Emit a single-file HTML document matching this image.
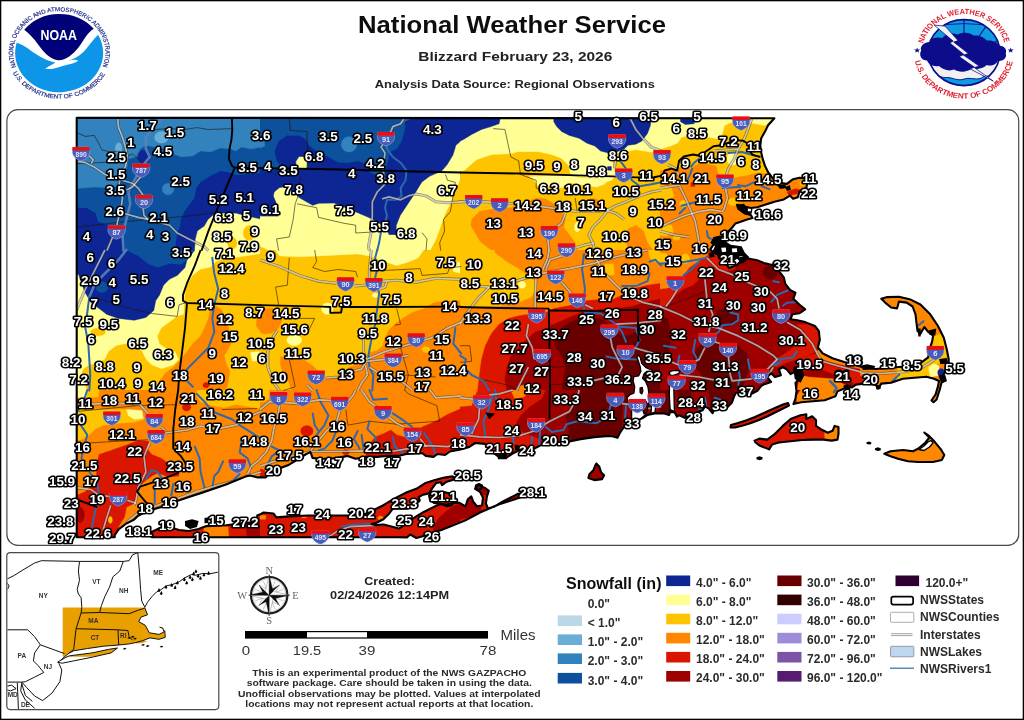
<!DOCTYPE html>
<html><head><meta charset="utf-8"><title>National Weather Service - Blizzard February 23, 2026</title>
<style>
html,body{margin:0;padding:0;background:#fff;}
body{width:1024px;height:720px;overflow:hidden;font-family:"Liberation Sans",sans-serif;}
svg{display:block;position:absolute;left:0;top:0;}
text{font-family:"Liberation Sans",sans-serif;}
.lb{font-weight:bold;font-size:12.1px;fill:#fff;stroke:#000;stroke-width:3.2px;paint-order:stroke fill;stroke-linejoin:round;text-anchor:middle;}
.sh{font-weight:bold;font-size:6.6px;fill:#dfe6ff;text-anchor:middle;}
.lg{font-weight:bold;font-size:12px;fill:#2b2b2b;}
.ins{font-size:6.5px;fill:#333;text-anchor:middle;font-weight:bold;}
</style></head><body>
<svg width="1024" height="720" viewBox="0 0 1024 720">
<rect x="0" y="0" width="1024" height="720" fill="#fff"/>
<filter id="soft" x="0" y="0" width="1024" height="720" filterUnits="userSpaceOnUse"><feGaussianBlur stdDeviation="0.42"/></filter>
<g filter="url(#soft)">

<g transform="translate(59.4,52.4) scale(1.12,1)">
<circle r="39.2" fill="#fff"/>
<path d="M-31.4,-22.6 A39,39 0 0 1 30.7,-23.6 C25,-20 22,-12 17,-5 C12,2 6,7.5 -0.7,7.9 C-8,7 -13,1 -19,-8 C-23,-14 -27,-19 -31.4,-22.6 Z" fill="#000078"/>
<path d="M-38.2,-9.6 A39.3,39.3 0 1 0 34.6,-17.6 C29,-12 26,-5 20.9,0 C17,4 13,6.5 8.3,8.2 C12,7.3 15,7 16.7,8 C15,10.5 8,12 2.8,13.5 C-3,15.5 -8,17.5 -12.6,16.4 C-10,14 -6,12 -3.5,10.2 C-12,8 -18,4 -25.1,-1.5 C-30,-5.5 -34,-8.5 -38.2,-9.6 Z" fill="#0a95e8"/>
<text x="-0.6" y="-12.9" text-anchor="middle" font-weight="bold" font-size="14.5" fill="#fff" textLength="32.5" lengthAdjust="spacingAndGlyphs">NOAA</text>
<path id="noaaT" d="M-38.46,14.76 A41.20,41.20 0 1 1 38.46,14.76" fill="none"/>
<path id="noaaB" d="M-41.52,20.25 A46.20,46.20 0 0 0 41.16,20.97" fill="none"/>
<text font-size="5.8" fill="#28348e" stroke="#28348e" stroke-width="0.2" textLength="158.6" lengthAdjust="spacingAndGlyphs"><textPath href="#noaaT" textLength="158.6" lengthAdjust="spacingAndGlyphs">NATIONAL OCEANIC AND ATMOSPHERIC ADMINISTRATION</textPath></text>
<text font-size="5.8" fill="#28348e" stroke="#28348e" stroke-width="0.2"><textPath href="#noaaB" textLength="101.4" lengthAdjust="spacingAndGlyphs">U.S. DEPARTMENT OF COMMERCE</textPath></text>
</g>
<text x="512" y="33.2" text-anchor="middle" font-weight="bold" font-size="23" fill="#111" textLength="308" lengthAdjust="spacingAndGlyphs">National Weather Service</text>
<text x="515.3" y="60.8" text-anchor="middle" font-weight="bold" font-size="13.7" fill="#222" textLength="194" lengthAdjust="spacingAndGlyphs">Blizzard February 23, 2026</text>
<text x="514.8" y="88.1" text-anchor="middle" font-weight="bold" font-size="11.6" fill="#222" textLength="280" lengthAdjust="spacingAndGlyphs">Analysis Data Source: Regional Observations</text>
<g transform="translate(964,52.6) scale(1.085,1)">
<clipPath id="nwsc"><circle r="33"/></clipPath>
<circle r="33" fill="#0b9ade"/>
<g clip-path="url(#nwsc)">
<line x1="0" y1="6" x2="-34.6" y2="-14.0" stroke="#0a0a8c" stroke-width="1"/>
<line x1="0" y1="6" x2="-21.2" y2="-27.9" stroke="#0a0a8c" stroke-width="1"/>
<line x1="0" y1="6" x2="0.0" y2="-34.0" stroke="#0a0a8c" stroke-width="1"/>
<line x1="0" y1="6" x2="21.2" y2="-27.9" stroke="#0a0a8c" stroke-width="1"/>
<line x1="0" y1="6" x2="34.6" y2="-14.0" stroke="#0a0a8c" stroke-width="1"/>
<path d="M-40,-24 Q0,-34 40,-24" fill="none" stroke="#0a0a8c" stroke-width="0.8"/>
<path d="M-34,8 L34,8 L34,22 C28,27 24,22 18,24 C13,29 6,24 0,26.5 C-6,29 -12,24 -17,25 C-23,25 -27,20 -34,22 Z" fill="#f0f0f0" stroke="#0a0a8c" stroke-width="0.9"/>
</g>
<circle r="33" fill="none" stroke="#0a0a8c" stroke-width="1.6"/>
<path d="M-39.5,-2 C-41,-7 -36,-10 -32,-10.5 C-30,-15 -24,-16 -20,-14.5 C-17,-19 -10,-20 -6,-18 C-1,-21 6,-20 9,-17 C14,-18 19,-15 21,-12 C26,-13 31,-10 32,-7 C37,-7 40,-3 38.5,1 C40,5 36,9 31,8.5 C30,12 25,14 21,12.5 C18,16 11,17.5 7,16 C3,20 -5,20 -9,17 C-14,19 -20,17 -23,13.5 C-28,14.5 -33,12 -34,8 C-39,8 -42,3 -39.5,-2 Z" fill="#0a0a8c"/>
<path d="M-27.5,-27.5 L-17.5,-26.5 L-5.5,-12 L-9.5,-10.5 L4,1 L-0.5,2.5 L14,13.5 L9.5,15 L27,28.5 L6,16.5 L9.5,14.5 L-4.5,4 L0,2 L-13,-9.5 L-10,-11.5 Z" fill="#f2f2f2" stroke="#0a0a8c" stroke-width="0.7" stroke-linejoin="miter"/>
<path id="nwsT" d="M-37.53,-9.01 A38.60,38.60 0 0 1 37.53,-9.01" fill="none"/>
<path id="nwsB" d="M-45.23,8.38 A46.00,46.00 0 0 0 45.23,8.38" fill="none"/>
<text font-size="7.6" font-weight="bold" fill="#e0202e"><textPath href="#nwsT" textLength="102.1" lengthAdjust="spacingAndGlyphs">NATIONAL WEATHER SERVICE</textPath></text>
<text font-size="7.6" font-weight="bold" fill="#e0202e"><textPath href="#nwsB" textLength="126.7" lengthAdjust="spacingAndGlyphs">U.S. DEPARTMENT OF COMMERCE</textPath></text>
<polygon points="-43.20,-5.20 -42.49,-3.17 -40.35,-3.13 -42.06,-1.83 -41.44,0.23 -43.20,-1.00 -44.96,0.23 -44.34,-1.83 -46.05,-3.13 -43.91,-3.17" fill="#0a0a8c"/>
<polygon points="43.00,-5.20 43.71,-3.17 45.85,-3.13 44.14,-1.83 44.76,0.23 43.00,-1.00 41.24,0.23 41.86,-1.83 40.15,-3.13 42.29,-3.17" fill="#0a0a8c"/>
</g>
<rect x="6.9" y="109.6" width="1011.8" height="435.8" rx="11" ry="11" fill="#fff" stroke="#4a4a4a" stroke-width="1.2"/>
<clipPath id="land">
<path d="M76.7,117.7 L774.4,118.3 L768.1,125.3 L765,131.6 L761.1,138.6 L760.3,145.6 L761.1,151.9 L762.7,158.9 L765,165.9 L768.1,172.2 L772.8,178.4 L780.6,183.1 L786.9,183.9 L793.1,179.2 L799.4,177.7 L805.6,178.4 L807.2,183.1 L806.4,187.8 L799.4,191.7 L797.8,197.2 L793.1,198.8 L790,195.6 L783.8,199.4 L774.4,201.7 L765,204.8 L757.2,207.2 L750.9,208 L743.1,206.4 L736.9,204.8 L738.4,208.8 L744.7,213.4 L750.9,215 L752.5,218.1 L746.3,219.7 L740,222 L735.3,223.6 L732.2,227.5 L729.1,230.6 L723.6,235.3 L718.1,240 L713.4,244.7 L710.3,249.4 L713.4,252.5 L721.3,255.6 L725.9,263.4 L729.1,268.1 L736.9,265 L743.1,258.8 L749.4,258.8 L757.2,260.3 L765,263.4 L772.8,265 L779.1,271.3 L783.8,277.5 L785.3,283.8 L790,290 L795.4,292.8 L793.4,298.7 L799.3,304.5 L805.2,309.4 L799.3,313.3 L792.5,314.3 L790.5,319.2 L797.3,320.2 L805.2,322.1 L814.9,326 L818.8,330.9 L819.8,339.7 L817.9,347.5 L822.7,353.4 L832.5,358.2 L844.2,362.1 L855.9,365.1 L861.8,367 L875.5,369 L887.2,368 L898.9,367 L910.6,366.1 L920.4,363.1 L928.2,357.3 L929.2,349.5 L932.1,341.6 L933.1,335.8 L928.2,331.9 L924.3,327 L920.4,333.8 L917.5,330.9 L916.5,323.1 L915.5,314.3 L912.6,306.5 L906.7,302.6 L898.9,301.6 L897.9,305.5 L897,308.4 L891.1,307.5 L885.2,302.6 L881.3,298.7 L887.2,297.1 L898.9,296.7 L910.6,299.6 L920.4,304.5 L930.2,314.3 L938,326 L943.8,337.7 L946.8,349.5 L948.7,359.2 L948.7,367 L945.8,370.9 L941.9,376.8 L944.8,380.7 L941.5,382.7 L939.5,390.5 L936.6,399.5 L933.5,402.2 L931.5,400.5 L935.6,394.4 L937.9,386.6 L939,381 L934.1,378.8 L926.3,376.8 L914.5,377.8 L902.8,378.8 L891.1,382.7 L881.3,383.6 L878.4,388.5 L875.5,384.6 L863.8,383.6 L855.9,384.6 L852,387.5 L847.1,385.6 L844.2,388.5 L837.4,391.4 L835.4,396.3 L824.7,400.2 L813,401.2 L801.3,402.2 L793.4,404.1 L795.5,398.6 L796.5,390.8 L795.5,383 L800.4,377.1 L801.4,372.2 L795.5,371.3 L790.6,374.2 L786.7,369.3 L782.8,367.3 L778.9,369.3 L780.9,375.2 L775,377.1 L771.1,373.2 L767.2,377.1 L771.1,382 L765.2,383.9 L761.3,385.9 L757.4,390.8 L751.6,393.7 L743.8,391.8 L735.9,392.7 L734,396.6 L732,402.5 L728.1,406.4 L722.3,408.4 L714.5,409.3 L712.5,413.2 L708.6,408.4 L704.7,406.4 L702.7,410.3 L696.9,412.3 L689.1,417.1 L685.2,418.1 L679.3,415.2 L676.9,416.6 L674.5,411.9 L670.6,410.3 L669.1,415 L664.4,413.4 L655,413.4 L647.2,415 L642.5,418.1 L633.4,422.4 L627.5,423.4 L623.6,427.3 L619.7,433.2 L617.5,437.7 L611.3,436.1 L606,436.1 L594.3,437.1 L580.6,439.1 L567,442 L553.3,443.9 L541.6,444.9 L533.8,448.8 L522,448.8 L514.2,452.7 L506.4,457.6 L498.6,456.6 L490.8,450.8 L484.9,443.9 L475.2,443 L469.3,446.9 L459.5,449.8 L450,451.5 L445,455 L437.5,454 L433.6,456.9 L425.8,455.9 L421.9,453 L406.3,453.9 L398.4,455.9 L386.7,455.9 L377,456.9 L367.2,456.9 L355.5,458.8 L347.7,455.9 L337.9,457.9 L328.1,458.8 L318.4,458.8 L312.5,457.9 L310.5,452 L306.6,453.9 L298.8,458.8 L289.1,464.7 L279.3,468.6 L269.5,473.5 L265.6,477.4 L257.8,477.4 L250,475.4 L245.5,476.6 L235.8,480.5 L226,484.5 L212.3,489.3 L200.6,493.2 L188.9,497.1 L177.2,501.1 L165.5,505.9 L157.7,507.9 L145.9,511.8 L138.1,515.7 L134.2,519.6 L126.4,523.5 L118.6,529.4 L114.7,535.2 L114.7,537.2 L76.7,537.2 Z"/>
<path d="M151.7,537.2 L151.7,532 L159.5,528.1 L169.3,527.1 L179,530 L188.8,531 L198.6,529 L206.4,526.1 L226,525.2 L233.8,524.2 L250,522.5 L257.2,522.2 L257.2,515.4 L261,514 L263.7,512.5 L273.4,513.5 L276.4,517.4 L289.1,516.4 L308.6,515.5 L328.1,515.5 L347.7,515.5 L360,516.5 L371.7,511 L383.4,505.2 L395.2,498.1 L406.9,492.3 L416.3,488.8 L425.6,482.9 L435,480 L444.4,477.6 L452.6,476.4 L454.6,477.6 L452.6,480 L446.7,481.7 L442,485.2 L440.9,482.3 L436.2,482.9 L432.7,487.6 L429.1,493.4 L423.3,494.6 L418.6,497 L419.8,500.5 L416.3,504 L406.9,508.7 L392.8,508.7 L389.3,513.4 L383.4,519.2 L376.4,522.7 L371.7,523.9 L375.2,525.1 L383.4,524.5 L390.5,526.3 L398.7,528.6 L401,527.4 L408,522 L416.3,516.3 L423.3,512.2 L430.3,508.7 L437.3,505.2 L442,504 L446.7,506.3 L451.4,505.2 L453.8,502.8 L459.6,502.8 L465.5,506.3 L467.8,499.3 L471.3,496.4 L473.2,501.6 L477.1,506.4 L482,505.5 L483,497.7 L480,491.8 L475.2,488.9 L478.1,485 L484.9,487.9 L488.8,490.8 L486.9,496.7 L485.9,503.5 L487.9,508.4 L494.7,506.4 L502.5,501.6 L510.3,497.7 L518.1,493.8 L525.9,493.3 L522,496.7 L514.2,499.6 L498.6,504.5 L480,512.5 L465.5,520.4 L453.8,525.1 L442,529.8 L435,532.1 L425.6,535.6 L416.3,538 L410.4,534.5 L406.9,537.4 L398.7,537.2 L151.8,537.2 Z"/>
<path d="M429.1,495.5 L433,492.6 L438,491.5 L444,492 L450,493.5 L455,497 L456,501 L452,503.5 L446,504.5 L440,503.8 L434,503 L430,500 Z"/>
<path d="M476,485.5 L479,484 L482,485.5 L481.5,488.5 L478,490 L475.5,488.5 Z"/>
<path d="M754.5,440.6 L759.4,438.6 L767.2,439.6 L775,433.8 L782.8,425.9 L790.6,419.1 L800.4,415.2 L806.3,414.2 L806.3,419.1 L812.1,416.2 L816,420.1 L816,425.9 L821.9,429.8 L827.7,432.8 L832.6,430.8 L834.6,425.9 L838.5,426.9 L838.5,433.8 L837.5,439.6 L831.6,440.6 L823.8,439.6 L814.1,439.6 L802.3,440 L790.6,441.2 L778.9,442.5 L772.1,444.5 L769.1,449.4 L764.3,447.4 L759.4,445.5 L755.5,442.5 Z"/>
<path d="M884.3,453.8 L890.5,451.3 L903,450 L913,451.3 L918,448.8 L925.5,442.5 L929.3,437.5 L924.3,432.5 L928,435 L934.3,441.3 L940.5,448.8 L944.3,455 L941.8,460 L933,462 L918,462 L908,461.3 L898,458.8 L890.5,456.3 Z"/>
<path d="M596.3,463.5 L599.2,466.4 L601.1,472.3 L604.1,475.2 L602.1,479.1 L594.3,480.1 L588.4,478.1 L589.4,474.2 L593.3,470.3 L595.3,465.4 Z"/>
<path d="M789,405.5 L783,408.5 L777,411.5 L767,416.5 L759,420 L751,423 L743,425.5 L735,427.5 L730.5,427.5 L731,425 L738,423 L746,420.5 L755,417 L765,412.5 L775,408 L783,404.5 L788,403 Z"/>
</clipPath>
<clipPath id="frame"><rect x="8" y="110" width="1010" height="434.5" rx="10"/></clipPath>
<g clip-path="url(#frame)">
<g clip-path="url(#land)">
<rect x="60" y="110" width="960" height="440" fill="#db1400"/>
<clipPath id="t0"><rect x="60" y="110" width="200" height="140"/></clipPath>
<g clip-path="url(#t0)">
<rect x="60" y="110" width="200" height="140" fill="#08519c"/>
<path d="M60,110 L231.9,110 L231.9,149.1 L220.2,148.1 L210.4,152 L200.6,151 L192.8,155.9 L181.1,156.9 L173.3,153.9 L169.4,149.1 L153.8,147.1 L145.9,145.2 L140.1,149.1 L136.2,156.9 L128.4,158.8 L127.4,166.6 L124.5,174.5 L118.6,178.4 L116.6,186.2 L106.9,188.1 L95.2,187.1 L83.4,188.1 L60,189.1 Z" fill="#3182bd" stroke="#3182bd" stroke-width="0.4"/>
<path d="M231.9,110 L261.2,110 L261.2,147.1 L251.4,149.1 L241.6,147.1 L235.8,151 L230.9,149.1 Z" fill="#3182bd" stroke="#3182bd" stroke-width="0.4"/>
<path d="M60,206.7 L87.3,208.6 L95.2,213.5 L98.1,222.3 L108.8,225.2 L118.6,227.2 L122.5,235 L124.5,250.6 L60,250.6 Z" fill="#082694" stroke="#082694" stroke-width="0.4"/>
<path d="M261.2,173.5 L235.8,175.4 L228,172.5 L220.2,171.5 L210.4,176.4 L200.6,182.3 L196.7,188.1 L194.8,197.9 L188.9,205.7 L185,211.6 L181.1,219.4 L180.1,227.2 L177.2,235 L175.2,250.6 L261.2,250.6 Z" fill="#082694" stroke="#082694" stroke-width="0.4"/>
<path d="M150.6,156.9 L150,159.9 L148.3,162.4 L145.8,163.7 L143,163.7 L140.5,162.4 L138.7,159.9 L138.1,156.9 L138.7,153.8 L140.5,151.4 L143,150 L145.8,150 L148.3,151.4 L150,153.8 Z" fill="#082694" stroke="#082694" stroke-width="0.4"/>
<path d="M168.6,137.3 L167.9,139.9 L165.9,141.9 L163.1,143.1 L160,143.1 L157.2,141.9 L155.2,139.9 L154.5,137.3 L155.2,134.8 L157.2,132.8 L160,131.6 L163.1,131.6 L165.9,132.8 L167.9,134.8 Z" fill="#6baed6" stroke="#6baed6" stroke-width="0.4"/>
<path d="M121.9,148.5 L121.6,151 L120.7,153.1 L119.3,154.2 L117.9,154.2 L116.5,153.1 L115.6,151 L115.3,148.5 L115.6,145.9 L116.5,143.9 L117.9,142.8 L119.3,142.8 L120.7,143.9 L121.6,145.9 Z" fill="#6baed6" stroke="#6baed6" stroke-width="0.4"/>
<path d="M173.9,189.1 L173.3,191.6 L171.7,193.7 L169.3,194.8 L166.7,194.8 L164.4,193.7 L162.7,191.6 L162.1,189.1 L162.7,186.6 L164.4,184.5 L166.7,183.4 L169.3,183.4 L171.7,184.5 L173.3,186.6 Z" fill="#3182bd" stroke="#3182bd" stroke-width="0.4"/>
<path d="M194.8,250.6 L195.7,238.9 L197.7,231.1 L204.5,226.2 L208.4,219.4 L214.3,214.5 L222.1,213.5 L235.8,213.5 L247.5,216.4 L261.2,219.4 L261.2,250.6 Z" fill="#ffff96" stroke="#ffff96" stroke-width="0.4"/>
<path d="M254.9,233 L254.3,236.3 L252.7,238.8 L250.4,240.3 L247.8,240.3 L245.4,238.8 L243.8,236.3 L243.2,233 L243.8,229.8 L245.4,227.2 L247.8,225.8 L250.4,225.8 L252.7,227.2 L254.3,229.8 Z" fill="#ffc400" stroke="#ffc400" stroke-width="0.4"/>
<path d="M237,243.2 L236.5,245.7 L235.2,247.8 L233.3,248.9 L231.2,248.9 L229.3,247.8 L228,245.7 L227.6,243.2 L228,240.7 L229.3,238.6 L231.2,237.5 L233.3,237.5 L235.2,238.6 L236.5,240.7 Z" fill="#ffc400" stroke="#ffc400" stroke-width="0.4"/>
</g>
<clipPath id="t1"><rect x="260" y="110" width="200" height="140"/></clipPath>
<g clip-path="url(#t1)">
<rect x="260" y="110" width="200" height="140" fill="#082694"/>
<path d="M260,110 L402.6,110 L405.5,127.6 L401.6,141.2 L396.7,149.1 L389.9,152 L387.9,160.8 L385,172.5 L377.2,175.4 L370.4,172.5 L366.4,163.7 L357.7,161.2 L345.9,163.1 L338.1,162.3 L326.4,155.9 L314.7,150 L308.8,145.2 L305.9,139.3 L299.1,135.4 L287.3,135.4 L278.6,141.2 L274.6,151 L276.6,160.8 L281.5,166.6 L271.7,171.5 L260,169.6 Z" fill="#08519c" stroke="#08519c" stroke-width="0.4"/>
<path d="M356.9,144.4 L356.1,147.8 L353.9,150.5 L350.8,152 L347.3,152 L344.2,150.5 L342,147.8 L341.2,144.4 L342,141 L344.2,138.3 L347.3,136.8 L350.8,136.8 L353.9,138.3 L356.1,141 Z" fill="#3182bd" stroke="#3182bd" stroke-width="0.4"/>
<path d="M260,137.3 L263.9,139.3 L264.9,146.1 L260,148.1 Z" fill="#3182bd" stroke="#3182bd" stroke-width="0.4"/>
<path d="M260,216.4 L278.6,216.4 L278.6,207.7 L273.7,195.9 L274.6,192 L279.5,188.1 L286.4,187.1 L299.1,197.9 L312.7,205.7 L318.6,203.8 L334.2,203.4 L353.8,211.6 L365.5,216.4 L372.3,219.4 L385,227.2 L388.9,235 L396.7,235 L396.7,225.2 L400.6,215.5 L408.4,203.8 L416.2,192 L422.1,182.3 L429.9,176.4 L441.6,171.5 L447.5,164.7 L453.4,154.9 L456.3,145.2 L461.2,141.2 L461.2,250.6 L260,250.6 Z" fill="#ffff96" stroke="#ffff96" stroke-width="0.4"/>
<path d="M296.1,161.8 L299.1,156.9 L303.9,156.9 L306.9,160.8 L306.9,168.6 L297.1,168.6 Z" fill="#ffff96" stroke="#ffff96" stroke-width="0.4"/>
<path d="M465.1,168.6 L458.2,185 L451.6,201.6 L445,215.1 L436.8,238.3 L429.9,251.6 L465.1,251.6 Z" fill="#ffc400" stroke="#ffc400" stroke-width="0.4"/>
<path d="M260,246.7 L265.9,249.1 L267.8,250.6 L260,250.6 Z" fill="#ffc400" stroke="#ffc400" stroke-width="0.4"/>
</g>
<clipPath id="t2"><rect x="460" y="110" width="200" height="140"/></clipPath>
<g clip-path="url(#t2)">
<rect x="460" y="110" width="200" height="140" fill="#ffff96"/>
<path d="M460,110 L502,110 L499.1,123.7 L491.2,126.6 L481.5,129.5 L471.7,134.4 L463.9,139.3 L460,141.2 Z" fill="#082694" stroke="#082694" stroke-width="0.4"/>
<path d="M553.8,110 L652.4,110 L650.4,125.6 L647.5,133.4 L641.6,141.2 L635.8,144.2 L628,145.2 L624.1,149.1 L616.2,152 L608.4,153 L600.6,151 L594.8,146.1 L587,143.2 L579.1,138.3 L569.4,135.4 L561.6,131.5 L556.7,126.6 L553.8,121.7 Z" fill="#082694" stroke="#082694" stroke-width="0.4"/>
<path d="M460,172.9 L465.1,170 L476.6,160 L491.6,154.9 L510.8,153.9 L518.6,152 L538.1,152 L551.8,154.9 L561.6,158.8 L568.4,165.7 L570.4,174.5 L581.1,177.4 L596.7,178.4 L604.5,183.2 L612.3,180.3 L616.2,174.5 L614.3,168.6 L612.3,158.8 L616.2,153.9 L626,152 L635.8,150 L647.5,152 L661.2,153.9 L661.2,250.6 L460,250.6 Z" fill="#ffc400" stroke="#ffc400" stroke-width="0.4"/>
<path d="M529.3,176.4 L570.4,175.4 L581.1,178 L596.7,178.8 L605.5,183.8 L596.7,187.1 L585,185.2 L569.4,182.7 L561.6,187.7 L545.9,186.6 L537.1,185.2 L534.2,180.3 Z" fill="#ffff96" stroke="#ffff96" stroke-width="0.4"/>
<path d="M494.4,252.6 L480.3,241.6 L470.9,225.8 L471.7,219.4 L479.5,211.6 L495.2,208.6 L510.8,207.7 L524.5,201.8 L538.1,197.9 L545.9,198.9 L553.8,203.8 L561.6,211.6 L565.5,219.4 L563.5,227.2 L569.4,235 L575.2,242.8 L577.2,252.6 Z" fill="#ff8700" stroke="#ff8700" stroke-width="0.4"/>
<path d="M601,205.1 L600.2,208 L597.9,210.3 L594.6,211.6 L591,211.6 L587.7,210.3 L585.4,208 L584.6,205.1 L585.4,202.2 L587.7,199.9 L591,198.6 L594.6,198.6 L597.9,199.9 L600.2,202.2 Z" fill="#ff8700" stroke="#ff8700" stroke-width="0.4"/>
<path d="M628,229.1 L635.8,225.2 L643.6,231.1 L647.5,242.8 L653.4,250.6 L628,250.6 L626,238.9 Z" fill="#ff8700" stroke="#ff8700" stroke-width="0.4"/>
<path d="M579.9,227.2 L579.7,229.2 L578.9,230.9 L577.8,231.8 L576.6,231.8 L575.5,230.9 L574.7,229.2 L574.5,227.2 L574.7,225.2 L575.5,223.5 L576.6,222.6 L577.8,222.6 L578.9,223.5 L579.7,225.2 Z" fill="#ffff96" stroke="#ffff96" stroke-width="0.4"/>
<path d="M607.5,166.6 L611.4,166.6 L611.4,170.2 L607.5,170.2 Z" fill="#082694" stroke="#082694" stroke-width="0.4"/>
</g>
<clipPath id="t3"><rect x="660" y="110" width="200" height="140"/></clipPath>
<g clip-path="url(#t3)">
<rect x="660" y="110" width="200" height="140" fill="#ff8700"/>
<path d="M660,149.1 L667.8,147.1 L677.6,143.2 L681.5,137.3 L689.3,135.4 L708.8,137.3 L718.6,139.3 L722.5,133.4 L724.5,125.6 L730.3,122.7 L751.8,123.3 L765.5,125.6 L772.3,118.8 L777.2,118.8 L777.2,174.5 L757.7,172.5 L745.9,175.4 L734.2,177.4 L718.6,174.5 L716.6,165.7 L703,162.7 L695.2,164.7 L691.2,168.6 L681.5,166.6 L671.7,168.6 L660,170.5 Z" fill="#ffc400" stroke="#ffc400" stroke-width="0.4"/>
<path d="M660,110 L775.2,110 L772.3,118.8 L765.5,125.6 L751.8,123.3 L730.3,122.7 L724.5,125.6 L722.5,133.4 L718.6,139.3 L708.8,137.3 L689.3,135.4 L681.5,137.3 L677.6,143.2 L667.8,147.1 L660,149.1 Z" fill="#ffff96" stroke="#ffff96" stroke-width="0.4"/>
<path d="M738.5,158.8 L737.9,161.5 L736.3,163.7 L734,164.9 L731.4,164.9 L729,163.7 L727.4,161.5 L726.8,158.8 L727.4,156.1 L729,153.9 L731.4,152.7 L734,152.7 L736.3,153.9 L737.9,156.1 Z" fill="#ffff96" stroke="#ffff96" stroke-width="0.4"/>
<path d="M660,184.2 L671.7,188.1 L673.7,195.9 L667.8,203.8 L660,201.8 Z" fill="#ffc400" stroke="#ffc400" stroke-width="0.4"/>
<path d="M687.3,203.8 L687,205.3 L685.9,206.5 L684.3,207.2 L682.6,207.2 L681,206.5 L679.9,205.3 L679.5,203.8 L679.9,202.2 L681,201 L682.6,200.3 L684.3,200.3 L685.9,201 L687,202.2 Z" fill="#ffc400" stroke="#ffc400" stroke-width="0.4"/>
<path d="M738.1,201.8 L737.6,203.5 L736.3,204.9 L734.3,205.6 L732.2,205.6 L730.2,204.9 L728.8,203.5 L728.4,201.8 L728.8,200.1 L730.2,198.7 L732.2,198 L734.3,198 L736.3,198.7 L737.6,200.1 Z" fill="#ffc400" stroke="#ffc400" stroke-width="0.4"/>
<path d="M660,223.3 L671.7,225.2 L673.7,233 L665.9,236 L660,235 Z" fill="#ffc400" stroke="#ffc400" stroke-width="0.4"/>
<path d="M680.1,237.9 L679.8,238.9 L678.8,239.8 L677.4,240.2 L675.8,240.2 L674.4,239.8 L673.4,238.9 L673.1,237.9 L673.4,236.9 L674.4,236.1 L675.8,235.6 L677.4,235.6 L678.8,236.1 L679.8,236.9 Z" fill="#ffc400" stroke="#ffc400" stroke-width="0.4"/>
<path d="M787,192 L794.8,188.7 L801,189.7 L796.7,194 L788.9,195.4 Z" fill="#db1400" stroke="#db1400" stroke-width="0.4"/>
<path d="M690.9,182.7 L694.8,182.7 L694.8,186.6 L690.9,186.6 Z" fill="#db1400" stroke="#db1400" stroke-width="0.4"/>
<path d="M800.2,181.3 L805.5,181.3 L805.5,185.4 L800.2,185.4 Z" fill="#ffc400" stroke="#ffc400" stroke-width="0.4"/>
<path d="M680.5,110 L695.2,110 L694.2,123.7 L685.4,124.6 L680.5,121.7 Z" fill="#082694" stroke="#082694" stroke-width="0.4"/>
</g>
<clipPath id="t4"><rect x="60" y="250" width="200" height="140"/></clipPath>
<g clip-path="url(#t4)">
<rect x="60" y="250" width="200" height="140" fill="#ffff96"/>
<path d="M60,250 L194.8,250 L187,259.8 L185,267.6 L177.2,275.4 L169.4,279.3 L163.5,285.2 L159.6,294.9 L155.7,300.8 L153.8,310.5 L145.9,317.4 L134.2,320.3 L118.6,318.4 L106.9,314.5 L99.1,308.6 L91.2,302.7 L85.4,293 L81.5,283.2 L78.6,274.4 L60,272.5 Z" fill="#082694" stroke="#082694" stroke-width="0.4"/>
<path d="M126.4,250 L194.8,250 L187,259.8 L181.1,264.6 L169.4,263.7 L157.7,267.6 L147.9,263.7 L138.1,255.9 Z" fill="#08519c" stroke="#08519c" stroke-width="0.4"/>
<path d="M107.9,287.1 L107.3,289.5 L105.6,291.4 L103.3,292.4 L100.7,292.4 L98.3,291.4 L96.7,289.5 L96.1,287.1 L96.7,284.7 L98.3,282.8 L100.7,281.8 L103.3,281.8 L105.6,282.8 L107.3,284.7 Z" fill="#08519c" stroke="#08519c" stroke-width="0.4"/>
<path d="M261.2,253.9 L235.8,257.8 L222.1,259.8 L216.2,261.7 L210.4,267.6 L200.6,269.5 L192.8,275.4 L187,285.2 L185,294.9 L184,314.5 L177.2,316.4 L169.4,322.3 L161.6,328.1 L157.7,335.9 L159.6,343.8 L165.5,347.7 L175.2,351.6 L179.1,359.4 L173.3,365.2 L161.6,369.1 L151.8,365.2 L145.9,359.4 L142,351.6 L136.2,345.7 L126.4,343.8 L116.6,345.7 L108.8,351.6 L104.9,359.4 L97.1,363.3 L89.3,365.2 L83.4,369.1 L81.5,375 L85.4,384.8 L87.3,390.6 L261.2,390.6 Z" fill="#ffc400" stroke="#ffc400" stroke-width="0.4"/>
<path d="M105.5,332 L104.8,333.7 L102.7,335.1 L99.7,335.8 L96.4,335.8 L93.5,335.1 L91.4,333.7 L90.7,332 L91.4,330.3 L93.5,329 L96.4,328.2 L99.7,328.2 L102.7,329 L104.8,330.3 Z" fill="#ffc400" stroke="#ffc400" stroke-width="0.4"/>
<path d="M210.4,308.6 L216.2,306.2 L222.1,310.5 L226,320.3 L229.9,332 L231.9,341.8 L228,349.6 L224.1,355.5 L226,363.3 L229.9,371.1 L228,382.8 L226,390.6 L155.7,390.6 L159.6,380.9 L165.5,373 L173.3,367.2 L181.1,359.4 L187,351.6 L192.8,343.8 L200.6,335.9 L204.5,328.1 L208.4,318.4 Z" fill="#ff8700" stroke="#ff8700" stroke-width="0.4"/>
<path d="M209.2,385.2 L208.9,386.3 L208,387.3 L206.8,387.8 L205.4,387.8 L204.1,387.3 L203.3,386.3 L203,385.2 L203.3,384 L204.1,383 L205.4,382.5 L206.8,382.5 L208,383 L208.9,384 Z" fill="#db1400" stroke="#db1400" stroke-width="0.4"/>
<path d="M250.4,352.5 L259.2,351.6 L259.2,360.4 L252.4,361.3 Z" fill="#ffff96" stroke="#ffff96" stroke-width="0.4"/>
<path d="M261.2,312.5 L256.9,316.4 L256.3,326.2 L261.2,332 Z" fill="#ff8700" stroke="#ff8700" stroke-width="0.4"/>
</g>
<clipPath id="t5"><rect x="260" y="250" width="200" height="140"/></clipPath>
<g clip-path="url(#t5)">
<rect x="260" y="250" width="200" height="140" fill="#ffc400"/>
<path d="M275.6,250 L279.5,255.9 L299.1,256.8 L318.6,255.9 L338.1,254.9 L357.7,253.9 L369.4,255.9 L385,261.7 L396.7,265.6 L408.4,262.1 L418.2,257.8 L423.7,250 Z" fill="#ffff96" stroke="#ffff96" stroke-width="0.4"/>
<path d="M452.4,263.7 L461.2,261.7 L461.2,273.4 L453.4,271.5 Z" fill="#ffff96" stroke="#ffff96" stroke-width="0.4"/>
<path d="M333.2,308.6 L332.7,311.1 L331,313.2 L328.7,314.3 L326.1,314.3 L323.7,313.2 L322.1,311.1 L321.5,308.6 L322.1,306.1 L323.7,304 L326.1,302.9 L328.7,302.9 L331,304 L332.7,306.1 Z" fill="#ffff96" stroke="#ffff96" stroke-width="0.4"/>
<path d="M301.6,340.2 L300.9,342.6 L298.8,344.5 L295.8,345.6 L292.5,345.6 L289.6,344.5 L287.5,342.6 L286.8,340.2 L287.5,337.9 L289.6,336 L292.5,334.9 L295.8,334.9 L298.8,336 L300.9,337.9 Z" fill="#ffff96" stroke="#ffff96" stroke-width="0.4"/>
<path d="M378.2,295.3 L377.9,296.3 L377.1,297.1 L375.9,297.6 L374.6,297.6 L373.4,297.1 L372.6,296.3 L372.3,295.3 L372.6,294.3 L373.4,293.5 L374.6,293 L375.9,293 L377.1,293.5 L377.9,294.3 Z" fill="#ffff96" stroke="#ffff96" stroke-width="0.4"/>
<path d="M260,312.5 L263.9,308.6 L271.7,308.2 L279.5,312.5 L281.9,320.3 L278.6,328.1 L271.7,333 L263.9,334 L260,332 Z" fill="#ff8700" stroke="#ff8700" stroke-width="0.4"/>
<path d="M280.5,356.4 L289.3,358.4 L304.9,360.4 L312.5,365.8 L325,377 L338.9,377 L350,366.8 L362.5,363.7 L366.4,362.3 L366.4,390.6 L291.2,390.6 L289.3,382.8 L283.4,375 L280.5,365.2 Z" fill="#ff8700" stroke="#ff8700" stroke-width="0.4"/>
<path d="M461.2,300.4 L443.6,301.2 L433.8,302.7 L424.1,308.6 L412.3,312.5 L402.6,318.4 L394.8,324.2 L388.9,330.1 L385,337.9 L383,345.7 L377.2,350.6 L369.4,352.5 L366.4,359.4 L366.4,390.6 L461.2,390.6 Z" fill="#ff8700" stroke="#ff8700" stroke-width="0.4"/>
<path d="M429.9,349.6 L429.5,350.9 L428.5,351.9 L426.9,352.5 L425.1,352.5 L423.6,351.9 L422.5,350.9 L422.1,349.6 L422.5,348.3 L423.6,347.3 L425.1,346.8 L426.9,346.8 L428.5,347.3 L429.5,348.3 Z" fill="#ffc400" stroke="#ffc400" stroke-width="0.4"/>
</g>
<clipPath id="t6"><rect x="460" y="250" width="200" height="140"/></clipPath>
<g clip-path="url(#t6)">
<rect x="460" y="250" width="200" height="140" fill="#ff8700"/>
<path d="M460,250 L494.4,250 L494.4,252.5 L506.9,261.9 L522.5,271.3 L528.8,277.5 L535.2,280.7 L536.6,289.1 L531.3,296.9 L518.6,302.3 L499.1,305.7 L479.5,306.6 L460,306.2 Z" fill="#ffc400" stroke="#ffc400" stroke-width="0.4"/>
<path d="M525.6,284.8 L525.3,286.3 L524.3,287.5 L522.9,288.2 L521.3,288.2 L519.9,287.5 L518.9,286.3 L518.6,284.8 L518.9,283.2 L519.9,282 L521.3,281.3 L522.9,281.3 L524.3,282 L525.3,283.2 Z" fill="#ffff96" stroke="#ffff96" stroke-width="0.4"/>
<path d="M648.5,250 L661.2,250 L661.2,262.7 L653.4,261.7 L649.5,256.8 Z" fill="#ffc400" stroke="#ffc400" stroke-width="0.4"/>
<path d="M604.5,264.6 L613.3,263.7 L614.3,274.4 L606.5,275.4 Z" fill="#ffc400" stroke="#ffc400" stroke-width="0.4"/>
<path d="M477.6,390.6 L479.5,375 L481.5,359.4 L485.4,345.7 L491.2,334 L499.1,324.2 L508.8,318.4 L520.5,315.4 L527.4,314.5 L545.9,312.5 L553.8,308.6 L569.4,305.7 L577.2,303.1 L585,300.8 L596.7,299.8 L612.3,299.8 L620.2,295.9 L628,292 L635.8,288.1 L647.5,285.2 L661.2,283.2 L661.2,390.6 Z" fill="#db1400" stroke="#db1400" stroke-width="0.4"/>
<path d="M506.9,390.6 L504.9,378.9 L506.9,367.2 L510.8,356.4 L518.6,347.7 L528.4,337.9 L535.2,332 L545.9,329.1 L550.2,325.8 L578.6,313.7 L585,310.9 L600.6,309.6 L616.2,308.6 L631.9,306.6 L643.6,302.7 L661.2,298.8 L661.2,390.6 Z" fill="#9e0000" stroke="#9e0000" stroke-width="0.4"/>
<path d="M561.6,390.6 L563.5,378.9 L565.5,367.2 L561.6,355.5 L555.7,347.7 L553.8,335.9 L561.6,328.1 L569.4,322.7 L577.2,318.8 L588.9,317.4 L600.6,318.8 L608.4,324.2 L616.2,332 L628,335.9 L635.8,332 L639.7,324.2 L647.5,322.3 L661.2,324.2 L661.2,390.6 Z" fill="#690000" stroke="#690000" stroke-width="0.4"/>
<path d="M516.6,390.6 L520.5,385.7 L530.3,383.8 L538.1,386.7 L540.1,390.6 Z" fill="#ff8700" stroke="#ff8700" stroke-width="0.4"/>
</g>
<clipPath id="t7"><rect x="660" y="250" width="200" height="140"/></clipPath>
<g clip-path="url(#t7)">
<rect x="660" y="250" width="200" height="140" fill="#9e0000"/>
<path d="M660,289.1 L667.8,288.1 L675.6,283.2 L683.4,275.4 L689.3,267.6 L699.1,260.7 L706.9,255.9 L708.8,250 L742,250 L745.9,257.8 L738.1,263.7 L734.2,269.5 L724.5,271.5 L714.7,269.5 L706.9,271.5 L699.1,279.3 L693.2,285.2 L683.4,289.1 L675.6,294.9 L669.8,302.7 L665.9,306.6 L660,307.6 Z" fill="#db1400" stroke="#db1400" stroke-width="0.4"/>
<path d="M660,250 L708.8,250 L706.9,255.9 L699.1,260.7 L689.3,267.6 L683.4,275.4 L675.6,283.2 L667.8,288.1 L660,289.1 Z" fill="#ff8700" stroke="#ff8700" stroke-width="0.4"/>
<path d="M660,252.9 L666.8,253.9 L668.8,259.8 L663.9,262.7 L660,261.7 Z" fill="#ffc400" stroke="#ffc400" stroke-width="0.4"/>
<path d="M689.7,258.8 L689.3,260.9 L688.1,262.6 L686.3,263.5 L684.4,263.5 L682.7,262.6 L681.5,260.9 L681.1,258.8 L681.5,256.7 L682.7,255 L684.4,254 L686.3,254 L688.1,255 L689.3,256.7 Z" fill="#ffc400" stroke="#ffc400" stroke-width="0.4"/>
<path d="M777.8,272.5 L777,275.5 L775,278 L772,279.3 L768.7,279.3 L765.7,278 L763.7,275.5 L762.9,272.5 L763.7,269.4 L765.7,267 L768.7,265.6 L772,265.6 L775,267 L777,269.4 Z" fill="#690000" stroke="#690000" stroke-width="0.4"/>
<path d="M716.6,310.5 L726.4,308.6 L736.2,314.5 L738.1,322.3 L728.4,327.1 L718.6,324.2 Z" fill="#690000" stroke="#690000" stroke-width="0.4"/>
<path d="M699.1,345.7 L718.6,343.8 L738.1,345.7 L746.9,353.5 L748.9,367.2 L745.9,378.9 L742,390.6 L704.9,390.6 L703,377 L695.2,367.2 L693.2,355.5 Z" fill="#690000" stroke="#690000" stroke-width="0.4"/>
<path d="M660,316.4 L667.8,318.4 L670.7,332 L669.8,347.7 L665.9,359.4 L660,361.3 Z" fill="#690000" stroke="#690000" stroke-width="0.4"/>
<path d="M796.7,324.2 L808.4,324.2 L816.2,328.1 L820.2,335.9 L819.2,343.8 L816.2,351.6 L808.4,355.5 L796.7,359.4 L785,363.3 L777.2,367.2 L769.4,365.2 L775.2,359.4 L785,353.5 L792.8,347.7 L800.6,339.8 L804.5,332 Z" fill="#db1400" stroke="#db1400" stroke-width="0.4"/>
<path d="M796.7,359.4 L816.2,353.5 L828,359.4 L843.6,363.3 L861.2,371.1 L861.2,386.7 L835.8,375 L816.2,367.2 L804.5,371.1 L796.7,375 Z" fill="#db1400" stroke="#db1400" stroke-width="0.4"/>
<path d="M816.2,351.6 L822.1,359.4 L835.8,363.3 L861.2,369.1 L861.2,363.7 L835.8,359.4 L824.1,355.5 L819.2,348.6 Z" fill="#ff8700" stroke="#ff8700" stroke-width="0.4"/>
<path d="M800.6,375 L808.4,377 L835.8,378.9 L847.5,386.7 L861.2,390.6 L796.7,390.6 Z" fill="#ff8700" stroke="#ff8700" stroke-width="0.4"/>
</g>
<clipPath id="t8"><rect x="860" y="250" width="170" height="140"/></clipPath>
<g clip-path="url(#t8)">
<rect x="860" y="250" width="170" height="140" fill="#ff8700"/>
<path d="M824,363.8 L835.7,363.8 L845.5,367.7 L853.3,373.5 L863.1,376.4 L862.1,385.2 L855.2,387.2 L847.4,381.3 L835.7,379.4 L824,378.4 Z" fill="#db1400" stroke="#db1400" stroke-width="0.4"/>
<path d="M896.3,383.3 L897.8,363.8 L902.1,361.4 L925.6,358.3 L933.4,355 L933.4,336.4 L943.5,333.5 L950,357.9 L945.1,361.8 L937.3,363.8 L933.4,375.5 L911.9,379.4 Z" fill="#ffc400" stroke="#ffc400" stroke-width="0.4"/>
<path d="M928.5,367.7 L933.4,363.8 L939.2,365.7 L938.3,375.5 L930.4,377 Z" fill="#ffff96" stroke="#ffff96" stroke-width="0.4"/>
<path d="M944.7,372.5 L944.4,374.2 L943.4,375.6 L942,376.3 L940.4,376.3 L939,375.6 L938,374.2 L937.7,372.5 L938,370.8 L939,369.5 L940.4,368.7 L942,368.7 L943.4,369.5 L944.4,370.8 Z" fill="#082694" stroke="#082694" stroke-width="0.4"/>
</g>
<clipPath id="t9"><rect x="60" y="390" width="200" height="160"/></clipPath>
<g clip-path="url(#t9)">
<rect x="60" y="390" width="200" height="160" fill="#ff8700"/>
<path d="M76.6,409.5 L87.3,408.6 L103,409.5 L124.5,409.5 L142,411.5 L144,419.3 L134.2,422.2 L118.6,423.2 L103,425.2 L95.2,429.1 L89.3,434.9 L83.4,438.8 L76.6,440.8 L60,440.8 L60,409.5 Z" fill="#ffc400" stroke="#ffc400" stroke-width="0.4"/>
<path d="M126.4,409.5 L142,410.5 L143,418.3 L134.2,419.3 L128.4,415.4 Z" fill="#ffff96" stroke="#ffff96" stroke-width="0.4"/>
<path d="M60,390 L87.3,390 L87.3,396.8 L79.5,397.8 L60,396.8 Z" fill="#ffff96" stroke="#ffff96" stroke-width="0.4"/>
<path d="M87.3,390 L99.1,390 L98.1,396.8 L87.3,397.8 Z" fill="#ffc400" stroke="#ffc400" stroke-width="0.4"/>
<path d="M196.7,390 L261.2,390 L261.2,408.6 L253.4,407.6 L235.8,404.6 L224.1,407.6 L212.3,405.6 L200.6,401.7 L196.7,395.9 Z" fill="#ffc400" stroke="#ffc400" stroke-width="0.4"/>
<path d="M99.1,454.5 L110.8,450.5 L124.5,445.7 L138.1,440.4 L148.9,441.2 L146.9,448.6 L151.8,454.5 L161.6,458.4 L169.4,464.2 L177.2,470.1 L179.1,475.9 L169.4,476.9 L157.7,473 L151.8,475.9 L144,481.8 L138.1,487.7 L136.2,495.5 L134.2,503.3 L126.4,507.2 L124.5,517 L118.6,526.7 L116.6,546.2 L60,546.2 L60,495.5 L76.6,495.5 L85.4,491.6 L91.2,485.7 L97.1,479.8 L96.1,468.1 Z" fill="#db1400" stroke="#db1400" stroke-width="0.4"/>
<path d="M84.4,515 L83.9,518.4 L82.6,521.1 L80.6,522.6 L78.4,522.6 L76.5,521.1 L75.1,518.4 L74.6,515 L75.1,511.6 L76.5,508.9 L78.4,507.4 L80.6,507.4 L82.6,508.9 L83.9,511.6 Z" fill="#9e0000" stroke="#9e0000" stroke-width="0.4"/>
<path d="M190.9,407.2 L190.4,408.9 L189.2,410.2 L187.5,411 L185.6,411 L183.9,410.2 L182.7,408.9 L182.3,407.2 L182.7,405.5 L183.9,404.1 L185.6,403.4 L187.5,403.4 L189.2,404.1 L190.4,405.5 Z" fill="#db1400" stroke="#db1400" stroke-width="0.4"/>
<path d="M112.3,519.9 L112.2,521.4 L111.6,522.6 L110.8,523.3 L110,523.3 L109.2,522.6 L108.6,521.4 L108.4,519.9 L108.6,518.4 L109.2,517.1 L110,516.5 L110.8,516.5 L111.6,517.1 L112.2,518.4 Z" fill="#ffc400" stroke="#ffc400" stroke-width="0.4"/>
<path d="M151.8,515 L261.2,505.2 L261.2,546.2 L151.8,546.2 Z" fill="#db1400" stroke="#db1400" stroke-width="0.4"/>
<path d="M203.6,526.7 L216.2,524.8 L228,526.7 L228.9,538.4 L204.5,538.4 Z" fill="#ff8700" stroke="#ff8700" stroke-width="0.4"/>
<path d="M245.5,524.8 L261.2,520.9 L261.2,538.4 L247.5,538.4 Z" fill="#9e0000" stroke="#9e0000" stroke-width="0.4"/>
</g>
<clipPath id="t10"><rect x="260" y="390" width="200" height="160"/></clipPath>
<g clip-path="url(#t10)">
<rect x="260" y="390" width="200" height="160" fill="#ff8700"/>
<path d="M260,390 L268.8,390 L268.8,398.8 L263.9,401.7 L260,401.7 Z" fill="#ffc400" stroke="#ffc400" stroke-width="0.4"/>
<path d="M365.5,455.4 L369.4,444.7 L375.2,436.9 L383,433.9 L390.9,430 L396.7,434.9 L404.5,436.9 L414.3,434.9 L422.1,427.1 L435.8,421.2 L447.5,414.4 L461.2,408.6 L461.2,468.1 L365.5,468.1 Z" fill="#db1400" stroke="#db1400" stroke-width="0.4"/>
<path d="M313.1,431 L312.5,433.4 L310.8,435.3 L308.3,436.3 L305.5,436.3 L303,435.3 L301.2,433.4 L300.6,431 L301.2,428.6 L303,426.7 L305.5,425.7 L308.3,425.7 L310.8,426.7 L312.5,428.6 Z" fill="#db1400" stroke="#db1400" stroke-width="0.4"/>
<path d="M349.5,452.1 L349.1,453.3 L348.1,454.2 L346.7,454.8 L345.2,454.8 L343.7,454.2 L342.8,453.3 L342.4,452.1 L342.8,450.9 L343.7,450 L345.2,449.4 L346.7,449.4 L348.1,450 L349.1,450.9 Z" fill="#db1400" stroke="#db1400" stroke-width="0.4"/>
<path d="M260,469.1 L264.9,470.1 L263.9,477.9 L260,478.9 Z" fill="#db1400" stroke="#db1400" stroke-width="0.4"/>
<path d="M260,499.4 L377.2,499.4 L461.2,468.1 L461.2,546.2 L260,546.2 Z" fill="#db1400" stroke="#db1400" stroke-width="0.4"/>
<path d="M433.8,526.7 L439.7,517 L451.4,507.2 L461.2,503.3 L461.2,546.2 L431.9,546.2 Z" fill="#9e0000" stroke="#9e0000" stroke-width="0.4"/>
<path d="M383.4,517.9 L383.1,518.8 L382.3,519.5 L381.2,519.8 L379.9,519.8 L378.7,519.5 L377.9,518.8 L377.6,517.9 L377.9,517.1 L378.7,516.4 L379.9,516 L381.2,516 L382.3,516.4 L383.1,517.1 Z" fill="#ff8700" stroke="#ff8700" stroke-width="0.4"/>
<path d="M306.9,516.6 L306.6,517.2 L305.8,517.8 L304.6,518.1 L303.3,518.1 L302.1,517.8 L301.3,517.2 L301,516.6 L301.3,515.9 L302.1,515.3 L303.3,515 L304.6,515 L305.8,515.3 L306.6,515.9 Z" fill="#ff8700" stroke="#ff8700" stroke-width="0.4"/>
<path d="M260,515 L265.9,515.4 L265.5,519.3 L260,519.3 Z" fill="#ff8700" stroke="#ff8700" stroke-width="0.4"/>
</g>
<clipPath id="t11"><rect x="460" y="390" width="200" height="160"/></clipPath>
<g clip-path="url(#t11)">
<rect x="460" y="390" width="200" height="160" fill="#db1400"/>
<path d="M460,390 L477.6,390 L473.7,397.8 L471.7,405.6 L460,406.6 Z" fill="#ff8700" stroke="#ff8700" stroke-width="0.4"/>
<path d="M510.8,390 L528.4,390 L524.5,396.8 L514.7,398.8 Z" fill="#ff8700" stroke="#ff8700" stroke-width="0.4"/>
<path d="M545.9,390 L542,398.8 L530.3,406.6 L521.5,414.4 L516.6,422.2 L518.6,429.1 L526.4,433.9 L538.1,437.9 L542,446.6 L661.2,446.6 L661.2,390 Z" fill="#9e0000" stroke="#9e0000" stroke-width="0.4"/>
<path d="M581.1,390 L579.1,401.7 L569.4,409.5 L566.4,417.3 L568.4,429.1 L570.4,442.7 L661.2,442.7 L661.2,390 Z" fill="#690000" stroke="#690000" stroke-width="0.4"/>
<path d="M623.1,403.7 L635.8,409.5 L661.2,407.6 L661.2,429.1 L622.1,429.1 Z" fill="#9e0000" stroke="#9e0000" stroke-width="0.4"/>
<path d="M585,460.3 L608.4,460.3 L608.4,483.8 L585,483.8 Z" fill="#9e0000" stroke="#9e0000" stroke-width="0.4"/>
<path d="M460,499.4 L471.7,496.4 L479.5,501.3 L481.5,511.1 L471.7,517 L460,518.9 Z" fill="#9e0000" stroke="#9e0000" stroke-width="0.4"/>
<path d="M473.7,483.8 L489.3,487.7 L487.3,495.5 L479.5,493.5 Z" fill="#9e0000" stroke="#9e0000" stroke-width="0.4"/>
<path d="M487.3,507.2 L518.6,495.5 L545.9,487.7 L545.9,493.5 L518.6,501.3 L489.3,515 Z" fill="#9e0000" stroke="#9e0000" stroke-width="0.4"/>
</g>
<clipPath id="t12"><rect x="660" y="390" width="200" height="160"/></clipPath>
<g clip-path="url(#t12)">
<rect x="660" y="390" width="200" height="160" fill="#9e0000"/>
<path d="M708.8,390 L734.2,390 L732.3,401.7 L724.5,407.6 L710.8,405.6 Z" fill="#690000" stroke="#690000" stroke-width="0.4"/>
<path d="M675.6,390 L691.2,390 L691.2,397.8 L679.5,399.8 Z" fill="#690000" stroke="#690000" stroke-width="0.4"/>
<path d="M660,390 L669.8,390 L669.8,413.4 L660,413.4 Z" fill="#690000" stroke="#690000" stroke-width="0.4"/>
<path d="M790.9,405.6 L796.7,395.9 L800.6,390 L861.2,390 L861.2,401.7 L831.9,397.8 L820.2,401.7 L804.5,401.7 Z" fill="#ff8700" stroke="#ff8700" stroke-width="0.4"/>
<path d="M751.8,413.4 L841.6,413.4 L841.6,452.5 L751.8,452.5 Z" fill="#db1400" stroke="#db1400" stroke-width="0.4"/>
<path d="M824.1,429.1 L841.6,424.2 L841.6,441.8 L825,440.4 Z" fill="#ff8700" stroke="#ff8700" stroke-width="0.4"/>
<path d="M738.1,415.4 L796.7,399.8 L796.7,411.5 L738.1,429.1 L728.4,429.1 L728.4,421.2 Z" fill="#db1400" stroke="#db1400" stroke-width="0.4"/>
</g>
<clipPath id="t13"><rect x="860" y="390" width="170" height="160"/></clipPath>
<g clip-path="url(#t13)">
<rect x="860" y="390" width="170" height="160" fill="#ff8700"/>
</g>
<path d="M76.6,132.5 L85.4,136.4 L94.2,135.4 L98.1,142.2 L102,150 L110.8,152 L118.6,151 L126.4,156.9 L132.3,153.9 L138.1,158.8 L141.1,162.7" fill="none" stroke="#20140a" stroke-width="0.7" stroke-opacity="0.85"/>
<path d="M76.6,163.7 L99.1,162.7 L124.5,161.2" fill="none" stroke="#20140a" stroke-width="0.7" stroke-opacity="0.85"/>
<path d="M153.8,129.5 L169.4,128.6 L185,129.5 L196.7,127.6 L208.4,129.5 L231.9,128.6" fill="none" stroke="#20140a" stroke-width="0.7" stroke-opacity="0.85"/>
<path d="M76.6,227.2 L118.6,222.3 L149.8,219.4 L185,216.4 L216.2,212.5" fill="none" stroke="#20140a" stroke-width="0.7" stroke-opacity="0.85"/>
<path d="M289.3,117.8 L290.3,130.5 L306.9,131.5 L307.9,156.9 L306.9,168.6" fill="none" stroke="#20140a" stroke-width="0.7" stroke-opacity="0.85"/>
<path d="M301,176.4 L298.1,195.9 L295.2,203.8 L293.2,219.4 L289.3,237 L276.6,238.9 L278.6,250.6" fill="none" stroke="#20140a" stroke-width="0.7" stroke-opacity="0.85"/>
<path d="M297.1,203.8 L316.6,207.7 L318.6,217.4 L344,223.3 L355.7,225.2 L355.7,233 L371.3,232.1" fill="none" stroke="#20140a" stroke-width="0.7" stroke-opacity="0.85"/>
<path d="M422.1,232.7 L427,238.9 L426,250.6" fill="none" stroke="#20140a" stroke-width="0.7" stroke-opacity="0.85"/>
<path d="M445.5,174.5 L447.5,180.3 L455.3,182.3 L450.4,211.6 L443.6,219.4 L444.6,231.1 L439.7,242.8 L440.7,250.6" fill="none" stroke="#20140a" stroke-width="0.7" stroke-opacity="0.85"/>
<path d="M493.2,128.6 L504.9,129.5 L510.8,156.9 L518.6,160.8 L520.5,174.5 L536.2,180.3 L536.2,188.1 L542,190.1" fill="none" stroke="#20140a" stroke-width="0.7" stroke-opacity="0.85"/>
<path d="M575.2,197.9 L577.2,211.6" fill="none" stroke="#20140a" stroke-width="0.7" stroke-opacity="0.85"/>
<path d="M99.1,298.8 L122.5,306.6 L151.8,313.5 L177.2,316.4 L179.1,304.7 L185,303.1" fill="none" stroke="#20140a" stroke-width="0.7" stroke-opacity="0.85"/>
<path d="M289.3,257.8 L287.3,285.2 L275.6,287.1 L278.6,304.7" fill="none" stroke="#20140a" stroke-width="0.7" stroke-opacity="0.85"/>
<path d="M314.7,250 L316.6,261.7 L312.7,267.6 L324.5,271.5 L338.1,269.5 L355.7,271.5 L357.7,277.3" fill="none" stroke="#20140a" stroke-width="0.7" stroke-opacity="0.85"/>
<path d="M383,270.5 L420.2,268.6 L422.1,275.4 L447.5,273.4 L449.5,267.6 L461.2,266.6" fill="none" stroke="#20140a" stroke-width="0.7" stroke-opacity="0.85"/>
<path d="M299.1,318.4 L314.7,318.4 L306.9,334" fill="none" stroke="#20140a" stroke-width="0.7" stroke-opacity="0.85"/>
<path d="M289.3,359.4 L295.2,386.7 L283.4,390.6" fill="none" stroke="#20140a" stroke-width="0.7" stroke-opacity="0.85"/>
<path d="M396.7,308.6 L400.6,324.2 L394.8,325.2" fill="none" stroke="#20140a" stroke-width="0.7" stroke-opacity="0.85"/>
<path d="M400.6,347.7 L408.4,375 L404.5,390.6" fill="none" stroke="#20140a" stroke-width="0.7" stroke-opacity="0.85"/>
<path d="M404.5,375 L435.8,377" fill="none" stroke="#20140a" stroke-width="0.7" stroke-opacity="0.85"/>
<path d="M460,345.7 L469.8,345.7 L471.7,361.3 L460,362.3" fill="none" stroke="#20140a" stroke-width="0.7" stroke-opacity="0.85"/>
<path d="M549.8,367.2 L596.7,365.2" fill="none" stroke="#20140a" stroke-width="0.7" stroke-opacity="0.85"/>
<path d="M549.8,384.8 L569.4,383.8" fill="none" stroke="#20140a" stroke-width="0.7" stroke-opacity="0.85"/>
<path d="M479.5,378.9 L506.9,384.8 L518.6,390.6" fill="none" stroke="#20140a" stroke-width="0.7" stroke-opacity="0.85"/>
<path d="M665.9,306.6 L706.9,291" fill="none" stroke="#20140a" stroke-width="0.7" stroke-opacity="0.85"/>
<path d="M718.6,328.1 L724.5,308.6" fill="none" stroke="#20140a" stroke-width="0.7" stroke-opacity="0.85"/>
<path d="M76.6,411.5 L138.1,405.6 L177.2,404.6" fill="none" stroke="#20140a" stroke-width="0.7" stroke-opacity="0.85"/>
<path d="M76.6,443.7 L118.6,441.2 L147.9,439.8" fill="none" stroke="#20140a" stroke-width="0.7" stroke-opacity="0.85"/>
<path d="M222.1,409.5 L257.3,408.6" fill="none" stroke="#20140a" stroke-width="0.7" stroke-opacity="0.85"/>
<path d="M345.9,409.5 L347.9,425.2 L369.4,421.2 L396.7,424.2 L439.7,421.2 L436.8,405.6 L408.4,393.9 L404.5,390" fill="none" stroke="#20140a" stroke-width="0.7" stroke-opacity="0.85"/>
<path d="M162.5,117.8 L153.8,127.6 L145.9,137.3 L145.9,149.1 L149.8,156.9 L142,166.6 L132.3,184.2 L128.4,192 L130.3,203.8 L126.4,219.4 L122.5,235 L123.5,250.6" fill="none" stroke="#5a82b8" stroke-width="2.6" stroke-linejoin="round" stroke-linecap="round" stroke-opacity="0.9"/>
<path d="M126.4,250 L118.6,259.8 L106.9,271.5 L95.2,283.2 L89.3,296.9" fill="none" stroke="#5a82b8" stroke-width="2.6" stroke-linejoin="round" stroke-linecap="round" stroke-opacity="0.9"/>
<path d="M410.4,117.8 L404.5,120.7 L400.6,123.7 L394.8,125.6 L390.9,129.5 L387,139.3 L387,149.1 L392.8,156.9 L400.6,162.7 L406.5,170.5 L405.5,180.3 L400.6,188.1 L401.6,195.9 L396.7,199.8 L387,199.8 L385,207.7 L387,215.5 L385,223.3 L381.1,231.1 L379.1,242.8 L377.2,250.6" fill="none" stroke="#2f67ad" stroke-width="2" stroke-linejoin="round" stroke-linecap="round"/>
<path d="M620.2,160.8 L626,168.6 L631.9,180.3 L639.7,186.2 L651.4,184.2 L661.2,182.3" fill="none" stroke="#2f67ad" stroke-width="2" stroke-linejoin="round" stroke-linecap="round"/>
<path d="M691.2,166.6 L694.2,162.7 L699.1,158.8" fill="none" stroke="#2f67ad" stroke-width="2" stroke-linejoin="round" stroke-linecap="round"/>
<path d="M728.4,153 L742,152 L751.8,154.9 L759.6,156.9" fill="none" stroke="#2f67ad" stroke-width="2" stroke-linejoin="round" stroke-linecap="round"/>
<path d="M738.1,185.2 L745.9,186.2 L753.8,182.3 L761.6,183.2" fill="none" stroke="#2f67ad" stroke-width="2" stroke-linejoin="round" stroke-linecap="round"/>
<path d="M722.5,188.1 L740.1,187.1 L738.1,185.2" fill="none" stroke="#2f67ad" stroke-width="2" stroke-linejoin="round" stroke-linecap="round"/>
<path d="M761.6,186.2 L769.4,189.1" fill="none" stroke="#2f67ad" stroke-width="2" stroke-linejoin="round" stroke-linecap="round"/>
<path d="M681.5,205.7 L689.3,203.8 L697.1,201.8" fill="none" stroke="#2f67ad" stroke-width="2" stroke-linejoin="round" stroke-linecap="round"/>
<path d="M685.4,207.7 L679.5,213.5" fill="none" stroke="#2f67ad" stroke-width="2" stroke-linejoin="round" stroke-linecap="round"/>
<path d="M706.9,231.1 L707.9,237 L710.8,238.9" fill="none" stroke="#2f67ad" stroke-width="2" stroke-linejoin="round" stroke-linecap="round"/>
<path d="M692.2,168.6 L689.3,176.4 L687.3,180.3" fill="none" stroke="#2f67ad" stroke-width="2" stroke-linejoin="round" stroke-linecap="round"/>
<path d="M89.3,296.9 L87.3,312.5 L85.4,328.1 L88.3,343.8 L89.3,359.4 L90.3,375 L89.3,390.6" fill="none" stroke="#2f67ad" stroke-width="2" stroke-linejoin="round" stroke-linecap="round"/>
<path d="M212.3,257.8 L214.3,273.4 L218.2,289.1 L214.3,304.7 L212.3,318.4 L214.3,332 L208.4,347.7 L196.7,359.4 L187,369.1 L185,378.9 L192.8,386.7" fill="none" stroke="#2f67ad" stroke-width="2" stroke-linejoin="round" stroke-linecap="round"/>
<path d="M377.2,250 L375.2,257.8 L377.2,269.5 L375.2,277.3 L379.1,293 L377.2,308.6 L375.2,324.2 L371.3,339.8 L368.4,355.5 L369.4,367.2 L373.3,375 L372.3,390.6" fill="none" stroke="#2f67ad" stroke-width="2" stroke-linejoin="round" stroke-linecap="round"/>
<path d="M455.3,328.1 L453.4,343.8 L461.2,353.5" fill="none" stroke="#2f67ad" stroke-width="2" stroke-linejoin="round" stroke-linecap="round"/>
<path d="M584,253.9 L582.1,269.5 L585,289.1 L583,304.7 L585,312.5 L600.6,313.5 L616.2,324.2 L622.1,332 L626,341.8" fill="none" stroke="#2f67ad" stroke-width="2" stroke-linejoin="round" stroke-linecap="round"/>
<path d="M649.5,261.7 L655.3,259.8 L661.2,265.6" fill="none" stroke="#2f67ad" stroke-width="2" stroke-linejoin="round" stroke-linecap="round"/>
<path d="M622.1,286.1 L635.8,286.1 L647.5,281.2 L649.5,273.4 L643.6,271.5" fill="none" stroke="#2f67ad" stroke-width="2" stroke-linejoin="round" stroke-linecap="round"/>
<path d="M616.2,326.2 L635.8,328.1 L639.7,339.8 L635.8,347.7" fill="none" stroke="#2f67ad" stroke-width="2" stroke-linejoin="round" stroke-linecap="round"/>
<path d="M606.5,356.4 L616.2,358.4 L635.8,359.4" fill="none" stroke="#2f67ad" stroke-width="2" stroke-linejoin="round" stroke-linecap="round"/>
<path d="M460,355.5 L465.9,359.4 L463.9,367.2 L471.7,375 L483.4,380.9 L489.3,390.6" fill="none" stroke="#2f67ad" stroke-width="2" stroke-linejoin="round" stroke-linecap="round"/>
<path d="M660,263.7 L671.7,262.7 L685.4,261.7 L697.1,259.8 L706.9,257.8" fill="none" stroke="#2f67ad" stroke-width="2" stroke-linejoin="round" stroke-linecap="round"/>
<path d="M683.4,275.4 L691.2,269.5 L699.1,261.7" fill="none" stroke="#2f67ad" stroke-width="2" stroke-linejoin="round" stroke-linecap="round"/>
<path d="M771.3,301.8 L777.2,294.9 L788.9,290" fill="none" stroke="#2f67ad" stroke-width="2" stroke-linejoin="round" stroke-linecap="round"/>
<path d="M773.3,281.2 L779.1,282.2" fill="none" stroke="#2f67ad" stroke-width="2" stroke-linejoin="round" stroke-linecap="round"/>
<path d="M783,305.7 L787,302.7 L794.8,302.3" fill="none" stroke="#2f67ad" stroke-width="2" stroke-linejoin="round" stroke-linecap="round"/>
<path d="M730.3,312.5 L738.1,314.5 L738.1,320.3 L732.3,324.2 L722.5,325.2 L718.6,332 L712.7,335.9" fill="none" stroke="#2f67ad" stroke-width="2" stroke-linejoin="round" stroke-linecap="round"/>
<path d="M663.9,345.7 L675.6,347.7" fill="none" stroke="#2f67ad" stroke-width="2" stroke-linejoin="round" stroke-linecap="round"/>
<path d="M695.2,339.8 L693.2,351.6 L697.1,359.4" fill="none" stroke="#2f67ad" stroke-width="2" stroke-linejoin="round" stroke-linecap="round"/>
<path d="M679.5,355.5 L677.6,363.3" fill="none" stroke="#2f67ad" stroke-width="2" stroke-linejoin="round" stroke-linecap="round"/>
<path d="M747.9,359.4 L749.8,369.1" fill="none" stroke="#2f67ad" stroke-width="2" stroke-linejoin="round" stroke-linecap="round"/>
<path d="M738.1,367.2 L740.1,378.9 L738.1,384.8" fill="none" stroke="#2f67ad" stroke-width="2" stroke-linejoin="round" stroke-linecap="round"/>
<path d="M773.3,365.2 L777.2,359.4 L792.8,357.4 L796.7,351.6" fill="none" stroke="#2f67ad" stroke-width="2" stroke-linejoin="round" stroke-linecap="round"/>
<path d="M781.1,361.3 L775.2,365.2" fill="none" stroke="#2f67ad" stroke-width="2" stroke-linejoin="round" stroke-linecap="round"/>
<path d="M829.9,380.9 L835.8,386.7" fill="none" stroke="#2f67ad" stroke-width="2" stroke-linejoin="round" stroke-linecap="round"/>
<path d="M917.8,325.7 L923.6,321.2" fill="none" stroke="#2f67ad" stroke-width="2" stroke-linejoin="round" stroke-linecap="round"/>
<path d="M891.4,382.3 L899.2,374.5" fill="none" stroke="#2f67ad" stroke-width="2" stroke-linejoin="round" stroke-linecap="round"/>
<path d="M829.9,381.3 L836.7,388.2 L833.8,392.1" fill="none" stroke="#2f67ad" stroke-width="2" stroke-linejoin="round" stroke-linecap="round"/>
<path d="M87.3,390 L83.4,401.7 L77.6,411.5" fill="none" stroke="#2f67ad" stroke-width="2" stroke-linejoin="round" stroke-linecap="round"/>
<path d="M79.5,423.2 L87.3,434.9 L83.4,448.6 L81.5,458.4" fill="none" stroke="#2f67ad" stroke-width="2" stroke-linejoin="round" stroke-linecap="round"/>
<path d="M89.3,472 L97.1,481.8 L99.1,495.5 L95.2,511.1 L91.2,530.6" fill="none" stroke="#2f67ad" stroke-width="2" stroke-linejoin="round" stroke-linecap="round"/>
<path d="M194.8,446.6 L199.6,458.4 L200.6,472 L204.5,487.7" fill="none" stroke="#2f67ad" stroke-width="2" stroke-linejoin="round" stroke-linecap="round"/>
<path d="M223.1,461.3 L218.2,472 L214.3,475.9 L212.3,487.7" fill="none" stroke="#2f67ad" stroke-width="2" stroke-linejoin="round" stroke-linecap="round"/>
<path d="M145.9,478.9 L151.8,470.1 L157.7,472 L161.6,477.9" fill="none" stroke="#2f67ad" stroke-width="2" stroke-linejoin="round" stroke-linecap="round"/>
<path d="M241.6,440.8 L239.7,452.5 L247.5,458.4 L251.4,468.1" fill="none" stroke="#2f67ad" stroke-width="2" stroke-linejoin="round" stroke-linecap="round"/>
<path d="M154.7,489.6 L154.7,503.3" fill="none" stroke="#2f67ad" stroke-width="2" stroke-linejoin="round" stroke-linecap="round"/>
<path d="M173.3,483.8 L171.3,495.5" fill="none" stroke="#2f67ad" stroke-width="2" stroke-linejoin="round" stroke-linecap="round"/>
<path d="M196.7,393.9 L204.5,401.7 L212.3,411.5 L231.9,419.3 L239.7,425.2 L261.2,438.8" fill="none" stroke="#2f67ad" stroke-width="2" stroke-linejoin="round" stroke-linecap="round"/>
<path d="M239.7,474 L231.9,481.8" fill="none" stroke="#2f67ad" stroke-width="2" stroke-linejoin="round" stroke-linecap="round"/>
<path d="M316.6,390 L320.5,401.7 L328.4,415.4 L324.5,425.2 L316.6,434.9 L312.7,446.6" fill="none" stroke="#2f67ad" stroke-width="2" stroke-linejoin="round" stroke-linecap="round"/>
<path d="M312.7,413.4 L314.7,425.2 L318.6,431" fill="none" stroke="#2f67ad" stroke-width="2" stroke-linejoin="round" stroke-linecap="round"/>
<path d="M336.2,431 L332.3,440.8 L324.5,448.6 L318.6,450.5" fill="none" stroke="#2f67ad" stroke-width="2" stroke-linejoin="round" stroke-linecap="round"/>
<path d="M369.4,421.2 L367.4,429.1 L375.2,436.9 L377.2,446.6" fill="none" stroke="#2f67ad" stroke-width="2" stroke-linejoin="round" stroke-linecap="round"/>
<path d="M357.7,431 L353.8,438.8 L359.6,448.6" fill="none" stroke="#2f67ad" stroke-width="2" stroke-linejoin="round" stroke-linecap="round"/>
<path d="M361.6,434.9 L363.5,448.6" fill="none" stroke="#2f67ad" stroke-width="2" stroke-linejoin="round" stroke-linecap="round"/>
<path d="M369.4,390 L373.3,399.8 L387,398.8" fill="none" stroke="#2f67ad" stroke-width="2" stroke-linejoin="round" stroke-linecap="round"/>
<path d="M392.8,413.4 L404.5,421.2 L412.3,427.1" fill="none" stroke="#2f67ad" stroke-width="2" stroke-linejoin="round" stroke-linecap="round"/>
<path d="M424.1,433 L431.9,444.7 L435.8,454.5" fill="none" stroke="#2f67ad" stroke-width="2" stroke-linejoin="round" stroke-linecap="round"/>
<path d="M392.8,436.9 L394.8,446.6 L404.5,454.5" fill="none" stroke="#2f67ad" stroke-width="2" stroke-linejoin="round" stroke-linecap="round"/>
<path d="M271.7,446.6 L279.5,450.5 L271.7,456.4 L267.8,464.2" fill="none" stroke="#2f67ad" stroke-width="2" stroke-linejoin="round" stroke-linecap="round"/>
<path d="M342,526.7 L349.8,524.8 L369.4,523.8" fill="none" stroke="#2f67ad" stroke-width="2" stroke-linejoin="round" stroke-linecap="round"/>
<path d="M493.2,393.9 L489.3,407.6 L483.4,421.2 L485.4,436.9" fill="none" stroke="#2f67ad" stroke-width="2" stroke-linejoin="round" stroke-linecap="round"/>
<path d="M495.2,390 L496.1,399.8" fill="none" stroke="#2f67ad" stroke-width="2" stroke-linejoin="round" stroke-linecap="round"/>
<path d="M545.9,427.1 L551.8,432 L563.5,430 L566.4,424.2 L577.2,421.2 L596.7,423.2 L608.4,415.4 L610.4,405.6 L614.3,404.6" fill="none" stroke="#2f67ad" stroke-width="2" stroke-linejoin="round" stroke-linecap="round"/>
<path d="M626,405.6 L625,419.3" fill="none" stroke="#2f67ad" stroke-width="2" stroke-linejoin="round" stroke-linecap="round"/>
<path d="M512.7,436.9 L513.7,442.7" fill="none" stroke="#2f67ad" stroke-width="2" stroke-linejoin="round" stroke-linecap="round"/>
<path d="M532.3,436.9 L531.3,444.7" fill="none" stroke="#2f67ad" stroke-width="2" stroke-linejoin="round" stroke-linecap="round"/>
<path d="M540.1,432 L539.1,444.7" fill="none" stroke="#2f67ad" stroke-width="2" stroke-linejoin="round" stroke-linecap="round"/>
<path d="M704.9,397.8 L706.9,407.6 L699.1,409.5" fill="none" stroke="#2f67ad" stroke-width="2" stroke-linejoin="round" stroke-linecap="round"/>
<path d="M714.7,397.8 L720.5,399.8" fill="none" stroke="#2f67ad" stroke-width="2" stroke-linejoin="round" stroke-linecap="round"/>
<path d="M117.6,117.8 L118.6,127.6 L122.5,137.3 L125.4,147.1 L127.4,156.9 L125.4,166.6 L120.5,174.5 L118.6,188.1 L122.5,197.9 L120.5,211.6 L117.6,221.3 L116.6,227.2" fill="none" stroke="#262626" stroke-width="3" stroke-linejoin="round" stroke-opacity="0.5"/>
<path d="M112.7,237 L106.9,250.6" fill="none" stroke="#262626" stroke-width="3" stroke-linejoin="round" stroke-opacity="0.5"/>
<path d="M76.6,161.2 L85.4,162.7 L95.2,167.6 L104.9,174.5 L118.6,179.3 L132.3,183.2 L138.1,188.1 L143,195" fill="none" stroke="#262626" stroke-width="3" stroke-linejoin="round" stroke-opacity="0.5"/>
<path d="M89.3,155.9 L93.2,159.8 L91.2,163.7" fill="none" stroke="#262626" stroke-width="3" stroke-linejoin="round" stroke-opacity="0.5"/>
<path d="M141.1,176.4 L136.2,182.3 L132.3,187.1 L126.4,190.1" fill="none" stroke="#262626" stroke-width="3" stroke-linejoin="round" stroke-opacity="0.5"/>
<path d="M143,207.7 L144,215.5 L147.9,219.4 L169.4,225.2 L177.2,233 L188.9,238.9 L196.7,242.8 L204.5,246.7 L208.4,250.6" fill="none" stroke="#262626" stroke-width="3" stroke-linejoin="round" stroke-opacity="0.5"/>
<path d="M124.5,213.5 L138.1,217.4 L147.9,219.4" fill="none" stroke="#262626" stroke-width="3" stroke-linejoin="round" stroke-opacity="0.5"/>
<path d="M404.5,117.8 L400.6,123.7 L392.8,126.6 L390.9,131.5 L381.1,147.1 L385,153 L383,168.6 L385,184.2 L377.2,192 L372.3,201.8 L372.3,215.5 L371.3,231.1 L368.4,246.7 L369.4,250.6" fill="none" stroke="#262626" stroke-width="3" stroke-linejoin="round" stroke-opacity="0.5"/>
<path d="M382.1,198.9 L388.9,196.9 L400.6,199.8 L408.4,195.9 L416.2,194 L426,195.9 L435.8,201.8 L447.5,202.8 L461.2,201.8" fill="none" stroke="#262626" stroke-width="3" stroke-linejoin="round" stroke-opacity="0.5"/>
<path d="M547.5,237 L549.1,250.6" fill="none" stroke="#262626" stroke-width="3" stroke-linejoin="round" stroke-opacity="0.5"/>
<path d="M575.6,247.9 L585,244.8 L594.4,243" fill="none" stroke="#262626" stroke-width="3" stroke-linejoin="round" stroke-opacity="0.5"/>
<path d="M460,201.8 L485.4,201.8 L514.7,203.8 L542,206.7 L577.2,211.6 L596.7,211.6 L608.4,209.6 L616.2,205.7 L626,201.8 L639.7,195.9 L651.4,192 L661.2,190.1" fill="none" stroke="#262626" stroke-width="3" stroke-linejoin="round" stroke-opacity="0.5"/>
<path d="M565.5,213.5 L561.6,223.3 L555.7,227.2" fill="none" stroke="#262626" stroke-width="3" stroke-linejoin="round" stroke-opacity="0.5"/>
<path d="M608.4,209.6 L600.6,219.4 L592.8,227.2 L588.9,235 L592.8,242.8 L594.8,250.6" fill="none" stroke="#262626" stroke-width="3" stroke-linejoin="round" stroke-opacity="0.5"/>
<path d="M604.5,209.6 L616.2,213.5 L624.1,219.4" fill="none" stroke="#262626" stroke-width="3" stroke-linejoin="round" stroke-opacity="0.5"/>
<path d="M629.9,117.8 L635.8,129.5 L643.6,139.3 L651.4,147.1 L661.2,151" fill="none" stroke="#262626" stroke-width="3" stroke-linejoin="round" stroke-opacity="0.5"/>
<path d="M616.2,156.9 L614.3,168.6" fill="none" stroke="#262626" stroke-width="3" stroke-linejoin="round" stroke-opacity="0.5"/>
<path d="M751.8,118.8 L747.9,129.5 L744,139.3 L738.1,149.1 L734.2,158.8 L728.4,168.6 L726.4,174.5" fill="none" stroke="#262626" stroke-width="3" stroke-linejoin="round" stroke-opacity="0.5"/>
<path d="M725.4,188.1 L727.4,197.9 L724.5,207.7 L722.5,211.6" fill="none" stroke="#262626" stroke-width="3" stroke-linejoin="round" stroke-opacity="0.5"/>
<path d="M679.5,186.2 L685.4,197.9 L691.2,211.6 L695.2,221.3 L697.1,231.1 L699.1,242.8" fill="none" stroke="#262626" stroke-width="3" stroke-linejoin="round" stroke-opacity="0.5"/>
<path d="M660,188.1 L671.7,186.2 L679.5,185.2" fill="none" stroke="#262626" stroke-width="3" stroke-linejoin="round" stroke-opacity="0.5"/>
<path d="M660,227.2 L671.7,221.3 L685.4,215.5 L699.1,211.6 L710.8,209.6 L722.5,211.6" fill="none" stroke="#262626" stroke-width="3" stroke-linejoin="round" stroke-opacity="0.5"/>
<path d="M660,231.1 L675.6,235 L689.3,237" fill="none" stroke="#262626" stroke-width="3" stroke-linejoin="round" stroke-opacity="0.5"/>
<path d="M714.7,151 L726.4,150 L738.1,149.1" fill="none" stroke="#262626" stroke-width="3" stroke-linejoin="round" stroke-opacity="0.5"/>
<path d="M667.8,164.7 L675.6,168.6 L679.5,176.4" fill="none" stroke="#262626" stroke-width="3" stroke-linejoin="round" stroke-opacity="0.5"/>
<path d="M104.9,250 L99.1,261.7 L93.2,273.4 L85.4,289.1 L79.5,302.7 L76.6,310.5" fill="none" stroke="#262626" stroke-width="3" stroke-linejoin="round" stroke-opacity="0.5"/>
<path d="M260,259.8 L279.5,266.6 L299.1,275.4 L318.6,281.2 L336.2,283.2" fill="none" stroke="#262626" stroke-width="3" stroke-linejoin="round" stroke-opacity="0.5"/>
<path d="M354.7,286.1 L365.5,285.2" fill="none" stroke="#262626" stroke-width="3" stroke-linejoin="round" stroke-opacity="0.5"/>
<path d="M383,281.2 L396.7,280.3 L416.2,282.2 L435.8,278.3 L461.2,279.3" fill="none" stroke="#262626" stroke-width="3" stroke-linejoin="round" stroke-opacity="0.5"/>
<path d="M371.3,250 L369.4,269.5 L369.4,279.3" fill="none" stroke="#262626" stroke-width="3" stroke-linejoin="round" stroke-opacity="0.5"/>
<path d="M379.1,289.1 L385,287.1 L387,281.2" fill="none" stroke="#262626" stroke-width="3" stroke-linejoin="round" stroke-opacity="0.5"/>
<path d="M363.5,335.9 L363.5,351.6 L366.4,359.4" fill="none" stroke="#262626" stroke-width="3" stroke-linejoin="round" stroke-opacity="0.5"/>
<path d="M366.4,359.4 L385,351.6 L404.5,345.7 L431.9,337.9 L447.5,328.1 L461.2,322.3" fill="none" stroke="#262626" stroke-width="3" stroke-linejoin="round" stroke-opacity="0.5"/>
<path d="M366.4,361.3 L385,359.4 L408.4,355.5" fill="none" stroke="#262626" stroke-width="3" stroke-linejoin="round" stroke-opacity="0.5"/>
<path d="M366.4,361.3 L361.6,369.1 L353.8,371.1 L338.1,377 L326.4,377.9" fill="none" stroke="#262626" stroke-width="3" stroke-linejoin="round" stroke-opacity="0.5"/>
<path d="M306.9,384.8 L312.7,390.6" fill="none" stroke="#262626" stroke-width="3" stroke-linejoin="round" stroke-opacity="0.5"/>
<path d="M277.6,330.1 L273.7,335.9 L267.8,351.6 L267.8,367.2 L273.7,382.8 L279.5,390.6" fill="none" stroke="#262626" stroke-width="3" stroke-linejoin="round" stroke-opacity="0.5"/>
<path d="M365.5,365.2 L367.4,375 L361.6,382.8 L357.7,390.6" fill="none" stroke="#262626" stroke-width="3" stroke-linejoin="round" stroke-opacity="0.5"/>
<path d="M369.4,367.2 L385,377 L400.6,380.9 L408.4,386.7 L412.3,390.6" fill="none" stroke="#262626" stroke-width="3" stroke-linejoin="round" stroke-opacity="0.5"/>
<path d="M549.1,250 L547.5,258.8 L542.8,269.7" fill="none" stroke="#262626" stroke-width="3" stroke-linejoin="round" stroke-opacity="0.5"/>
<path d="M536.2,275.4 L535.2,293 L535.2,308.6" fill="none" stroke="#262626" stroke-width="3" stroke-linejoin="round" stroke-opacity="0.5"/>
<path d="M528.4,324.2 L526.4,335.9 L532.3,347.7 L534.2,359.4" fill="none" stroke="#262626" stroke-width="3" stroke-linejoin="round" stroke-opacity="0.5"/>
<path d="M528.4,367.2 L522.5,378.9 L516.6,390.6" fill="none" stroke="#262626" stroke-width="3" stroke-linejoin="round" stroke-opacity="0.5"/>
<path d="M460,324.2 L465.9,314.5 L477.6,298.8 L489.3,287.1 L508.8,283.2 L528.4,277.3 L542,273.4 L569.4,268.6 L592.8,263.7 L612.3,257.8 L628,253.9 L647.5,250" fill="none" stroke="#262626" stroke-width="3" stroke-linejoin="round" stroke-opacity="0.5"/>
<path d="M545.9,269.5 L549.8,259.8 L561.6,255.9" fill="none" stroke="#262626" stroke-width="3" stroke-linejoin="round" stroke-opacity="0.5"/>
<path d="M561.6,282.2 L569.4,291 L573.3,296.9" fill="none" stroke="#262626" stroke-width="3" stroke-linejoin="round" stroke-opacity="0.5"/>
<path d="M585,304.7 L592.8,308.6" fill="none" stroke="#262626" stroke-width="3" stroke-linejoin="round" stroke-opacity="0.5"/>
<path d="M596.7,259.8 L604.5,273.4 L616.2,285.2 L626,294.9 L643.6,302.7 L661.2,306.6" fill="none" stroke="#262626" stroke-width="3" stroke-linejoin="round" stroke-opacity="0.5"/>
<path d="M610.4,337.9 L612.3,347.7 L616.2,355.5 L622.1,367.2 L616.2,378.9" fill="none" stroke="#262626" stroke-width="3" stroke-linejoin="round" stroke-opacity="0.5"/>
<path d="M616.2,324.2 L635.8,323.2 L661.2,320.3" fill="none" stroke="#262626" stroke-width="3" stroke-linejoin="round" stroke-opacity="0.5"/>
<path d="M633.8,347.7 L647.5,351.6 L661.2,355.5" fill="none" stroke="#262626" stroke-width="3" stroke-linejoin="round" stroke-opacity="0.5"/>
<path d="M592.8,380.9 L604.5,377.9" fill="none" stroke="#262626" stroke-width="3" stroke-linejoin="round" stroke-opacity="0.5"/>
<path d="M460,286.1 L475.6,286.1 L489.3,287.1" fill="none" stroke="#262626" stroke-width="3" stroke-linejoin="round" stroke-opacity="0.5"/>
<path d="M677.6,289.1 L671.7,298.8 L665.9,306.6" fill="none" stroke="#262626" stroke-width="3" stroke-linejoin="round" stroke-opacity="0.5"/>
<path d="M660,306.6 L679.5,314.5 L699.1,324.2 L718.6,328.1 L738.1,335.9 L757.7,345.7 L773.3,355.5 L777.2,359.4 L769.4,367.2 L765.5,371.1" fill="none" stroke="#262626" stroke-width="3" stroke-linejoin="round" stroke-opacity="0.5"/>
<path d="M706.9,257.8 L718.6,269.5 L734.2,275.4 L749.8,283.2 L769.4,291 L777.2,298.8 L779.1,308.6" fill="none" stroke="#262626" stroke-width="3" stroke-linejoin="round" stroke-opacity="0.5"/>
<path d="M787,322.3 L800.6,330.1 L812.3,343.8 L818.2,355.5 L822.1,361.3 L835.8,365.2 L861.2,372.1" fill="none" stroke="#262626" stroke-width="3" stroke-linejoin="round" stroke-opacity="0.5"/>
<path d="M704.9,279.3 L706.9,298.8 L712.7,314.5 L708.8,332" fill="none" stroke="#262626" stroke-width="3" stroke-linejoin="round" stroke-opacity="0.5"/>
<path d="M704.9,347.7 L699.1,359.4 L691.2,363.3" fill="none" stroke="#262626" stroke-width="3" stroke-linejoin="round" stroke-opacity="0.5"/>
<path d="M714.7,341.8 L726.4,345.7" fill="none" stroke="#262626" stroke-width="3" stroke-linejoin="round" stroke-opacity="0.5"/>
<path d="M728.4,356.4 L730.3,375 L732.3,380.9 L751.8,378.9" fill="none" stroke="#262626" stroke-width="3" stroke-linejoin="round" stroke-opacity="0.5"/>
<path d="M767.4,377 L773.3,367.2" fill="none" stroke="#262626" stroke-width="3" stroke-linejoin="round" stroke-opacity="0.5"/>
<path d="M679.5,375 L699.1,377 L718.6,380.9" fill="none" stroke="#262626" stroke-width="3" stroke-linejoin="round" stroke-opacity="0.5"/>
<path d="M669.8,361.3 L679.5,365.2" fill="none" stroke="#262626" stroke-width="3" stroke-linejoin="round" stroke-opacity="0.5"/>
<path d="M861.1,373.1 L882.6,373.5 L906,371.6 L921.7,367.7 L931.4,361.8 L936.3,357.9" fill="none" stroke="#262626" stroke-width="3" stroke-linejoin="round" stroke-opacity="0.5"/>
<path d="M76.6,405.6 L99.1,403.7 L124.5,403.3 L140.1,404.6 L147.9,413.4" fill="none" stroke="#262626" stroke-width="3" stroke-linejoin="round" stroke-opacity="0.5"/>
<path d="M161.6,427.1 L165.5,431" fill="none" stroke="#262626" stroke-width="3" stroke-linejoin="round" stroke-opacity="0.5"/>
<path d="M149.8,442.7 L144,456.4 L145.9,472 L138.1,487.7 L136.2,499.4 L134.2,505.2" fill="none" stroke="#262626" stroke-width="3" stroke-linejoin="round" stroke-opacity="0.5"/>
<path d="M165.5,433 L187,430 L200.6,426.1 L216.2,429.1 L235.8,425.2 L247.5,417.3 L261.2,411.5" fill="none" stroke="#262626" stroke-width="3" stroke-linejoin="round" stroke-opacity="0.5"/>
<path d="M261.2,472 L247.5,475.9 L231.9,481.8 L216.2,485.7 L196.7,491.6 L181.1,497.4 L157.7,505.2 L138.1,513 L128.4,520.9 L120.5,530.6" fill="none" stroke="#262626" stroke-width="3" stroke-linejoin="round" stroke-opacity="0.5"/>
<path d="M76.6,487.7 L91.2,489.6 L99.1,495.5 L108.8,496.4" fill="none" stroke="#262626" stroke-width="3" stroke-linejoin="round" stroke-opacity="0.5"/>
<path d="M127.4,500.4 L136.2,503.3" fill="none" stroke="#262626" stroke-width="3" stroke-linejoin="round" stroke-opacity="0.5"/>
<path d="M110.8,505.2 L106.9,517 L103,530.6" fill="none" stroke="#262626" stroke-width="3" stroke-linejoin="round" stroke-opacity="0.5"/>
<path d="M261.2,458.4 L251.4,466.2 L247.5,474" fill="none" stroke="#262626" stroke-width="3" stroke-linejoin="round" stroke-opacity="0.5"/>
<path d="M260,409.5 L269.8,401.7 L285.4,402.7 L299.1,403.7 L318.6,399.8 L332.3,400.7" fill="none" stroke="#262626" stroke-width="3" stroke-linejoin="round" stroke-opacity="0.5"/>
<path d="M279.5,405.6 L277.6,417.3 L273.7,429.1 L271.7,440.8 L265.9,452.5 L260,458.4" fill="none" stroke="#262626" stroke-width="3" stroke-linejoin="round" stroke-opacity="0.5"/>
<path d="M347.9,401.7 L353.8,393.9 L355.7,390" fill="none" stroke="#262626" stroke-width="3" stroke-linejoin="round" stroke-opacity="0.5"/>
<path d="M340.1,409.5 L336.2,423.2 L326.4,431 L316.6,442.7 L310.8,450.5" fill="none" stroke="#262626" stroke-width="3" stroke-linejoin="round" stroke-opacity="0.5"/>
<path d="M260,466.2 L271.7,462.3 L291.2,456.4 L310.8,451.5 L338.1,451.5 L361.6,450.9 L385,452.5 L408.4,448.6 L428,445.7 L447.5,446.6 L461.2,443.7" fill="none" stroke="#262626" stroke-width="3" stroke-linejoin="round" stroke-opacity="0.5"/>
<path d="M361.6,390 L369.4,401.7 L377.2,407.6" fill="none" stroke="#262626" stroke-width="3" stroke-linejoin="round" stroke-opacity="0.5"/>
<path d="M388.9,417.3 L396.7,423.2 L404.5,427.1" fill="none" stroke="#262626" stroke-width="3" stroke-linejoin="round" stroke-opacity="0.5"/>
<path d="M420.2,438.8 L426,446.6" fill="none" stroke="#262626" stroke-width="3" stroke-linejoin="round" stroke-opacity="0.5"/>
<path d="M429.9,390 L435.8,397.8 L461.2,395.9" fill="none" stroke="#262626" stroke-width="3" stroke-linejoin="round" stroke-opacity="0.5"/>
<path d="M326.4,538.4 L338.1,530.6 L349.8,526.7 L385,524.8 L408.4,517" fill="none" stroke="#262626" stroke-width="3" stroke-linejoin="round" stroke-opacity="0.5"/>
<path d="M460,397.8 L471.7,398.8 L479.5,399.8" fill="none" stroke="#262626" stroke-width="3" stroke-linejoin="round" stroke-opacity="0.5"/>
<path d="M479.5,407.6 L478.6,419.3 L473.7,429.1 L471.7,433.9" fill="none" stroke="#262626" stroke-width="3" stroke-linejoin="round" stroke-opacity="0.5"/>
<path d="M460,434.9 L479.5,436.9 L499.1,437.5 L518.6,435.9 L534.2,431 L549.8,421.2 L569.4,411.5 L577.2,397.8 L579.1,390" fill="none" stroke="#262626" stroke-width="3" stroke-linejoin="round" stroke-opacity="0.5"/>
<path d="M622.1,403.7 L631.9,404.6 L647.5,408.6 L661.2,406.6" fill="none" stroke="#262626" stroke-width="3" stroke-linejoin="round" stroke-opacity="0.5"/>
<path d="M512.7,390 L499.1,393.9 L489.3,394.9" fill="none" stroke="#262626" stroke-width="3" stroke-linejoin="round" stroke-opacity="0.5"/>
<path d="M117.6,117.8 L118.6,127.6 L122.5,137.3 L125.4,147.1 L127.4,156.9 L125.4,166.6 L120.5,174.5 L118.6,188.1 L122.5,197.9 L120.5,211.6 L117.6,221.3 L116.6,227.2" fill="none" stroke="#fafafa" stroke-width="1.7" stroke-linejoin="round" stroke-opacity="0.6"/>
<path d="M112.7,237 L106.9,250.6" fill="none" stroke="#fafafa" stroke-width="1.7" stroke-linejoin="round" stroke-opacity="0.6"/>
<path d="M76.6,161.2 L85.4,162.7 L95.2,167.6 L104.9,174.5 L118.6,179.3 L132.3,183.2 L138.1,188.1 L143,195" fill="none" stroke="#fafafa" stroke-width="1.7" stroke-linejoin="round" stroke-opacity="0.6"/>
<path d="M89.3,155.9 L93.2,159.8 L91.2,163.7" fill="none" stroke="#fafafa" stroke-width="1.7" stroke-linejoin="round" stroke-opacity="0.6"/>
<path d="M141.1,176.4 L136.2,182.3 L132.3,187.1 L126.4,190.1" fill="none" stroke="#fafafa" stroke-width="1.7" stroke-linejoin="round" stroke-opacity="0.6"/>
<path d="M143,207.7 L144,215.5 L147.9,219.4 L169.4,225.2 L177.2,233 L188.9,238.9 L196.7,242.8 L204.5,246.7 L208.4,250.6" fill="none" stroke="#fafafa" stroke-width="1.7" stroke-linejoin="round" stroke-opacity="0.6"/>
<path d="M124.5,213.5 L138.1,217.4 L147.9,219.4" fill="none" stroke="#fafafa" stroke-width="1.7" stroke-linejoin="round" stroke-opacity="0.6"/>
<path d="M404.5,117.8 L400.6,123.7 L392.8,126.6 L390.9,131.5 L381.1,147.1 L385,153 L383,168.6 L385,184.2 L377.2,192 L372.3,201.8 L372.3,215.5 L371.3,231.1 L368.4,246.7 L369.4,250.6" fill="none" stroke="#fafafa" stroke-width="1.7" stroke-linejoin="round" stroke-opacity="0.6"/>
<path d="M382.1,198.9 L388.9,196.9 L400.6,199.8 L408.4,195.9 L416.2,194 L426,195.9 L435.8,201.8 L447.5,202.8 L461.2,201.8" fill="none" stroke="#fafafa" stroke-width="1.7" stroke-linejoin="round" stroke-opacity="0.6"/>
<path d="M547.5,237 L549.1,250.6" fill="none" stroke="#fafafa" stroke-width="1.7" stroke-linejoin="round" stroke-opacity="0.6"/>
<path d="M575.6,247.9 L585,244.8 L594.4,243" fill="none" stroke="#fafafa" stroke-width="1.7" stroke-linejoin="round" stroke-opacity="0.6"/>
<path d="M460,201.8 L485.4,201.8 L514.7,203.8 L542,206.7 L577.2,211.6 L596.7,211.6 L608.4,209.6 L616.2,205.7 L626,201.8 L639.7,195.9 L651.4,192 L661.2,190.1" fill="none" stroke="#fafafa" stroke-width="1.7" stroke-linejoin="round" stroke-opacity="0.6"/>
<path d="M565.5,213.5 L561.6,223.3 L555.7,227.2" fill="none" stroke="#fafafa" stroke-width="1.7" stroke-linejoin="round" stroke-opacity="0.6"/>
<path d="M608.4,209.6 L600.6,219.4 L592.8,227.2 L588.9,235 L592.8,242.8 L594.8,250.6" fill="none" stroke="#fafafa" stroke-width="1.7" stroke-linejoin="round" stroke-opacity="0.6"/>
<path d="M604.5,209.6 L616.2,213.5 L624.1,219.4" fill="none" stroke="#fafafa" stroke-width="1.7" stroke-linejoin="round" stroke-opacity="0.6"/>
<path d="M629.9,117.8 L635.8,129.5 L643.6,139.3 L651.4,147.1 L661.2,151" fill="none" stroke="#fafafa" stroke-width="1.7" stroke-linejoin="round" stroke-opacity="0.6"/>
<path d="M616.2,156.9 L614.3,168.6" fill="none" stroke="#fafafa" stroke-width="1.7" stroke-linejoin="round" stroke-opacity="0.6"/>
<path d="M751.8,118.8 L747.9,129.5 L744,139.3 L738.1,149.1 L734.2,158.8 L728.4,168.6 L726.4,174.5" fill="none" stroke="#fafafa" stroke-width="1.7" stroke-linejoin="round" stroke-opacity="0.6"/>
<path d="M725.4,188.1 L727.4,197.9 L724.5,207.7 L722.5,211.6" fill="none" stroke="#fafafa" stroke-width="1.7" stroke-linejoin="round" stroke-opacity="0.6"/>
<path d="M679.5,186.2 L685.4,197.9 L691.2,211.6 L695.2,221.3 L697.1,231.1 L699.1,242.8" fill="none" stroke="#fafafa" stroke-width="1.7" stroke-linejoin="round" stroke-opacity="0.6"/>
<path d="M660,188.1 L671.7,186.2 L679.5,185.2" fill="none" stroke="#fafafa" stroke-width="1.7" stroke-linejoin="round" stroke-opacity="0.6"/>
<path d="M660,227.2 L671.7,221.3 L685.4,215.5 L699.1,211.6 L710.8,209.6 L722.5,211.6" fill="none" stroke="#fafafa" stroke-width="1.7" stroke-linejoin="round" stroke-opacity="0.6"/>
<path d="M660,231.1 L675.6,235 L689.3,237" fill="none" stroke="#fafafa" stroke-width="1.7" stroke-linejoin="round" stroke-opacity="0.6"/>
<path d="M714.7,151 L726.4,150 L738.1,149.1" fill="none" stroke="#fafafa" stroke-width="1.7" stroke-linejoin="round" stroke-opacity="0.6"/>
<path d="M667.8,164.7 L675.6,168.6 L679.5,176.4" fill="none" stroke="#fafafa" stroke-width="1.7" stroke-linejoin="round" stroke-opacity="0.6"/>
<path d="M104.9,250 L99.1,261.7 L93.2,273.4 L85.4,289.1 L79.5,302.7 L76.6,310.5" fill="none" stroke="#fafafa" stroke-width="1.7" stroke-linejoin="round" stroke-opacity="0.6"/>
<path d="M260,259.8 L279.5,266.6 L299.1,275.4 L318.6,281.2 L336.2,283.2" fill="none" stroke="#fafafa" stroke-width="1.7" stroke-linejoin="round" stroke-opacity="0.6"/>
<path d="M354.7,286.1 L365.5,285.2" fill="none" stroke="#fafafa" stroke-width="1.7" stroke-linejoin="round" stroke-opacity="0.6"/>
<path d="M383,281.2 L396.7,280.3 L416.2,282.2 L435.8,278.3 L461.2,279.3" fill="none" stroke="#fafafa" stroke-width="1.7" stroke-linejoin="round" stroke-opacity="0.6"/>
<path d="M371.3,250 L369.4,269.5 L369.4,279.3" fill="none" stroke="#fafafa" stroke-width="1.7" stroke-linejoin="round" stroke-opacity="0.6"/>
<path d="M379.1,289.1 L385,287.1 L387,281.2" fill="none" stroke="#fafafa" stroke-width="1.7" stroke-linejoin="round" stroke-opacity="0.6"/>
<path d="M363.5,335.9 L363.5,351.6 L366.4,359.4" fill="none" stroke="#fafafa" stroke-width="1.7" stroke-linejoin="round" stroke-opacity="0.6"/>
<path d="M366.4,359.4 L385,351.6 L404.5,345.7 L431.9,337.9 L447.5,328.1 L461.2,322.3" fill="none" stroke="#fafafa" stroke-width="1.7" stroke-linejoin="round" stroke-opacity="0.6"/>
<path d="M366.4,361.3 L385,359.4 L408.4,355.5" fill="none" stroke="#fafafa" stroke-width="1.7" stroke-linejoin="round" stroke-opacity="0.6"/>
<path d="M366.4,361.3 L361.6,369.1 L353.8,371.1 L338.1,377 L326.4,377.9" fill="none" stroke="#fafafa" stroke-width="1.7" stroke-linejoin="round" stroke-opacity="0.6"/>
<path d="M306.9,384.8 L312.7,390.6" fill="none" stroke="#fafafa" stroke-width="1.7" stroke-linejoin="round" stroke-opacity="0.6"/>
<path d="M277.6,330.1 L273.7,335.9 L267.8,351.6 L267.8,367.2 L273.7,382.8 L279.5,390.6" fill="none" stroke="#fafafa" stroke-width="1.7" stroke-linejoin="round" stroke-opacity="0.6"/>
<path d="M365.5,365.2 L367.4,375 L361.6,382.8 L357.7,390.6" fill="none" stroke="#fafafa" stroke-width="1.7" stroke-linejoin="round" stroke-opacity="0.6"/>
<path d="M369.4,367.2 L385,377 L400.6,380.9 L408.4,386.7 L412.3,390.6" fill="none" stroke="#fafafa" stroke-width="1.7" stroke-linejoin="round" stroke-opacity="0.6"/>
<path d="M549.1,250 L547.5,258.8 L542.8,269.7" fill="none" stroke="#fafafa" stroke-width="1.7" stroke-linejoin="round" stroke-opacity="0.6"/>
<path d="M536.2,275.4 L535.2,293 L535.2,308.6" fill="none" stroke="#fafafa" stroke-width="1.7" stroke-linejoin="round" stroke-opacity="0.6"/>
<path d="M528.4,324.2 L526.4,335.9 L532.3,347.7 L534.2,359.4" fill="none" stroke="#fafafa" stroke-width="1.7" stroke-linejoin="round" stroke-opacity="0.6"/>
<path d="M528.4,367.2 L522.5,378.9 L516.6,390.6" fill="none" stroke="#fafafa" stroke-width="1.7" stroke-linejoin="round" stroke-opacity="0.6"/>
<path d="M460,324.2 L465.9,314.5 L477.6,298.8 L489.3,287.1 L508.8,283.2 L528.4,277.3 L542,273.4 L569.4,268.6 L592.8,263.7 L612.3,257.8 L628,253.9 L647.5,250" fill="none" stroke="#fafafa" stroke-width="1.7" stroke-linejoin="round" stroke-opacity="0.6"/>
<path d="M545.9,269.5 L549.8,259.8 L561.6,255.9" fill="none" stroke="#fafafa" stroke-width="1.7" stroke-linejoin="round" stroke-opacity="0.6"/>
<path d="M561.6,282.2 L569.4,291 L573.3,296.9" fill="none" stroke="#fafafa" stroke-width="1.7" stroke-linejoin="round" stroke-opacity="0.6"/>
<path d="M585,304.7 L592.8,308.6" fill="none" stroke="#fafafa" stroke-width="1.7" stroke-linejoin="round" stroke-opacity="0.6"/>
<path d="M596.7,259.8 L604.5,273.4 L616.2,285.2 L626,294.9 L643.6,302.7 L661.2,306.6" fill="none" stroke="#fafafa" stroke-width="1.7" stroke-linejoin="round" stroke-opacity="0.6"/>
<path d="M610.4,337.9 L612.3,347.7 L616.2,355.5 L622.1,367.2 L616.2,378.9" fill="none" stroke="#fafafa" stroke-width="1.7" stroke-linejoin="round" stroke-opacity="0.6"/>
<path d="M616.2,324.2 L635.8,323.2 L661.2,320.3" fill="none" stroke="#fafafa" stroke-width="1.7" stroke-linejoin="round" stroke-opacity="0.6"/>
<path d="M633.8,347.7 L647.5,351.6 L661.2,355.5" fill="none" stroke="#fafafa" stroke-width="1.7" stroke-linejoin="round" stroke-opacity="0.6"/>
<path d="M592.8,380.9 L604.5,377.9" fill="none" stroke="#fafafa" stroke-width="1.7" stroke-linejoin="round" stroke-opacity="0.6"/>
<path d="M460,286.1 L475.6,286.1 L489.3,287.1" fill="none" stroke="#fafafa" stroke-width="1.7" stroke-linejoin="round" stroke-opacity="0.6"/>
<path d="M677.6,289.1 L671.7,298.8 L665.9,306.6" fill="none" stroke="#fafafa" stroke-width="1.7" stroke-linejoin="round" stroke-opacity="0.6"/>
<path d="M660,306.6 L679.5,314.5 L699.1,324.2 L718.6,328.1 L738.1,335.9 L757.7,345.7 L773.3,355.5 L777.2,359.4 L769.4,367.2 L765.5,371.1" fill="none" stroke="#fafafa" stroke-width="1.7" stroke-linejoin="round" stroke-opacity="0.6"/>
<path d="M706.9,257.8 L718.6,269.5 L734.2,275.4 L749.8,283.2 L769.4,291 L777.2,298.8 L779.1,308.6" fill="none" stroke="#fafafa" stroke-width="1.7" stroke-linejoin="round" stroke-opacity="0.6"/>
<path d="M787,322.3 L800.6,330.1 L812.3,343.8 L818.2,355.5 L822.1,361.3 L835.8,365.2 L861.2,372.1" fill="none" stroke="#fafafa" stroke-width="1.7" stroke-linejoin="round" stroke-opacity="0.6"/>
<path d="M704.9,279.3 L706.9,298.8 L712.7,314.5 L708.8,332" fill="none" stroke="#fafafa" stroke-width="1.7" stroke-linejoin="round" stroke-opacity="0.6"/>
<path d="M704.9,347.7 L699.1,359.4 L691.2,363.3" fill="none" stroke="#fafafa" stroke-width="1.7" stroke-linejoin="round" stroke-opacity="0.6"/>
<path d="M714.7,341.8 L726.4,345.7" fill="none" stroke="#fafafa" stroke-width="1.7" stroke-linejoin="round" stroke-opacity="0.6"/>
<path d="M728.4,356.4 L730.3,375 L732.3,380.9 L751.8,378.9" fill="none" stroke="#fafafa" stroke-width="1.7" stroke-linejoin="round" stroke-opacity="0.6"/>
<path d="M767.4,377 L773.3,367.2" fill="none" stroke="#fafafa" stroke-width="1.7" stroke-linejoin="round" stroke-opacity="0.6"/>
<path d="M679.5,375 L699.1,377 L718.6,380.9" fill="none" stroke="#fafafa" stroke-width="1.7" stroke-linejoin="round" stroke-opacity="0.6"/>
<path d="M669.8,361.3 L679.5,365.2" fill="none" stroke="#fafafa" stroke-width="1.7" stroke-linejoin="round" stroke-opacity="0.6"/>
<path d="M861.1,373.1 L882.6,373.5 L906,371.6 L921.7,367.7 L931.4,361.8 L936.3,357.9" fill="none" stroke="#fafafa" stroke-width="1.7" stroke-linejoin="round" stroke-opacity="0.6"/>
<path d="M76.6,405.6 L99.1,403.7 L124.5,403.3 L140.1,404.6 L147.9,413.4" fill="none" stroke="#fafafa" stroke-width="1.7" stroke-linejoin="round" stroke-opacity="0.6"/>
<path d="M161.6,427.1 L165.5,431" fill="none" stroke="#fafafa" stroke-width="1.7" stroke-linejoin="round" stroke-opacity="0.6"/>
<path d="M149.8,442.7 L144,456.4 L145.9,472 L138.1,487.7 L136.2,499.4 L134.2,505.2" fill="none" stroke="#fafafa" stroke-width="1.7" stroke-linejoin="round" stroke-opacity="0.6"/>
<path d="M165.5,433 L187,430 L200.6,426.1 L216.2,429.1 L235.8,425.2 L247.5,417.3 L261.2,411.5" fill="none" stroke="#fafafa" stroke-width="1.7" stroke-linejoin="round" stroke-opacity="0.6"/>
<path d="M261.2,472 L247.5,475.9 L231.9,481.8 L216.2,485.7 L196.7,491.6 L181.1,497.4 L157.7,505.2 L138.1,513 L128.4,520.9 L120.5,530.6" fill="none" stroke="#fafafa" stroke-width="1.7" stroke-linejoin="round" stroke-opacity="0.6"/>
<path d="M76.6,487.7 L91.2,489.6 L99.1,495.5 L108.8,496.4" fill="none" stroke="#fafafa" stroke-width="1.7" stroke-linejoin="round" stroke-opacity="0.6"/>
<path d="M127.4,500.4 L136.2,503.3" fill="none" stroke="#fafafa" stroke-width="1.7" stroke-linejoin="round" stroke-opacity="0.6"/>
<path d="M110.8,505.2 L106.9,517 L103,530.6" fill="none" stroke="#fafafa" stroke-width="1.7" stroke-linejoin="round" stroke-opacity="0.6"/>
<path d="M261.2,458.4 L251.4,466.2 L247.5,474" fill="none" stroke="#fafafa" stroke-width="1.7" stroke-linejoin="round" stroke-opacity="0.6"/>
<path d="M260,409.5 L269.8,401.7 L285.4,402.7 L299.1,403.7 L318.6,399.8 L332.3,400.7" fill="none" stroke="#fafafa" stroke-width="1.7" stroke-linejoin="round" stroke-opacity="0.6"/>
<path d="M279.5,405.6 L277.6,417.3 L273.7,429.1 L271.7,440.8 L265.9,452.5 L260,458.4" fill="none" stroke="#fafafa" stroke-width="1.7" stroke-linejoin="round" stroke-opacity="0.6"/>
<path d="M347.9,401.7 L353.8,393.9 L355.7,390" fill="none" stroke="#fafafa" stroke-width="1.7" stroke-linejoin="round" stroke-opacity="0.6"/>
<path d="M340.1,409.5 L336.2,423.2 L326.4,431 L316.6,442.7 L310.8,450.5" fill="none" stroke="#fafafa" stroke-width="1.7" stroke-linejoin="round" stroke-opacity="0.6"/>
<path d="M260,466.2 L271.7,462.3 L291.2,456.4 L310.8,451.5 L338.1,451.5 L361.6,450.9 L385,452.5 L408.4,448.6 L428,445.7 L447.5,446.6 L461.2,443.7" fill="none" stroke="#fafafa" stroke-width="1.7" stroke-linejoin="round" stroke-opacity="0.6"/>
<path d="M361.6,390 L369.4,401.7 L377.2,407.6" fill="none" stroke="#fafafa" stroke-width="1.7" stroke-linejoin="round" stroke-opacity="0.6"/>
<path d="M388.9,417.3 L396.7,423.2 L404.5,427.1" fill="none" stroke="#fafafa" stroke-width="1.7" stroke-linejoin="round" stroke-opacity="0.6"/>
<path d="M420.2,438.8 L426,446.6" fill="none" stroke="#fafafa" stroke-width="1.7" stroke-linejoin="round" stroke-opacity="0.6"/>
<path d="M429.9,390 L435.8,397.8 L461.2,395.9" fill="none" stroke="#fafafa" stroke-width="1.7" stroke-linejoin="round" stroke-opacity="0.6"/>
<path d="M326.4,538.4 L338.1,530.6 L349.8,526.7 L385,524.8 L408.4,517" fill="none" stroke="#fafafa" stroke-width="1.7" stroke-linejoin="round" stroke-opacity="0.6"/>
<path d="M460,397.8 L471.7,398.8 L479.5,399.8" fill="none" stroke="#fafafa" stroke-width="1.7" stroke-linejoin="round" stroke-opacity="0.6"/>
<path d="M479.5,407.6 L478.6,419.3 L473.7,429.1 L471.7,433.9" fill="none" stroke="#fafafa" stroke-width="1.7" stroke-linejoin="round" stroke-opacity="0.6"/>
<path d="M460,434.9 L479.5,436.9 L499.1,437.5 L518.6,435.9 L534.2,431 L549.8,421.2 L569.4,411.5 L577.2,397.8 L579.1,390" fill="none" stroke="#fafafa" stroke-width="1.7" stroke-linejoin="round" stroke-opacity="0.6"/>
<path d="M622.1,403.7 L631.9,404.6 L647.5,408.6 L661.2,406.6" fill="none" stroke="#fafafa" stroke-width="1.7" stroke-linejoin="round" stroke-opacity="0.6"/>
<path d="M512.7,390 L499.1,393.9 L489.3,394.9" fill="none" stroke="#fafafa" stroke-width="1.7" stroke-linejoin="round" stroke-opacity="0.6"/>
</g>
<path d="M637.8,354.8 L640.2,357.2 L641.7,363.4 L645.6,367.3 L648.8,368.9 L651.9,369.7 L651.1,372 L647.2,371.3 L644.1,373.6 L642.5,378.3 L645.6,381.4 L648,386.9 L648.8,393.1 L649.5,400.2 L647.2,407.2 L645.6,414.5 L640,419.5 L631.6,421 L631.6,408.8 L628.4,402.5 L626.9,397.8 L630,394.7 L633.9,393.1 L634.7,386.9 L633.1,380.6 L633.9,376.7 L638.6,375.9 L640.9,371.3 L640.2,366.6 L638.6,361.9 L637,357.2 Z" fill="#fff" stroke="#000" stroke-width="1.3" stroke-linejoin="round"/>
<path d="M669.6,384 L672,383 L673.8,386 L674,395 L674.2,405 L674.5,412.5 L670.4,412.5 L669.8,404 L669.3,394 Z" fill="#fff" stroke="#000" stroke-width="1.3" stroke-linejoin="round"/>
<path d="M669,372.5 L672,370.8 L676.5,370.4 L680,371.2 L678.5,373.5 L674,375.2 L670.5,375.4 Z" fill="#fff" stroke="#000" stroke-width="1.3" stroke-linejoin="round"/>
<path d="M652,398 L655,396 L656,404 L655,412 L651,413.5 L651.5,405 Z" fill="#fff" stroke="#000" stroke-width="1.3" stroke-linejoin="round"/>
<path d="M919,449.5 L924,446 L928,442 L931,440.5 L933,443 L929.5,447 L924,450.5 Z" fill="#fff" stroke="#000" stroke-width="1.3" stroke-linejoin="round"/>
<path d="M642.6,402.5 L646,401 L648,405 L647.5,411 L644,414 L642.3,409 Z" fill="#690000" stroke="#000" stroke-width="1.1" stroke-linejoin="round"/>
<path d="M640,388 L642.3,387.4 L643,391 L641.8,394 L640,392.5 Z" fill="#690000" stroke="#000" stroke-width="1.1" stroke-linejoin="round"/>
<path d="M231.9,117.8 L232.3,129.5 L231.5,139.3 L229.5,149.1 L228.9,158.8 L231.9,165.7 L234.8,167.6" fill="none" stroke="#000" stroke-width="1.9" stroke-linejoin="round"/>
<path d="M234.8,167.6 L226,188.1 L216.2,211.6 L208.4,231.1 L201.6,250.6" fill="none" stroke="#000" stroke-width="1.9" stroke-linejoin="round"/>
<path d="M234.8,167.6 L261.2,168.2" fill="none" stroke="#000" stroke-width="1.9" stroke-linejoin="round"/>
<path d="M260,168.2 L318.6,169 L377.2,170.5 L416.2,171.5 L461.2,172.5" fill="none" stroke="#000" stroke-width="1.9" stroke-linejoin="round"/>
<path d="M460,172.5 L518.6,173.5 L577.2,175.4 L612.3,176.4 L635.8,177.4 L655.3,177.4" fill="none" stroke="#000" stroke-width="1.9" stroke-linejoin="round"/>
<path d="M654.1,177.2 L662,175.6 L664.7,170.5 L671.3,168.6 L677.2,170.5 L679.1,160.8 L683.8,156.5 L693.2,154.5 L699.5,155.7 L708.8,149.5 L713.5,146.3 L721.3,145.2 L735.4,140.1 L743.2,140.7 L747.9,143.6 L749.5,150.6 L752.6,154.9 L760.4,156.9" fill="none" stroke="#000" stroke-width="1.9" stroke-linejoin="round"/>
<path d="M200.6,250 L194.8,265.6 L187,283.2 L183,294.9 L183,300.8 L187,303.1" fill="none" stroke="#000" stroke-width="1.9" stroke-linejoin="round"/>
<path d="M187,303.1 L216.2,303.7 L261.2,305.1" fill="none" stroke="#000" stroke-width="1.9" stroke-linejoin="round"/>
<path d="M187,303.1 L185,328.1 L182.1,351.6 L179.1,375 L178.2,390.6" fill="none" stroke="#000" stroke-width="1.9" stroke-linejoin="round"/>
<path d="M260,305.1 L322.5,306.6 L330.3,307 L330.3,312.9 L341.1,312.5 L342,307 L377.2,307 L461.2,306.6" fill="none" stroke="#000" stroke-width="1.9" stroke-linejoin="round"/>
<path d="M460,307 L499.1,308 L548.9,308.6" fill="none" stroke="#000" stroke-width="1.9" stroke-linejoin="round"/>
<path d="M548.9,308.6 L549.5,347.7 L550.2,390.6" fill="none" stroke="#000" stroke-width="1.9" stroke-linejoin="round"/>
<path d="M548.9,310.5 L596.7,310.9 L637.7,309.6 L638.1,328.1 L638.7,341.8" fill="none" stroke="#000" stroke-width="1.9" stroke-linejoin="round"/>
<path d="M178.2,390 L175.2,409.5 L173.3,429.1 L173.3,448.6 L181.1,456.4 L185,462.3 L187,468.1" fill="none" stroke="#000" stroke-width="1.9" stroke-linejoin="round"/>
<path d="M179.1,472.6 L157.7,480.8 L140.1,486.7 L137.1,491.6 L145.9,502.3 L151.8,507.2" fill="none" stroke="#000" stroke-width="1.9" stroke-linejoin="round"/>
<path d="M76.6,499.4 L97.1,507.2" fill="none" stroke="#000" stroke-width="1.9" stroke-linejoin="round"/>
<path d="M549.8,390 L549.5,419.3" fill="none" stroke="#000" stroke-width="1.9" stroke-linejoin="round"/>
<path d="M76.7,117.7 L774.4,118.3 L768.1,125.3 L765,131.6 L761.1,138.6 L760.3,145.6 L761.1,151.9 L762.7,158.9 L765,165.9 L768.1,172.2 L772.8,178.4 L780.6,183.1 L786.9,183.9 L793.1,179.2 L799.4,177.7 L805.6,178.4 L807.2,183.1 L806.4,187.8 L799.4,191.7 L797.8,197.2 L793.1,198.8 L790,195.6 L783.8,199.4 L774.4,201.7 L765,204.8 L757.2,207.2 L750.9,208 L743.1,206.4 L736.9,204.8 L738.4,208.8 L744.7,213.4 L750.9,215 L752.5,218.1 L746.3,219.7 L740,222 L735.3,223.6 L732.2,227.5 L729.1,230.6 L723.6,235.3 L718.1,240 L713.4,244.7 L710.3,249.4 L713.4,252.5 L721.3,255.6 L725.9,263.4 L729.1,268.1 L736.9,265 L743.1,258.8 L749.4,258.8 L757.2,260.3 L765,263.4 L772.8,265 L779.1,271.3 L783.8,277.5 L785.3,283.8 L790,290 L795.4,292.8 L793.4,298.7 L799.3,304.5 L805.2,309.4 L799.3,313.3 L792.5,314.3 L790.5,319.2 L797.3,320.2 L805.2,322.1 L814.9,326 L818.8,330.9 L819.8,339.7 L817.9,347.5 L822.7,353.4 L832.5,358.2 L844.2,362.1 L855.9,365.1 L861.8,367 L875.5,369 L887.2,368 L898.9,367 L910.6,366.1 L920.4,363.1 L928.2,357.3 L929.2,349.5 L932.1,341.6 L933.1,335.8 L928.2,331.9 L924.3,327 L920.4,333.8 L917.5,330.9 L916.5,323.1 L915.5,314.3 L912.6,306.5 L906.7,302.6 L898.9,301.6 L897.9,305.5 L897,308.4 L891.1,307.5 L885.2,302.6 L881.3,298.7 L887.2,297.1 L898.9,296.7 L910.6,299.6 L920.4,304.5 L930.2,314.3 L938,326 L943.8,337.7 L946.8,349.5 L948.7,359.2 L948.7,367 L945.8,370.9 L941.9,376.8 L944.8,380.7 L941.5,382.7 L939.5,390.5 L936.6,399.5 L933.5,402.2 L931.5,400.5 L935.6,394.4 L937.9,386.6 L939,381 L934.1,378.8 L926.3,376.8 L914.5,377.8 L902.8,378.8 L891.1,382.7 L881.3,383.6 L878.4,388.5 L875.5,384.6 L863.8,383.6 L855.9,384.6 L852,387.5 L847.1,385.6 L844.2,388.5 L837.4,391.4 L835.4,396.3 L824.7,400.2 L813,401.2 L801.3,402.2 L793.4,404.1 L795.5,398.6 L796.5,390.8 L795.5,383 L800.4,377.1 L801.4,372.2 L795.5,371.3 L790.6,374.2 L786.7,369.3 L782.8,367.3 L778.9,369.3 L780.9,375.2 L775,377.1 L771.1,373.2 L767.2,377.1 L771.1,382 L765.2,383.9 L761.3,385.9 L757.4,390.8 L751.6,393.7 L743.8,391.8 L735.9,392.7 L734,396.6 L732,402.5 L728.1,406.4 L722.3,408.4 L714.5,409.3 L712.5,413.2 L708.6,408.4 L704.7,406.4 L702.7,410.3 L696.9,412.3 L689.1,417.1 L685.2,418.1 L679.3,415.2 L676.9,416.6 L674.5,411.9 L670.6,410.3 L669.1,415 L664.4,413.4 L655,413.4 L647.2,415 L642.5,418.1 L633.4,422.4 L627.5,423.4 L623.6,427.3 L619.7,433.2 L617.5,437.7 L611.3,436.1 L606,436.1 L594.3,437.1 L580.6,439.1 L567,442 L553.3,443.9 L541.6,444.9 L533.8,448.8 L522,448.8 L514.2,452.7 L506.4,457.6 L498.6,456.6 L490.8,450.8 L484.9,443.9 L475.2,443 L469.3,446.9 L459.5,449.8 L450,451.5 L445,455 L437.5,454 L433.6,456.9 L425.8,455.9 L421.9,453 L406.3,453.9 L398.4,455.9 L386.7,455.9 L377,456.9 L367.2,456.9 L355.5,458.8 L347.7,455.9 L337.9,457.9 L328.1,458.8 L318.4,458.8 L312.5,457.9 L310.5,452 L306.6,453.9 L298.8,458.8 L289.1,464.7 L279.3,468.6 L269.5,473.5 L265.6,477.4 L257.8,477.4 L250,475.4 L245.5,476.6 L235.8,480.5 L226,484.5 L212.3,489.3 L200.6,493.2 L188.9,497.1 L177.2,501.1 L165.5,505.9 L157.7,507.9 L145.9,511.8 L138.1,515.7 L134.2,519.6 L126.4,523.5 L118.6,529.4 L114.7,535.2 L114.7,537.2 L76.7,537.2 Z" fill="none" stroke="#000" stroke-width="2.1" stroke-linejoin="round"/>
<path d="M151.7,537.2 L151.7,532 L159.5,528.1 L169.3,527.1 L179,530 L188.8,531 L198.6,529 L206.4,526.1 L226,525.2 L233.8,524.2 L250,522.5 L257.2,522.2 L257.2,515.4 L261,514 L263.7,512.5 L273.4,513.5 L276.4,517.4 L289.1,516.4 L308.6,515.5 L328.1,515.5 L347.7,515.5 L360,516.5 L371.7,511 L383.4,505.2 L395.2,498.1 L406.9,492.3 L416.3,488.8 L425.6,482.9 L435,480 L444.4,477.6 L452.6,476.4 L454.6,477.6 L452.6,480 L446.7,481.7 L442,485.2 L440.9,482.3 L436.2,482.9 L432.7,487.6 L429.1,493.4 L423.3,494.6 L418.6,497 L419.8,500.5 L416.3,504 L406.9,508.7 L392.8,508.7 L389.3,513.4 L383.4,519.2 L376.4,522.7 L371.7,523.9 L375.2,525.1 L383.4,524.5 L390.5,526.3 L398.7,528.6 L401,527.4 L408,522 L416.3,516.3 L423.3,512.2 L430.3,508.7 L437.3,505.2 L442,504 L446.7,506.3 L451.4,505.2 L453.8,502.8 L459.6,502.8 L465.5,506.3 L467.8,499.3 L471.3,496.4 L473.2,501.6 L477.1,506.4 L482,505.5 L483,497.7 L480,491.8 L475.2,488.9 L478.1,485 L484.9,487.9 L488.8,490.8 L486.9,496.7 L485.9,503.5 L487.9,508.4 L494.7,506.4 L502.5,501.6 L510.3,497.7 L518.1,493.8 L525.9,493.3 L522,496.7 L514.2,499.6 L498.6,504.5 L480,512.5 L465.5,520.4 L453.8,525.1 L442,529.8 L435,532.1 L425.6,535.6 L416.3,538 L410.4,534.5 L406.9,537.4 L398.7,537.2 L151.8,537.2 Z" fill="none" stroke="#000" stroke-width="2.1" stroke-linejoin="round"/>
<path d="M429.1,495.5 L433,492.6 L438,491.5 L444,492 L450,493.5 L455,497 L456,501 L452,503.5 L446,504.5 L440,503.8 L434,503 L430,500 Z" fill="none" stroke="#000" stroke-width="2.1" stroke-linejoin="round"/>
<path d="M476,485.5 L479,484 L482,485.5 L481.5,488.5 L478,490 L475.5,488.5 Z" fill="none" stroke="#000" stroke-width="2.1" stroke-linejoin="round"/>
<path d="M754.5,440.6 L759.4,438.6 L767.2,439.6 L775,433.8 L782.8,425.9 L790.6,419.1 L800.4,415.2 L806.3,414.2 L806.3,419.1 L812.1,416.2 L816,420.1 L816,425.9 L821.9,429.8 L827.7,432.8 L832.6,430.8 L834.6,425.9 L838.5,426.9 L838.5,433.8 L837.5,439.6 L831.6,440.6 L823.8,439.6 L814.1,439.6 L802.3,440 L790.6,441.2 L778.9,442.5 L772.1,444.5 L769.1,449.4 L764.3,447.4 L759.4,445.5 L755.5,442.5 Z" fill="none" stroke="#000" stroke-width="2.1" stroke-linejoin="round"/>
<path d="M884.3,453.8 L890.5,451.3 L903,450 L913,451.3 L918,448.8 L925.5,442.5 L929.3,437.5 L924.3,432.5 L928,435 L934.3,441.3 L940.5,448.8 L944.3,455 L941.8,460 L933,462 L918,462 L908,461.3 L898,458.8 L890.5,456.3 Z" fill="none" stroke="#000" stroke-width="2.1" stroke-linejoin="round"/>
<path d="M596.3,463.5 L599.2,466.4 L601.1,472.3 L604.1,475.2 L602.1,479.1 L594.3,480.1 L588.4,478.1 L589.4,474.2 L593.3,470.3 L595.3,465.4 Z" fill="none" stroke="#000" stroke-width="2.1" stroke-linejoin="round"/>
<path d="M789,405.5 L783,408.5 L777,411.5 L767,416.5 L759,420 L751,423 L743,425.5 L735,427.5 L730.5,427.5 L731,425 L738,423 L746,420.5 L755,417 L765,412.5 L775,408 L783,404.5 L788,403 Z" fill="none" stroke="#000" stroke-width="2.1" stroke-linejoin="round"/>
<path d="M756.5,457.2 L759.5,456.2 L762.5,457.2 L762.5,459.2 L759.5,460.2 L756.5,459.2 Z" fill="#000"/>
<path d="M866.5,442.2 L869,441.4 L871.5,442.4 L871,444.2 L868.5,444.6 L866.5,443.8 Z" fill="#000"/>
<path d="M875,448.2 L878,447.2 L881,448.6 L880.5,450.6 L877.5,451 L875,450 Z" fill="#000"/>
<path d="M713.4,236.9 L721.2,235.3 L725.9,241.6 L730.6,244.7 L741.6,246.2 L744.7,252.5 L749.4,257.2 L743.1,263.4 L736.9,258.8 L730.6,263.4 L725.9,258.8 L721.2,260.3 L718.1,255.6 L711.9,252.5 L715,246.2 L710.3,243.1 Z" fill="#000"/>
<path d="M737.7,204.8 L744.7,205.6 L752.5,208.8 L751.7,213.4 L746.2,215 L741.6,211.9 Z" fill="#000"/>
<path d="M185,521 L192,519.3 L198.6,521 L197,527 L190,529 L185,526 Z" fill="#000"/>
<path d="M204.5,518 L208.4,517.3 L208.4,523 L204.5,523.2 Z" fill="#000"/>
<path d="M721.2,247.8 L725.9,247.5 L726.2,251.7 L722,252 Z" fill="#fff"/>
<path d="M731.9,248.6 L736.9,248.3 L737.2,251.9 L732.2,252.2 Z" fill="#fff"/>
<path d="M739.2,256.4 L742.8,256.1 L743.4,260.3 L739.7,260.6 Z" fill="#fff"/>
<path d="M747.8,208.4 L751.2,209.1 L750.6,211.6 L747.5,210.9 Z" fill="#fff"/>
<path d="M737.1,204.7 L744,203.8 L747.9,209.6 L745.9,214.5 L741.1,211.6 L738.1,207.7 Z" fill="#000"/>
<path d="M718.6,237 L726.4,235 L728.4,240.9 L720.5,242.8 Z" fill="#000"/>
<path d="M777.2,185.2 L785,184.2 L787,188.1 L780.1,189.1 Z" fill="#000"/>
<path d="M785,187.1 L789.9,185.2 L790.9,190.1 L787,191.1 Z" fill="#000"/>
<path d="M716.6,253.9 L724.5,252.9 L726.4,258.8 L718.6,259.8 Z" fill="#000"/>
<path d="M738.1,257.8 L744,255.9 L745.9,261.7 L740.1,263.7 Z" fill="#000"/>
<path d="M792.8,367.2 L800.6,365.2 L804.5,375 L800.6,382.8 L794.8,378.9 Z" fill="#000"/>
<path d="M708.8,252.9 L713.7,252 L714.7,256.8 L709.8,257.8 Z" fill="#000"/>
<path d="M860.1,365.7 L867,364.3 L875.2,366.1 L873.8,369.6 L863.1,370 Z" fill="#000"/>
<path d="M928.5,330.5 L936.3,328.6 L935.3,335.4 L929.5,334.8 Z" fill="#000"/>
<path d="M917.8,328.6 L920.7,328.6 L920.7,336.4 L918.3,336.4 Z" fill="#000"/>
<path d="M938.3,375.5 L945.1,374.5 L947,381.3 L941.2,383.3 Z" fill="#000"/>
<path d="M875.8,385.2 L880.6,384.8 L880.6,389.1 L876.3,389.5 Z" fill="#000"/>
<path d="M843.5,385.2 L850.4,384.8 L850.4,389.1 L843.9,389.5 Z" fill="#000"/>
<path d="M939.2,358.9 L947,357.9 L948,363.8 L940.2,364.1 Z" fill="#000"/>
<path d="M485.4,412.5 L495.2,413.4 L489.3,419.3 Z" fill="#000"/>
<path d="M497.1,454.5 L506.9,454.1 L506.9,459.3 L498.1,459.3 Z" fill="#000"/>
<path d="M514.7,444.7 L518.6,445.1 L518.2,450.5 L515.1,450.2 Z" fill="#000"/>
<g transform="translate(81.1,153.9)"><path d="M-8.3,-6.6 L8.3,-6.6 L8.7,-2.2 C8.6,2.4 5,5.6 0,7.1 C-5,5.6 -8.6,2.4 -8.7,-2.2 Z" fill="#4a5cb8" stroke="#aab4e6" stroke-width="0.5"/><path d="M-8.5,-6.9 L8.5,-6.9 L8.8,-3.3 L-8.8,-3.3 Z" fill="#ee1010"/><text class="sh" x="0" y="2.9" textLength="11.2" lengthAdjust="spacingAndGlyphs">890</text></g>
<g transform="translate(141.1,170.5)"><path d="M-8.3,-6.6 L8.3,-6.6 L8.7,-2.2 C8.6,2.4 5,5.6 0,7.1 C-5,5.6 -8.6,2.4 -8.7,-2.2 Z" fill="#4a5cb8" stroke="#aab4e6" stroke-width="0.5"/><path d="M-8.5,-6.9 L8.5,-6.9 L8.8,-3.3 L-8.8,-3.3 Z" fill="#ee1010"/><text class="sh" x="0" y="2.9" textLength="11.2" lengthAdjust="spacingAndGlyphs">787</text></g>
<g transform="translate(144.0,201.8)"><path d="M-8.3,-6.6 L8.3,-6.6 L8.7,-2.2 C8.6,2.4 5,5.6 0,7.1 C-5,5.6 -8.6,2.4 -8.7,-2.2 Z" fill="#4a5cb8" stroke="#aab4e6" stroke-width="0.5"/><path d="M-8.5,-6.9 L8.5,-6.9 L8.8,-3.3 L-8.8,-3.3 Z" fill="#ee1010"/><text class="sh" x="0" y="2.9" textLength="8.2" lengthAdjust="spacingAndGlyphs">20</text></g>
<g transform="translate(116.6,232.1)"><path d="M-8.3,-6.6 L8.3,-6.6 L8.7,-2.2 C8.6,2.4 5,5.6 0,7.1 C-5,5.6 -8.6,2.4 -8.7,-2.2 Z" fill="#4a5cb8" stroke="#aab4e6" stroke-width="0.5"/><path d="M-8.5,-6.9 L8.5,-6.9 L8.8,-3.3 L-8.8,-3.3 Z" fill="#ee1010"/><text class="sh" x="0" y="2.9" textLength="8.2" lengthAdjust="spacingAndGlyphs">87</text></g>
<g transform="translate(386.0,138.9)"><path d="M-8.3,-6.6 L8.3,-6.6 L8.7,-2.2 C8.6,2.4 5,5.6 0,7.1 C-5,5.6 -8.6,2.4 -8.7,-2.2 Z" fill="#4a5cb8" stroke="#aab4e6" stroke-width="0.5"/><path d="M-8.5,-6.9 L8.5,-6.9 L8.8,-3.3 L-8.8,-3.3 Z" fill="#ee1010"/><text class="sh" x="0" y="2.9" textLength="8.2" lengthAdjust="spacingAndGlyphs">91</text></g>
<g transform="translate(617.2,141.2)"><path d="M-8.3,-6.6 L8.3,-6.6 L8.7,-2.2 C8.6,2.4 5,5.6 0,7.1 C-5,5.6 -8.6,2.4 -8.7,-2.2 Z" fill="#4a5cb8" stroke="#aab4e6" stroke-width="0.5"/><path d="M-8.5,-6.9 L8.5,-6.9 L8.8,-3.3 L-8.8,-3.3 Z" fill="#ee1010"/><text class="sh" x="0" y="2.9" textLength="11.2" lengthAdjust="spacingAndGlyphs">293</text></g>
<g transform="translate(623.7,175.4)"><path d="M-8.3,-6.6 L8.3,-6.6 L8.7,-2.2 C8.6,2.4 5,5.6 0,7.1 C-5,5.6 -8.6,2.4 -8.7,-2.2 Z" fill="#4a5cb8" stroke="#aab4e6" stroke-width="0.5"/><path d="M-8.5,-6.9 L8.5,-6.9 L8.8,-3.3 L-8.8,-3.3 Z" fill="#ee1010"/><text class="sh" x="0" y="2.9" textLength="4.2" lengthAdjust="spacingAndGlyphs">3</text></g>
<g transform="translate(473.7,201.8)"><path d="M-8.3,-6.6 L8.3,-6.6 L8.7,-2.2 C8.6,2.4 5,5.6 0,7.1 C-5,5.6 -8.6,2.4 -8.7,-2.2 Z" fill="#4a5cb8" stroke="#aab4e6" stroke-width="0.5"/><path d="M-8.5,-6.9 L8.5,-6.9 L8.8,-3.3 L-8.8,-3.3 Z" fill="#ee1010"/><text class="sh" x="0" y="2.9" textLength="11.2" lengthAdjust="spacingAndGlyphs">202</text></g>
<g transform="translate(499.6,205.1)"><path d="M-8.3,-6.6 L8.3,-6.6 L8.7,-2.2 C8.6,2.4 5,5.6 0,7.1 C-5,5.6 -8.6,2.4 -8.7,-2.2 Z" fill="#4a5cb8" stroke="#aab4e6" stroke-width="0.5"/><path d="M-8.5,-6.9 L8.5,-6.9 L8.8,-3.3 L-8.8,-3.3 Z" fill="#ee1010"/><text class="sh" x="0" y="2.9" textLength="4.2" lengthAdjust="spacingAndGlyphs">2</text></g>
<g transform="translate(549.3,233.0)"><path d="M-8.3,-6.6 L8.3,-6.6 L8.7,-2.2 C8.6,2.4 5,5.6 0,7.1 C-5,5.6 -8.6,2.4 -8.7,-2.2 Z" fill="#4a5cb8" stroke="#aab4e6" stroke-width="0.5"/><path d="M-8.5,-6.9 L8.5,-6.9 L8.8,-3.3 L-8.8,-3.3 Z" fill="#ee1010"/><text class="sh" x="0" y="2.9" textLength="11.2" lengthAdjust="spacingAndGlyphs">190</text></g>
<g transform="translate(741.1,123.3)"><path d="M-8.3,-6.6 L8.3,-6.6 L8.7,-2.2 C8.6,2.4 5,5.6 0,7.1 C-5,5.6 -8.6,2.4 -8.7,-2.2 Z" fill="#4a5cb8" stroke="#aab4e6" stroke-width="0.5"/><path d="M-8.5,-6.9 L8.5,-6.9 L8.8,-3.3 L-8.8,-3.3 Z" fill="#ee1010"/><text class="sh" x="0" y="2.9" textLength="11.2" lengthAdjust="spacingAndGlyphs">101</text></g>
<g transform="translate(662.0,156.9)"><path d="M-8.3,-6.6 L8.3,-6.6 L8.7,-2.2 C8.6,2.4 5,5.6 0,7.1 C-5,5.6 -8.6,2.4 -8.7,-2.2 Z" fill="#4a5cb8" stroke="#aab4e6" stroke-width="0.5"/><path d="M-8.5,-6.9 L8.5,-6.9 L8.8,-3.3 L-8.8,-3.3 Z" fill="#ee1010"/><text class="sh" x="0" y="2.9" textLength="8.2" lengthAdjust="spacingAndGlyphs">93</text></g>
<g transform="translate(725.0,181.3)"><path d="M-8.3,-6.6 L8.3,-6.6 L8.7,-2.2 C8.6,2.4 5,5.6 0,7.1 C-5,5.6 -8.6,2.4 -8.7,-2.2 Z" fill="#4a5cb8" stroke="#aab4e6" stroke-width="0.5"/><path d="M-8.5,-6.9 L8.5,-6.9 L8.8,-3.3 L-8.8,-3.3 Z" fill="#ee1010"/><text class="sh" x="0" y="2.9" textLength="8.2" lengthAdjust="spacingAndGlyphs">95</text></g>
<g transform="translate(345.5,284.2)"><path d="M-8.3,-6.6 L8.3,-6.6 L8.7,-2.2 C8.6,2.4 5,5.6 0,7.1 C-5,5.6 -8.6,2.4 -8.7,-2.2 Z" fill="#4a5cb8" stroke="#aab4e6" stroke-width="0.5"/><path d="M-8.5,-6.9 L8.5,-6.9 L8.8,-3.3 L-8.8,-3.3 Z" fill="#ee1010"/><text class="sh" x="0" y="2.9" textLength="8.2" lengthAdjust="spacingAndGlyphs">90</text></g>
<g transform="translate(373.9,284.8)"><path d="M-8.3,-6.6 L8.3,-6.6 L8.7,-2.2 C8.6,2.4 5,5.6 0,7.1 C-5,5.6 -8.6,2.4 -8.7,-2.2 Z" fill="#4a5cb8" stroke="#aab4e6" stroke-width="0.5"/><path d="M-8.5,-6.9 L8.5,-6.9 L8.8,-3.3 L-8.8,-3.3 Z" fill="#ee1010"/><text class="sh" x="0" y="2.9" textLength="11.2" lengthAdjust="spacingAndGlyphs">391</text></g>
<g transform="translate(416.2,340.2)"><path d="M-8.3,-6.6 L8.3,-6.6 L8.7,-2.2 C8.6,2.4 5,5.6 0,7.1 C-5,5.6 -8.6,2.4 -8.7,-2.2 Z" fill="#4a5cb8" stroke="#aab4e6" stroke-width="0.5"/><path d="M-8.5,-6.9 L8.5,-6.9 L8.8,-3.3 L-8.8,-3.3 Z" fill="#ee1010"/><text class="sh" x="0" y="2.9" textLength="8.2" lengthAdjust="spacingAndGlyphs">30</text></g>
<g transform="translate(393.2,360.4)"><path d="M-8.3,-6.6 L8.3,-6.6 L8.7,-2.2 C8.6,2.4 5,5.6 0,7.1 C-5,5.6 -8.6,2.4 -8.7,-2.2 Z" fill="#4a5cb8" stroke="#aab4e6" stroke-width="0.5"/><path d="M-8.5,-6.9 L8.5,-6.9 L8.8,-3.3 L-8.8,-3.3 Z" fill="#ee1010"/><text class="sh" x="0" y="2.9" textLength="11.2" lengthAdjust="spacingAndGlyphs">384</text></g>
<g transform="translate(316.2,377.5)"><path d="M-8.3,-6.6 L8.3,-6.6 L8.7,-2.2 C8.6,2.4 5,5.6 0,7.1 C-5,5.6 -8.6,2.4 -8.7,-2.2 Z" fill="#4a5cb8" stroke="#aab4e6" stroke-width="0.5"/><path d="M-8.5,-6.9 L8.5,-6.9 L8.8,-3.3 L-8.8,-3.3 Z" fill="#ee1010"/><text class="sh" x="0" y="2.9" textLength="8.2" lengthAdjust="spacingAndGlyphs">72</text></g>
<g transform="translate(566.4,250.2)"><path d="M-8.3,-6.6 L8.3,-6.6 L8.7,-2.2 C8.6,2.4 5,5.6 0,7.1 C-5,5.6 -8.6,2.4 -8.7,-2.2 Z" fill="#4a5cb8" stroke="#aab4e6" stroke-width="0.5"/><path d="M-8.5,-6.9 L8.5,-6.9 L8.8,-3.3 L-8.8,-3.3 Z" fill="#ee1010"/><text class="sh" x="0" y="2.9" textLength="11.2" lengthAdjust="spacingAndGlyphs">290</text></g>
<g transform="translate(555.7,277.3)"><path d="M-8.3,-6.6 L8.3,-6.6 L8.7,-2.2 C8.6,2.4 5,5.6 0,7.1 C-5,5.6 -8.6,2.4 -8.7,-2.2 Z" fill="#4a5cb8" stroke="#aab4e6" stroke-width="0.5"/><path d="M-8.5,-6.9 L8.5,-6.9 L8.8,-3.3 L-8.8,-3.3 Z" fill="#ee1010"/><text class="sh" x="0" y="2.9" textLength="11.2" lengthAdjust="spacingAndGlyphs">122</text></g>
<g transform="translate(577.2,300.4)"><path d="M-8.3,-6.6 L8.3,-6.6 L8.7,-2.2 C8.6,2.4 5,5.6 0,7.1 C-5,5.6 -8.6,2.4 -8.7,-2.2 Z" fill="#4a5cb8" stroke="#aab4e6" stroke-width="0.5"/><path d="M-8.5,-6.9 L8.5,-6.9 L8.8,-3.3 L-8.8,-3.3 Z" fill="#ee1010"/><text class="sh" x="0" y="2.9" textLength="11.2" lengthAdjust="spacingAndGlyphs">146</text></g>
<g transform="translate(536.6,316.0)"><path d="M-8.3,-6.6 L8.3,-6.6 L8.7,-2.2 C8.6,2.4 5,5.6 0,7.1 C-5,5.6 -8.6,2.4 -8.7,-2.2 Z" fill="#4a5cb8" stroke="#aab4e6" stroke-width="0.5"/><path d="M-8.5,-6.9 L8.5,-6.9 L8.8,-3.3 L-8.8,-3.3 Z" fill="#ee1010"/><text class="sh" x="0" y="2.9" textLength="11.2" lengthAdjust="spacingAndGlyphs">395</text></g>
<g transform="translate(609.4,331.6)"><path d="M-8.3,-6.6 L8.3,-6.6 L8.7,-2.2 C8.6,2.4 5,5.6 0,7.1 C-5,5.6 -8.6,2.4 -8.7,-2.2 Z" fill="#4a5cb8" stroke="#aab4e6" stroke-width="0.5"/><path d="M-8.5,-6.9 L8.5,-6.9 L8.8,-3.3 L-8.8,-3.3 Z" fill="#ee1010"/><text class="sh" x="0" y="2.9" textLength="11.2" lengthAdjust="spacingAndGlyphs">295</text></g>
<g transform="translate(542.0,356.4)"><path d="M-8.3,-6.6 L8.3,-6.6 L8.7,-2.2 C8.6,2.4 5,5.6 0,7.1 C-5,5.6 -8.6,2.4 -8.7,-2.2 Z" fill="#4a5cb8" stroke="#aab4e6" stroke-width="0.5"/><path d="M-8.5,-6.9 L8.5,-6.9 L8.8,-3.3 L-8.8,-3.3 Z" fill="#ee1010"/><text class="sh" x="0" y="2.9" textLength="11.2" lengthAdjust="spacingAndGlyphs">695</text></g>
<g transform="translate(625.6,352.5)"><path d="M-8.3,-6.6 L8.3,-6.6 L8.7,-2.2 C8.6,2.4 5,5.6 0,7.1 C-5,5.6 -8.6,2.4 -8.7,-2.2 Z" fill="#4a5cb8" stroke="#aab4e6" stroke-width="0.5"/><path d="M-8.5,-6.9 L8.5,-6.9 L8.8,-3.3 L-8.8,-3.3 Z" fill="#ee1010"/><text class="sh" x="0" y="2.9" textLength="8.2" lengthAdjust="spacingAndGlyphs">10</text></g>
<g transform="translate(675.2,283.2)"><path d="M-8.3,-6.6 L8.3,-6.6 L8.7,-2.2 C8.6,2.4 5,5.6 0,7.1 C-5,5.6 -8.6,2.4 -8.7,-2.2 Z" fill="#4a5cb8" stroke="#aab4e6" stroke-width="0.5"/><path d="M-8.5,-6.9 L8.5,-6.9 L8.8,-3.3 L-8.8,-3.3 Z" fill="#ee1010"/><text class="sh" x="0" y="2.9" textLength="4.2" lengthAdjust="spacingAndGlyphs">1</text></g>
<g transform="translate(781.1,316.4)"><path d="M-8.3,-6.6 L8.3,-6.6 L8.7,-2.2 C8.6,2.4 5,5.6 0,7.1 C-5,5.6 -8.6,2.4 -8.7,-2.2 Z" fill="#4a5cb8" stroke="#aab4e6" stroke-width="0.5"/><path d="M-8.5,-6.9 L8.5,-6.9 L8.8,-3.3 L-8.8,-3.3 Z" fill="#ee1010"/><text class="sh" x="0" y="2.9" textLength="8.2" lengthAdjust="spacingAndGlyphs">80</text></g>
<g transform="translate(707.5,340.2)"><path d="M-8.3,-6.6 L8.3,-6.6 L8.7,-2.2 C8.6,2.4 5,5.6 0,7.1 C-5,5.6 -8.6,2.4 -8.7,-2.2 Z" fill="#4a5cb8" stroke="#aab4e6" stroke-width="0.5"/><path d="M-8.5,-6.9 L8.5,-6.9 L8.8,-3.3 L-8.8,-3.3 Z" fill="#ee1010"/><text class="sh" x="0" y="2.9" textLength="8.2" lengthAdjust="spacingAndGlyphs">24</text></g>
<g transform="translate(728.0,350.0)"><path d="M-8.3,-6.6 L8.3,-6.6 L8.7,-2.2 C8.6,2.4 5,5.6 0,7.1 C-5,5.6 -8.6,2.4 -8.7,-2.2 Z" fill="#4a5cb8" stroke="#aab4e6" stroke-width="0.5"/><path d="M-8.5,-6.9 L8.5,-6.9 L8.8,-3.3 L-8.8,-3.3 Z" fill="#ee1010"/><text class="sh" x="0" y="2.9" textLength="11.2" lengthAdjust="spacingAndGlyphs">140</text></g>
<g transform="translate(687.3,367.2)"><path d="M-8.3,-6.6 L8.3,-6.6 L8.7,-2.2 C8.6,2.4 5,5.6 0,7.1 C-5,5.6 -8.6,2.4 -8.7,-2.2 Z" fill="#4a5cb8" stroke="#aab4e6" stroke-width="0.5"/><path d="M-8.5,-6.9 L8.5,-6.9 L8.8,-3.3 L-8.8,-3.3 Z" fill="#ee1010"/><text class="sh" x="0" y="2.9" textLength="8.2" lengthAdjust="spacingAndGlyphs">79</text></g>
<g transform="translate(759.6,376.0)"><path d="M-8.3,-6.6 L8.3,-6.6 L8.7,-2.2 C8.6,2.4 5,5.6 0,7.1 C-5,5.6 -8.6,2.4 -8.7,-2.2 Z" fill="#4a5cb8" stroke="#aab4e6" stroke-width="0.5"/><path d="M-8.5,-6.9 L8.5,-6.9 L8.8,-3.3 L-8.8,-3.3 Z" fill="#ee1010"/><text class="sh" x="0" y="2.9" textLength="11.2" lengthAdjust="spacingAndGlyphs">195</text></g>
<g transform="translate(676.6,382.8)"><path d="M-8.3,-6.6 L8.3,-6.6 L8.7,-2.2 C8.6,2.4 5,5.6 0,7.1 C-5,5.6 -8.6,2.4 -8.7,-2.2 Z" fill="#4a5cb8" stroke="#aab4e6" stroke-width="0.5"/><path d="M-8.5,-6.9 L8.5,-6.9 L8.8,-3.3 L-8.8,-3.3 Z" fill="#ee1010"/><text class="sh" x="0" y="2.9" textLength="8.2" lengthAdjust="spacingAndGlyphs">77</text></g>
<g transform="translate(935.3,353.0)"><path d="M-8.3,-6.6 L8.3,-6.6 L8.7,-2.2 C8.6,2.4 5,5.6 0,7.1 C-5,5.6 -8.6,2.4 -8.7,-2.2 Z" fill="#4a5cb8" stroke="#aab4e6" stroke-width="0.5"/><path d="M-8.5,-6.9 L8.5,-6.9 L8.8,-3.3 L-8.8,-3.3 Z" fill="#ee1010"/><text class="sh" x="0" y="2.9" textLength="4.2" lengthAdjust="spacingAndGlyphs">6</text></g>
<g transform="translate(111.8,418.3)"><path d="M-8.3,-6.6 L8.3,-6.6 L8.7,-2.2 C8.6,2.4 5,5.6 0,7.1 C-5,5.6 -8.6,2.4 -8.7,-2.2 Z" fill="#4a5cb8" stroke="#aab4e6" stroke-width="0.5"/><path d="M-8.5,-6.9 L8.5,-6.9 L8.8,-3.3 L-8.8,-3.3 Z" fill="#ee1010"/><text class="sh" x="0" y="2.9" textLength="11.2" lengthAdjust="spacingAndGlyphs">301</text></g>
<g transform="translate(154.3,420.9)"><path d="M-8.3,-6.6 L8.3,-6.6 L8.7,-2.2 C8.6,2.4 5,5.6 0,7.1 C-5,5.6 -8.6,2.4 -8.7,-2.2 Z" fill="#4a5cb8" stroke="#aab4e6" stroke-width="0.5"/><path d="M-8.5,-6.9 L8.5,-6.9 L8.8,-3.3 L-8.8,-3.3 Z" fill="#ee1010"/><text class="sh" x="0" y="2.9" textLength="8.2" lengthAdjust="spacingAndGlyphs">84</text></g>
<g transform="translate(156.1,436.9)"><path d="M-8.3,-6.6 L8.3,-6.6 L8.7,-2.2 C8.6,2.4 5,5.6 0,7.1 C-5,5.6 -8.6,2.4 -8.7,-2.2 Z" fill="#4a5cb8" stroke="#aab4e6" stroke-width="0.5"/><path d="M-8.5,-6.9 L8.5,-6.9 L8.8,-3.3 L-8.8,-3.3 Z" fill="#ee1010"/><text class="sh" x="0" y="2.9" textLength="11.2" lengthAdjust="spacingAndGlyphs">684</text></g>
<g transform="translate(237.3,466.2)"><path d="M-8.3,-6.6 L8.3,-6.6 L8.7,-2.2 C8.6,2.4 5,5.6 0,7.1 C-5,5.6 -8.6,2.4 -8.7,-2.2 Z" fill="#4a5cb8" stroke="#aab4e6" stroke-width="0.5"/><path d="M-8.5,-6.9 L8.5,-6.9 L8.8,-3.3 L-8.8,-3.3 Z" fill="#ee1010"/><text class="sh" x="0" y="2.9" textLength="8.2" lengthAdjust="spacingAndGlyphs">59</text></g>
<g transform="translate(118.2,499.0)"><path d="M-8.3,-6.6 L8.3,-6.6 L8.7,-2.2 C8.6,2.4 5,5.6 0,7.1 C-5,5.6 -8.6,2.4 -8.7,-2.2 Z" fill="#4a5cb8" stroke="#aab4e6" stroke-width="0.5"/><path d="M-8.5,-6.9 L8.5,-6.9 L8.8,-3.3 L-8.8,-3.3 Z" fill="#ee1010"/><text class="sh" x="0" y="2.9" textLength="11.2" lengthAdjust="spacingAndGlyphs">287</text></g>
<g transform="translate(278.6,398.8)"><path d="M-8.3,-6.6 L8.3,-6.6 L8.7,-2.2 C8.6,2.4 5,5.6 0,7.1 C-5,5.6 -8.6,2.4 -8.7,-2.2 Z" fill="#4a5cb8" stroke="#aab4e6" stroke-width="0.5"/><path d="M-8.5,-6.9 L8.5,-6.9 L8.8,-3.3 L-8.8,-3.3 Z" fill="#ee1010"/><text class="sh" x="0" y="2.9" textLength="4.2" lengthAdjust="spacingAndGlyphs">8</text></g>
<g transform="translate(302.6,399.4)"><path d="M-8.3,-6.6 L8.3,-6.6 L8.7,-2.2 C8.6,2.4 5,5.6 0,7.1 C-5,5.6 -8.6,2.4 -8.7,-2.2 Z" fill="#4a5cb8" stroke="#aab4e6" stroke-width="0.5"/><path d="M-8.5,-6.9 L8.5,-6.9 L8.8,-3.3 L-8.8,-3.3 Z" fill="#ee1010"/><text class="sh" x="0" y="2.9" textLength="11.2" lengthAdjust="spacingAndGlyphs">322</text></g>
<g transform="translate(339.7,403.7)"><path d="M-8.3,-6.6 L8.3,-6.6 L8.7,-2.2 C8.6,2.4 5,5.6 0,7.1 C-5,5.6 -8.6,2.4 -8.7,-2.2 Z" fill="#4a5cb8" stroke="#aab4e6" stroke-width="0.5"/><path d="M-8.5,-6.9 L8.5,-6.9 L8.8,-3.3 L-8.8,-3.3 Z" fill="#ee1010"/><text class="sh" x="0" y="2.9" textLength="11.2" lengthAdjust="spacingAndGlyphs">691</text></g>
<g transform="translate(383.0,413.0)"><path d="M-8.3,-6.6 L8.3,-6.6 L8.7,-2.2 C8.6,2.4 5,5.6 0,7.1 C-5,5.6 -8.6,2.4 -8.7,-2.2 Z" fill="#4a5cb8" stroke="#aab4e6" stroke-width="0.5"/><path d="M-8.5,-6.9 L8.5,-6.9 L8.8,-3.3 L-8.8,-3.3 Z" fill="#ee1010"/><text class="sh" x="0" y="2.9" textLength="4.2" lengthAdjust="spacingAndGlyphs">9</text></g>
<g transform="translate(412.3,434.5)"><path d="M-8.3,-6.6 L8.3,-6.6 L8.7,-2.2 C8.6,2.4 5,5.6 0,7.1 C-5,5.6 -8.6,2.4 -8.7,-2.2 Z" fill="#4a5cb8" stroke="#aab4e6" stroke-width="0.5"/><path d="M-8.5,-6.9 L8.5,-6.9 L8.8,-3.3 L-8.8,-3.3 Z" fill="#ee1010"/><text class="sh" x="0" y="2.9" textLength="11.2" lengthAdjust="spacingAndGlyphs">154</text></g>
<g transform="translate(320.4,537.1)"><path d="M-8.3,-6.6 L8.3,-6.6 L8.7,-2.2 C8.6,2.4 5,5.6 0,7.1 C-5,5.6 -8.6,2.4 -8.7,-2.2 Z" fill="#4a5cb8" stroke="#aab4e6" stroke-width="0.5"/><path d="M-8.5,-6.9 L8.5,-6.9 L8.8,-3.3 L-8.8,-3.3 Z" fill="#ee1010"/><text class="sh" x="0" y="2.9" textLength="11.2" lengthAdjust="spacingAndGlyphs">495</text></g>
<g transform="translate(367.2,534.9)"><path d="M-8.3,-6.6 L8.3,-6.6 L8.7,-2.2 C8.6,2.4 5,5.6 0,7.1 C-5,5.6 -8.6,2.4 -8.7,-2.2 Z" fill="#4a5cb8" stroke="#aab4e6" stroke-width="0.5"/><path d="M-8.5,-6.9 L8.5,-6.9 L8.8,-3.3 L-8.8,-3.3 Z" fill="#ee1010"/><text class="sh" x="0" y="2.9" textLength="8.2" lengthAdjust="spacingAndGlyphs">27</text></g>
<g transform="translate(481.5,402.1)"><path d="M-8.3,-6.6 L8.3,-6.6 L8.7,-2.2 C8.6,2.4 5,5.6 0,7.1 C-5,5.6 -8.6,2.4 -8.7,-2.2 Z" fill="#4a5cb8" stroke="#aab4e6" stroke-width="0.5"/><path d="M-8.5,-6.9 L8.5,-6.9 L8.8,-3.3 L-8.8,-3.3 Z" fill="#ee1010"/><text class="sh" x="0" y="2.9" textLength="8.2" lengthAdjust="spacingAndGlyphs">32</text></g>
<g transform="translate(615.3,399.8)"><path d="M-8.3,-6.6 L8.3,-6.6 L8.7,-2.2 C8.6,2.4 5,5.6 0,7.1 C-5,5.6 -8.6,2.4 -8.7,-2.2 Z" fill="#4a5cb8" stroke="#aab4e6" stroke-width="0.5"/><path d="M-8.5,-6.9 L8.5,-6.9 L8.8,-3.3 L-8.8,-3.3 Z" fill="#ee1010"/><text class="sh" x="0" y="2.9" textLength="4.2" lengthAdjust="spacingAndGlyphs">4</text></g>
<g transform="translate(637.3,406.0)"><path d="M-8.3,-6.6 L8.3,-6.6 L8.7,-2.2 C8.6,2.4 5,5.6 0,7.1 C-5,5.6 -8.6,2.4 -8.7,-2.2 Z" fill="#4a5cb8" stroke="#aab4e6" stroke-width="0.5"/><path d="M-8.5,-6.9 L8.5,-6.9 L8.8,-3.3 L-8.8,-3.3 Z" fill="#ee1010"/><text class="sh" x="0" y="2.9" textLength="11.2" lengthAdjust="spacingAndGlyphs">138</text></g>
<g transform="translate(656.3,400.7)"><path d="M-8.3,-6.6 L8.3,-6.6 L8.7,-2.2 C8.6,2.4 5,5.6 0,7.1 C-5,5.6 -8.6,2.4 -8.7,-2.2 Z" fill="#4a5cb8" stroke="#aab4e6" stroke-width="0.5"/><path d="M-8.5,-6.9 L8.5,-6.9 L8.8,-3.3 L-8.8,-3.3 Z" fill="#ee1010"/><text class="sh" x="0" y="2.9" textLength="11.2" lengthAdjust="spacingAndGlyphs">114</text></g>
<g transform="translate(465.5,429.1)"><path d="M-8.3,-6.6 L8.3,-6.6 L8.7,-2.2 C8.6,2.4 5,5.6 0,7.1 C-5,5.6 -8.6,2.4 -8.7,-2.2 Z" fill="#4a5cb8" stroke="#aab4e6" stroke-width="0.5"/><path d="M-8.5,-6.9 L8.5,-6.9 L8.8,-3.3 L-8.8,-3.3 Z" fill="#ee1010"/><text class="sh" x="0" y="2.9" textLength="8.2" lengthAdjust="spacingAndGlyphs">85</text></g>
<g transform="translate(536.2,425.2)"><path d="M-8.3,-6.6 L8.3,-6.6 L8.7,-2.2 C8.6,2.4 5,5.6 0,7.1 C-5,5.6 -8.6,2.4 -8.7,-2.2 Z" fill="#4a5cb8" stroke="#aab4e6" stroke-width="0.5"/><path d="M-8.5,-6.9 L8.5,-6.9 L8.8,-3.3 L-8.8,-3.3 Z" fill="#ee1010"/><text class="sh" x="0" y="2.9" textLength="11.2" lengthAdjust="spacingAndGlyphs">184</text></g>
<text class="lb" transform="translate(147.3,129.6) scale(1.115,1)">1.7</text>
<text class="lb" transform="translate(174.8,136.8) scale(1.115,1)">1.5</text>
<text class="lb" transform="translate(130.7,146.6) scale(1.115,1)">1</text>
<text class="lb" transform="translate(162.9,156.0) scale(1.115,1)">4.5</text>
<text class="lb" transform="translate(116.6,161.8) scale(1.115,1)">2.5</text>
<text class="lb" transform="translate(116.1,179.4) scale(1.115,1)">1.5</text>
<text class="lb" transform="translate(180.7,186.0) scale(1.115,1)">2.5</text>
<text class="lb" transform="translate(115.3,195.0) scale(1.115,1)">3.5</text>
<text class="lb" transform="translate(114.7,215.9) scale(1.115,1)">2.6</text>
<text class="lb" transform="translate(158.6,222.2) scale(1.115,1)">2.1</text>
<text class="lb" transform="translate(218.2,204.2) scale(1.115,1)">5.2</text>
<text class="lb" transform="translate(244.6,201.8) scale(1.115,1)">5.1</text>
<text class="lb" transform="translate(223.7,222.4) scale(1.115,1)">6.3</text>
<text class="lb" transform="translate(246.5,219.8) scale(1.115,1)">5</text>
<text class="lb" transform="translate(86.4,240.7) scale(1.115,1)">4</text>
<text class="lb" transform="translate(149.8,239.3) scale(1.115,1)">4</text>
<text class="lb" transform="translate(165.5,240.7) scale(1.115,1)">3</text>
<text class="lb" transform="translate(222.1,240.7) scale(1.115,1)">8.5</text>
<text class="lb" transform="translate(254.7,235.8) scale(1.115,1)">9</text>
<text class="lb" transform="translate(247.5,171.6) scale(1.115,1)">3.5</text>
<text class="lb" transform="translate(248.9,250.5) scale(1.115,1)">7.9</text>
<text class="lb" transform="translate(261.0,140.3) scale(1.115,1)">3.6</text>
<text class="lb" transform="translate(328.4,141.1) scale(1.115,1)">3.5</text>
<text class="lb" transform="translate(362.9,143.3) scale(1.115,1)">2.5</text>
<text class="lb" transform="translate(432.3,133.5) scale(1.115,1)">4.3</text>
<text class="lb" transform="translate(314.1,160.6) scale(1.115,1)">6.8</text>
<text class="lb" transform="translate(375.2,167.5) scale(1.115,1)">4.2</text>
<text class="lb" transform="translate(267.8,171.0) scale(1.115,1)">4</text>
<text class="lb" transform="translate(288.3,174.5) scale(1.115,1)">3.5</text>
<text class="lb" transform="translate(351.8,178.4) scale(1.115,1)">4</text>
<text class="lb" transform="translate(385.6,182.7) scale(1.115,1)">3.8</text>
<text class="lb" transform="translate(293.6,194.4) scale(1.115,1)">7.8</text>
<text class="lb" transform="translate(447.1,195.0) scale(1.115,1)">6.7</text>
<text class="lb" transform="translate(269.8,214.0) scale(1.115,1)">6.1</text>
<text class="lb" transform="translate(344.4,215.3) scale(1.115,1)">7.5</text>
<text class="lb" transform="translate(379.7,231.0) scale(1.115,1)">5.5</text>
<text class="lb" transform="translate(406.1,237.8) scale(1.115,1)">6.8</text>
<text class="lb" transform="translate(578.2,120.6) scale(1.115,1)">5</text>
<text class="lb" transform="translate(616.2,127.0) scale(1.115,1)">6</text>
<text class="lb" transform="translate(648.5,121.2) scale(1.115,1)">6.5</text>
<text class="lb" transform="translate(618.2,159.7) scale(1.115,1)">8.6</text>
<text class="lb" transform="translate(534.2,169.6) scale(1.115,1)">9.5</text>
<text class="lb" transform="translate(557.1,171.0) scale(1.115,1)">9</text>
<text class="lb" transform="translate(574.3,168.5) scale(1.115,1)">8</text>
<text class="lb" transform="translate(596.7,175.9) scale(1.115,1)">5.8</text>
<text class="lb" transform="translate(646.1,179.8) scale(1.115,1)">11</text>
<text class="lb" transform="translate(548.9,192.5) scale(1.115,1)">6.3</text>
<text class="lb" transform="translate(578.2,193.8) scale(1.115,1)">10.1</text>
<text class="lb" transform="translate(626.0,196.4) scale(1.115,1)">10.5</text>
<text class="lb" transform="translate(527.4,210.4) scale(1.115,1)">14.2</text>
<text class="lb" transform="translate(562.9,211.4) scale(1.115,1)">18</text>
<text class="lb" transform="translate(592.4,209.5) scale(1.115,1)">15.1</text>
<text class="lb" transform="translate(632.9,215.9) scale(1.115,1)">9</text>
<text class="lb" transform="translate(581.1,226.7) scale(1.115,1)">7</text>
<text class="lb" transform="translate(493.6,227.6) scale(1.115,1)">13</text>
<text class="lb" transform="translate(526.0,237.4) scale(1.115,1)">13</text>
<text class="lb" transform="translate(615.7,240.7) scale(1.115,1)">10.6</text>
<text class="lb" transform="translate(655.3,226.7) scale(1.115,1)">10</text>
<text class="lb" transform="translate(697.1,121.2) scale(1.115,1)">5</text>
<text class="lb" transform="translate(676.2,132.5) scale(1.115,1)">6</text>
<text class="lb" transform="translate(697.1,138.4) scale(1.115,1)">8.5</text>
<text class="lb" transform="translate(728.4,145.6) scale(1.115,1)">7.2</text>
<text class="lb" transform="translate(753.8,150.5) scale(1.115,1)">11</text>
<text class="lb" transform="translate(712.1,161.8) scale(1.115,1)">14.5</text>
<text class="lb" transform="translate(685.4,167.5) scale(1.115,1)">9</text>
<text class="lb" transform="translate(741.1,166.1) scale(1.115,1)">6</text>
<text class="lb" transform="translate(755.7,168.6) scale(1.115,1)">8</text>
<text class="lb" transform="translate(674.1,183.1) scale(1.115,1)">14.1</text>
<text class="lb" transform="translate(701.4,183.1) scale(1.115,1)">21</text>
<text class="lb" transform="translate(768.4,183.7) scale(1.115,1)">14.5</text>
<text class="lb" transform="translate(809.4,182.7) scale(1.115,1)">11</text>
<text class="lb" transform="translate(808.4,198.3) scale(1.115,1)">22</text>
<text class="lb" transform="translate(748.9,200.3) scale(1.115,1)">11.2</text>
<text class="lb" transform="translate(708.4,204.2) scale(1.115,1)">11.5</text>
<text class="lb" transform="translate(661.6,208.5) scale(1.115,1)">15.2</text>
<text class="lb" transform="translate(768.4,218.5) scale(1.115,1)">16.6</text>
<text class="lb" transform="translate(714.7,224.1) scale(1.115,1)">20</text>
<text class="lb" transform="translate(733.8,240.3) scale(1.115,1)">16.9</text>
<text class="lb" transform="translate(662.9,249.1) scale(1.115,1)">15</text>
<text class="lb" transform="translate(700.0,253.4) scale(1.115,1)">16</text>
<text class="lb" transform="translate(90.3,261.8) scale(1.115,1)">6</text>
<text class="lb" transform="translate(111.4,268.0) scale(1.115,1)">6</text>
<text class="lb" transform="translate(181.1,257.3) scale(1.115,1)">3.5</text>
<text class="lb" transform="translate(224.1,258.3) scale(1.115,1)">7.1</text>
<text class="lb" transform="translate(231.5,272.9) scale(1.115,1)">12.4</text>
<text class="lb" transform="translate(90.3,285.2) scale(1.115,1)">2.9</text>
<text class="lb" transform="translate(112.3,287.2) scale(1.115,1)">4</text>
<text class="lb" transform="translate(139.1,283.6) scale(1.115,1)">5.5</text>
<text class="lb" transform="translate(224.6,298.3) scale(1.115,1)">8</text>
<text class="lb" transform="translate(116.2,304.2) scale(1.115,1)">5</text>
<text class="lb" transform="translate(94.2,308.1) scale(1.115,1)">7</text>
<text class="lb" transform="translate(170.0,306.7) scale(1.115,1)">6</text>
<text class="lb" transform="translate(205.5,308.6) scale(1.115,1)">14</text>
<text class="lb" transform="translate(254.3,316.5) scale(1.115,1)">8.7</text>
<text class="lb" transform="translate(225.0,323.7) scale(1.115,1)">12</text>
<text class="lb" transform="translate(83.0,326.2) scale(1.115,1)">7.5</text>
<text class="lb" transform="translate(108.8,328.6) scale(1.115,1)">9.5</text>
<text class="lb" transform="translate(229.9,341.3) scale(1.115,1)">15</text>
<text class="lb" transform="translate(91.2,344.2) scale(1.115,1)">6</text>
<text class="lb" transform="translate(137.7,348.1) scale(1.115,1)">6.5</text>
<text class="lb" transform="translate(163.1,359.2) scale(1.115,1)">6.3</text>
<text class="lb" transform="translate(212.3,358.3) scale(1.115,1)">9</text>
<text class="lb" transform="translate(71.1,367.0) scale(1.115,1)">8.2</text>
<text class="lb" transform="translate(104.5,370.6) scale(1.115,1)">8.8</text>
<text class="lb" transform="translate(137.1,371.5) scale(1.115,1)">9</text>
<text class="lb" transform="translate(239.3,367.2) scale(1.115,1)">12</text>
<text class="lb" transform="translate(180.1,379.9) scale(1.115,1)">18</text>
<text class="lb" transform="translate(216.2,383.3) scale(1.115,1)">19</text>
<text class="lb" transform="translate(78.6,384.2) scale(1.115,1)">7.2</text>
<text class="lb" transform="translate(111.8,388.1) scale(1.115,1)">10.4</text>
<text class="lb" transform="translate(138.1,387.7) scale(1.115,1)">9</text>
<text class="lb" transform="translate(157.1,390.5) scale(1.115,1)">14</text>
<text class="lb" transform="translate(270.7,261.2) scale(1.115,1)">9</text>
<text class="lb" transform="translate(378.2,269.6) scale(1.115,1)">10</text>
<text class="lb" transform="translate(445.5,267.0) scale(1.115,1)">7.5</text>
<text class="lb" transform="translate(409.0,281.7) scale(1.115,1)">8</text>
<text class="lb" transform="translate(341.1,306.1) scale(1.115,1)">7.5</text>
<text class="lb" transform="translate(391.2,304.2) scale(1.115,1)">7.5</text>
<text class="lb" transform="translate(449.5,311.0) scale(1.115,1)">14</text>
<text class="lb" transform="translate(286.4,317.8) scale(1.115,1)">14.5</text>
<text class="lb" transform="translate(375.2,322.7) scale(1.115,1)">11.8</text>
<text class="lb" transform="translate(294.8,333.5) scale(1.115,1)">15.6</text>
<text class="lb" transform="translate(367.8,338.3) scale(1.115,1)">9.5</text>
<text class="lb" transform="translate(393.4,346.1) scale(1.115,1)">12</text>
<text class="lb" transform="translate(442.0,343.8) scale(1.115,1)">15</text>
<text class="lb" transform="translate(260.6,347.7) scale(1.115,1)">10.5</text>
<text class="lb" transform="translate(297.5,357.5) scale(1.115,1)">11.5</text>
<text class="lb" transform="translate(436.4,360.4) scale(1.115,1)">11</text>
<text class="lb" transform="translate(351.8,363.3) scale(1.115,1)">10.3</text>
<text class="lb" transform="translate(262.0,363.1) scale(1.115,1)">6</text>
<text class="lb" transform="translate(345.9,378.8) scale(1.115,1)">13</text>
<text class="lb" transform="translate(390.9,381.3) scale(1.115,1)">15.5</text>
<text class="lb" transform="translate(423.1,377.0) scale(1.115,1)">13</text>
<text class="lb" transform="translate(453.4,375.4) scale(1.115,1)">12.4</text>
<text class="lb" transform="translate(278.9,382.3) scale(1.115,1)">10</text>
<text class="lb" transform="translate(422.5,391.1) scale(1.115,1)">17</text>
<text class="lb" transform="translate(534.2,258.3) scale(1.115,1)">14</text>
<text class="lb" transform="translate(599.1,257.9) scale(1.115,1)">12.6</text>
<text class="lb" transform="translate(633.8,257.3) scale(1.115,1)">13</text>
<text class="lb" transform="translate(474.1,269.0) scale(1.115,1)">10</text>
<text class="lb" transform="translate(533.6,276.8) scale(1.115,1)">13</text>
<text class="lb" transform="translate(598.3,275.8) scale(1.115,1)">11</text>
<text class="lb" transform="translate(634.8,273.5) scale(1.115,1)">18.9</text>
<text class="lb" transform="translate(469.8,287.9) scale(1.115,1)">8.5</text>
<text class="lb" transform="translate(503.9,287.9) scale(1.115,1)">13.1</text>
<text class="lb" transform="translate(504.9,302.8) scale(1.115,1)">10.5</text>
<text class="lb" transform="translate(550.2,300.6) scale(1.115,1)">14.5</text>
<text class="lb" transform="translate(606.5,300.8) scale(1.115,1)">17</text>
<text class="lb" transform="translate(634.8,298.3) scale(1.115,1)">19.8</text>
<text class="lb" transform="translate(477.6,323.1) scale(1.115,1)">13.3</text>
<text class="lb" transform="translate(512.3,329.5) scale(1.115,1)">22</text>
<text class="lb" transform="translate(586.6,324.3) scale(1.115,1)">25</text>
<text class="lb" transform="translate(612.3,317.8) scale(1.115,1)">26</text>
<text class="lb" transform="translate(655.3,318.8) scale(1.115,1)">28</text>
<text class="lb" transform="translate(555.7,338.7) scale(1.115,1)">33.7</text>
<text class="lb" transform="translate(647.1,334.4) scale(1.115,1)">30</text>
<text class="lb" transform="translate(514.7,353.0) scale(1.115,1)">27.7</text>
<text class="lb" transform="translate(574.3,362.2) scale(1.115,1)">28</text>
<text class="lb" transform="translate(597.7,367.6) scale(1.115,1)">30</text>
<text class="lb" transform="translate(658.2,362.7) scale(1.115,1)">35.5</text>
<text class="lb" transform="translate(516.6,373.1) scale(1.115,1)">27</text>
<text class="lb" transform="translate(541.6,375.8) scale(1.115,1)">27</text>
<text class="lb" transform="translate(580.1,385.6) scale(1.115,1)">33.5</text>
<text class="lb" transform="translate(617.8,384.2) scale(1.115,1)">36.2</text>
<text class="lb" transform="translate(653.4,381.3) scale(1.115,1)">32</text>
<text class="lb" transform="translate(532.3,392.6) scale(1.115,1)">12</text>
<text class="lb" transform="translate(727.4,263.7) scale(1.115,1)">21</text>
<text class="lb" transform="translate(673.3,265.7) scale(1.115,1)">15</text>
<text class="lb" transform="translate(781.1,269.6) scale(1.115,1)">32</text>
<text class="lb" transform="translate(706.3,276.8) scale(1.115,1)">22</text>
<text class="lb" transform="translate(742.0,280.7) scale(1.115,1)">25</text>
<text class="lb" transform="translate(719.6,291.5) scale(1.115,1)">24</text>
<text class="lb" transform="translate(761.2,296.3) scale(1.115,1)">30</text>
<text class="lb" transform="translate(705.3,308.1) scale(1.115,1)">31</text>
<text class="lb" transform="translate(733.2,310.0) scale(1.115,1)">30</text>
<text class="lb" transform="translate(758.2,312.0) scale(1.115,1)">30</text>
<text class="lb" transform="translate(706.3,326.2) scale(1.115,1)">31.8</text>
<text class="lb" transform="translate(754.3,332.1) scale(1.115,1)">31.2</text>
<text class="lb" transform="translate(678.6,338.7) scale(1.115,1)">32</text>
<text class="lb" transform="translate(791.8,344.6) scale(1.115,1)">30.1</text>
<text class="lb" transform="translate(809.4,369.0) scale(1.115,1)">19.5</text>
<text class="lb" transform="translate(854.3,364.7) scale(1.115,1)">18</text>
<text class="lb" transform="translate(725.4,371.0) scale(1.115,1)">31.3</text>
<text class="lb" transform="translate(842.6,380.3) scale(1.115,1)">21</text>
<text class="lb" transform="translate(722.5,386.8) scale(1.115,1)">31</text>
<text class="lb" transform="translate(698.1,390.1) scale(1.115,1)">32</text>
<text class="lb" transform="translate(853.7,364.6) scale(1.115,1)">18</text>
<text class="lb" transform="translate(888.1,368.1) scale(1.115,1)">15</text>
<text class="lb" transform="translate(911.9,369.7) scale(1.115,1)">8.5</text>
<text class="lb" transform="translate(954.5,372.6) scale(1.115,1)">5.5</text>
<text class="lb" transform="translate(842.6,380.8) scale(1.115,1)">21</text>
<text class="lb" transform="translate(870.5,383.7) scale(1.115,1)">20</text>
<text class="lb" transform="translate(851.3,399.4) scale(1.115,1)">14</text>
<text class="lb" transform="translate(85.4,407.6) scale(1.115,1)">11</text>
<text class="lb" transform="translate(109.8,404.5) scale(1.115,1)">18</text>
<text class="lb" transform="translate(132.7,403.1) scale(1.115,1)">11</text>
<text class="lb" transform="translate(155.7,406.5) scale(1.115,1)">12</text>
<text class="lb" transform="translate(188.3,402.6) scale(1.115,1)">21</text>
<text class="lb" transform="translate(220.2,398.6) scale(1.115,1)">16.2</text>
<text class="lb" transform="translate(256.3,399.2) scale(1.115,1)">11</text>
<text class="lb" transform="translate(78.0,423.6) scale(1.115,1)">10</text>
<text class="lb" transform="translate(207.9,417.8) scale(1.115,1)">11</text>
<text class="lb" transform="translate(244.6,421.7) scale(1.115,1)">12</text>
<text class="lb" transform="translate(187.0,426.2) scale(1.115,1)">18</text>
<text class="lb" transform="translate(213.3,433.0) scale(1.115,1)">17</text>
<text class="lb" transform="translate(122.1,438.9) scale(1.115,1)">12.1</text>
<text class="lb" transform="translate(82.5,451.6) scale(1.115,1)">16</text>
<text class="lb" transform="translate(182.7,450.6) scale(1.115,1)">14</text>
<text class="lb" transform="translate(254.3,445.5) scale(1.115,1)">14.8</text>
<text class="lb" transform="translate(134.8,455.5) scale(1.115,1)">22</text>
<text class="lb" transform="translate(84.4,470.1) scale(1.115,1)">21.5</text>
<text class="lb" transform="translate(180.1,471.1) scale(1.115,1)">23.5</text>
<text class="lb" transform="translate(127.4,482.6) scale(1.115,1)">22.5</text>
<text class="lb" transform="translate(91.2,486.1) scale(1.115,1)">17</text>
<text class="lb" transform="translate(62.0,485.8) scale(1.115,1)">15.9</text>
<text class="lb" transform="translate(161.0,487.7) scale(1.115,1)">13</text>
<text class="lb" transform="translate(183.0,490.6) scale(1.115,1)">16</text>
<text class="lb" transform="translate(97.1,504.1) scale(1.115,1)">19</text>
<text class="lb" transform="translate(71.3,507.6) scale(1.115,1)">23</text>
<text class="lb" transform="translate(169.4,507.0) scale(1.115,1)">16</text>
<text class="lb" transform="translate(145.5,512.9) scale(1.115,1)">18</text>
<text class="lb" transform="translate(60.4,525.6) scale(1.115,1)">23.8</text>
<text class="lb" transform="translate(216.2,524.8) scale(1.115,1)">15</text>
<text class="lb" transform="translate(245.5,527.2) scale(1.115,1)">27.2</text>
<text class="lb" transform="translate(166.4,529.5) scale(1.115,1)">19</text>
<text class="lb" transform="translate(98.1,538.1) scale(1.115,1)">22.6</text>
<text class="lb" transform="translate(139.1,536.1) scale(1.115,1)">18.1</text>
<text class="lb" transform="translate(201.0,541.6) scale(1.115,1)">16</text>
<text class="lb" transform="translate(62.0,543.0) scale(1.115,1)">29.7</text>
<text class="lb" transform="translate(273.7,422.7) scale(1.115,1)">16.5</text>
<text class="lb" transform="translate(337.5,430.5) scale(1.115,1)">16</text>
<text class="lb" transform="translate(306.9,445.5) scale(1.115,1)">16.1</text>
<text class="lb" transform="translate(344.4,446.7) scale(1.115,1)">16</text>
<text class="lb" transform="translate(377.8,452.0) scale(1.115,1)">22.1</text>
<text class="lb" transform="translate(415.3,452.6) scale(1.115,1)">17</text>
<text class="lb" transform="translate(458.4,448.1) scale(1.115,1)">18</text>
<text class="lb" transform="translate(289.7,460.2) scale(1.115,1)">17.5</text>
<text class="lb" transform="translate(329.3,467.2) scale(1.115,1)">14.7</text>
<text class="lb" transform="translate(366.4,466.2) scale(1.115,1)">18</text>
<text class="lb" transform="translate(392.4,466.6) scale(1.115,1)">17</text>
<text class="lb" transform="translate(273.3,475.0) scale(1.115,1)">20</text>
<text class="lb" transform="translate(443.6,501.4) scale(1.115,1)">21.1</text>
<text class="lb" transform="translate(404.5,507.6) scale(1.115,1)">23.3</text>
<text class="lb" transform="translate(294.8,513.9) scale(1.115,1)">17</text>
<text class="lb" transform="translate(322.5,519.4) scale(1.115,1)">24</text>
<text class="lb" transform="translate(361.6,518.4) scale(1.115,1)">20.2</text>
<text class="lb" transform="translate(404.5,524.8) scale(1.115,1)">25</text>
<text class="lb" transform="translate(426.0,525.6) scale(1.115,1)">24</text>
<text class="lb" transform="translate(276.0,533.8) scale(1.115,1)">23</text>
<text class="lb" transform="translate(298.5,531.5) scale(1.115,1)">23</text>
<text class="lb" transform="translate(345.4,539.3) scale(1.115,1)">22</text>
<text class="lb" transform="translate(431.7,540.8) scale(1.115,1)">26</text>
<text class="lb" transform="translate(566.4,404.1) scale(1.115,1)">33.3</text>
<text class="lb" transform="translate(509.2,409.0) scale(1.115,1)">18.5</text>
<text class="lb" transform="translate(585.0,421.1) scale(1.115,1)">34</text>
<text class="lb" transform="translate(607.9,419.7) scale(1.115,1)">31</text>
<text class="lb" transform="translate(631.9,427.9) scale(1.115,1)">33</text>
<text class="lb" transform="translate(511.8,434.8) scale(1.115,1)">24</text>
<text class="lb" transform="translate(555.3,444.5) scale(1.115,1)">20.5</text>
<text class="lb" transform="translate(499.1,452.9) scale(1.115,1)">21.5</text>
<text class="lb" transform="translate(526.4,454.9) scale(1.115,1)">24</text>
<text class="lb" transform="translate(467.8,480.3) scale(1.115,1)">26.5</text>
<text class="lb" transform="translate(532.3,496.9) scale(1.115,1)">28.1</text>
<text class="lb" transform="translate(691.2,407.0) scale(1.115,1)">28.4</text>
<text class="lb" transform="translate(719.6,409.6) scale(1.115,1)">33</text>
<text class="lb" transform="translate(693.6,422.3) scale(1.115,1)">28</text>
<text class="lb" transform="translate(745.9,396.3) scale(1.115,1)">37</text>
<text class="lb" transform="translate(810.4,398.3) scale(1.115,1)">16</text>
<text class="lb" transform="translate(797.7,431.5) scale(1.115,1)">20</text>
</g>
<rect x="6.8" y="552.6" width="212" height="157" rx="3.5" ry="3.5" fill="#fff" stroke="#4a4a4a" stroke-width="1.2"/>
<clipPath id="insf"><rect x="7.5" y="552.5" width="211" height="156.5" rx="3"/></clipPath>
<g clip-path="url(#insf)">
<path d="M62.7,607.5 L144.7,607.5 L147.5,614.8 L141.0,617.1 L138.7,621.7 L145.2,625.2 L149.3,632.8 L159.0,634.4 L164.1,631.9 L162.7,628.0 L159.5,627.1 L164.8,630.5 L165.2,637.4 L159.0,639.3 L149.8,637.9 L142.9,640.6 L136.0,642.5 L129.1,643.9 L118.7,645.0 L103.7,646.2 L87.6,648.5 L73.7,650.8 L69.1,653.1 L65.0,656.3 L62.7,656.8 Z" fill="#e89f00"/>
<path d="M62.7,656.8 L65.2,657.7 L69.1,655.9 L92.2,652.9 L108.3,649.4 L117.5,648.0 L111.1,652.9 L92.2,656.8 L62.7,656.8 Z" fill="#e89f00"/>
<path d="M134.8,642.0 L141.7,640.2 L147.5,641.1 L142.9,643.0 L136.0,643.4 Z" fill="#e89f00"/>
<path d="M6.9,579.1 L13.8,575.7 L23.0,569.9 L34.6,563.0 L41.5,560.7 L79.5,561.4 L123.3,561.4 L129.1,560.7 L132.5,554.9 L137.8,552.6" fill="none" stroke="#111" stroke-width="1" stroke-linejoin="round"/>
<path d="M6.9,582.6 L9.2,586.0 L7.4,589.5" fill="none" stroke="#111" stroke-width="1" stroke-linejoin="round"/>
<path d="M79.5,561.4 L78.4,571.0 L79.5,580.3 L77.2,589.5 L78.4,594.1 L81.1,597.6 L81.8,607.5 L81.1,613.0" fill="none" stroke="#111" stroke-width="1" stroke-linejoin="round"/>
<path d="M123.3,561.4 L119.8,571.0 L112.9,576.8 L109.5,587.2 L104.9,596.4 L101.4,605.6 L99.6,612.5" fill="none" stroke="#111" stroke-width="1" stroke-linejoin="round"/>
<path d="M137.8,552.6 L139.4,571.0 L140.6,589.5 L141.7,601.0 L144.7,606.8" fill="none" stroke="#111" stroke-width="1" stroke-linejoin="round"/>
<path d="M81.1,613.0 L99.6,612.5 L129.1,613.7 L138.3,610.2 L144.3,608.4" fill="none" stroke="#111" stroke-width="1" stroke-linejoin="round"/>
<path d="M76.1,628.7 L117.5,629.8 L127.9,630.5 L129.1,636.7 L132.5,640.2" fill="none" stroke="#111" stroke-width="1" stroke-linejoin="round"/>
<path d="M81.1,613.0 L76.1,628.7 L73.7,649.4 L69.1,653.1" fill="none" stroke="#111" stroke-width="1" stroke-linejoin="round"/>
<path d="M118.0,629.8 L118.7,645.0" fill="none" stroke="#111" stroke-width="1" stroke-linejoin="round"/>
<path d="M144.7,607.5 L147.5,602.2 L152.1,596.4 L156.7,591.8 L161.3,589.5 L165.9,586.0 L172.9,584.4 L179.8,581.4 L184.4,578.0 L191.3,574.5 L195.9,575.2 L202.8,573.4 L209.7,573.8 L217.8,572.2" fill="none" stroke="#111" stroke-width="1" stroke-linejoin="round"/>
<path d="M144.7,607.5 L147.5,614.8 L141.0,617.1 L138.7,621.7 L145.2,625.2 L149.3,632.8 L159.0,634.4 L164.1,631.9 L162.7,628.0 L159.5,627.1" fill="none" stroke="#111" stroke-width="1" stroke-linejoin="round"/>
<path d="M164.8,630.5 L165.2,637.4 L159.0,639.3 L149.8,637.9 L142.9,640.6 L136.0,642.5 L129.1,643.9 L118.7,645.0 L103.7,646.2 L87.6,648.5 L73.7,650.8 L69.1,653.1 L65.0,656.3 L60.4,660.5 L57.6,662.1" fill="none" stroke="#111" stroke-width="1" stroke-linejoin="round"/>
<path d="M60.4,660.5 L65.2,657.7 L69.1,655.9 L92.2,652.9 L108.3,649.4 L117.5,648.0 L111.1,652.9 L92.2,657.2 L73.7,660.9 L62.2,663.2 L57.6,662.3" fill="none" stroke="#111" stroke-width="1" stroke-linejoin="round"/>
<path d="M6.9,629.8 L27.7,629.8 L34.6,636.7 L40.3,644.8" fill="none" stroke="#111" stroke-width="1" stroke-linejoin="round"/>
<path d="M40.3,644.8 L64.5,653.6" fill="none" stroke="#111" stroke-width="1" stroke-linejoin="round"/>
<path d="M58.8,663.2 L61.8,670.1 L59.9,681.7 L51.9,693.2 L42.6,700.6 L34.6,696.0 L26.5,687.4 L21.9,682.1" fill="none" stroke="#111" stroke-width="1" stroke-linejoin="round"/>
<path d="M40.3,644.8 L34.6,652.9 L33.4,660.9 L38.0,665.5 L43.8,672.5 L34.6,677.1 L25.4,681.7 L21.9,682.1" fill="none" stroke="#111" stroke-width="1" stroke-linejoin="round"/>
<path d="M6.9,682.1 L21.9,682.1" fill="none" stroke="#111" stroke-width="1" stroke-linejoin="round"/>
<path d="M21.9,682.1 L20.7,690.9 L25.4,700.1 L34.6,708.2" fill="none" stroke="#111" stroke-width="1" stroke-linejoin="round"/>
<path d="M17.3,682.8 L18.4,708.9" fill="none" stroke="#111" stroke-width="1" stroke-linejoin="round"/>
<path d="M6.9,686.3 L11.5,685.1 L16.1,688.6 L10.4,690.9 L6.9,689.7" fill="none" stroke="#111" stroke-width="1" stroke-linejoin="round"/>
<path d="M21.9,684.0 L25.4,695.5 L32.3,701.3" fill="none" stroke="#111" stroke-width="1" stroke-linejoin="round"/>
<path d="M157.4,591.3 L159.0,588.1 L160.4,590.6 L159.5,592.0 Z" fill="#000"/>
<path d="M164.3,588.1 L165.9,584.9 L167.3,587.4 L166.4,588.8 Z" fill="#000"/>
<path d="M170.1,586.3 L171.7,583.0 L173.1,585.6 L172.2,586.9 Z" fill="#000"/>
<path d="M175.8,584.0 L177.5,580.7 L178.8,583.3 L177.9,584.6 Z" fill="#000"/>
<path d="M182.8,580.5 L184.4,577.3 L185.8,579.8 L184.8,581.2 Z" fill="#000"/>
<path d="M188.5,578.2 L190.1,575.0 L191.5,577.5 L190.6,578.9 Z" fill="#000"/>
<path d="M192.0,574.7 L193.6,571.5 L195.0,574.0 L194.1,575.4 Z" fill="#000"/>
<path d="M196.6,577.0 L198.2,573.8 L199.6,576.3 L198.7,577.7 Z" fill="#000"/>
<path d="M202.4,575.9 L204.0,572.7 L205.3,575.2 L204.4,576.6 Z" fill="#000"/>
<path d="M207.0,574.3 L208.6,571.0 L210.0,573.6 L209.0,575.0 Z" fill="#000"/>
<path d="M190.8,580.5 L192.4,577.3 L193.8,579.8 L192.9,581.2 Z" fill="#000"/>
<path d="M185.1,584.0 L186.7,580.7 L188.1,583.3 L187.1,584.6 Z" fill="#000"/>
<path d="M173.5,588.6 L175.2,585.3 L176.5,587.9 L175.6,589.3 Z" fill="#000"/>
<path d="M194.3,572.4 L195.9,569.2 L197.3,571.7 L196.4,573.1 Z" fill="#000"/>
<path d="M198.9,579.3 L200.5,576.1 L201.9,578.7 L201.0,580.0 Z" fill="#000"/>
<path d="M159.7,594.3 L161.3,591.1 L162.7,593.6 L161.8,595.0 Z" fill="#000"/>
<path d="M141.0,645.3 L142.9,643.9 L145.0,644.6 L143.4,645.7 Z" fill="#000"/>
<path d="M145.7,646.4 L147.5,645.0 L149.6,645.7 L148.0,646.9 Z" fill="#000"/>
<path d="M159.5,647.1 L161.3,645.7 L163.4,646.4 L161.8,647.6 Z" fill="#000"/>
<path d="M122.6,649.2 L124.5,647.8 L126.5,648.5 L124.9,649.6 Z" fill="#000"/>
<path d="M127.2,638.3 L129.1,637.0 L131.1,637.7 L129.5,638.8 Z" fill="#000"/>
<path d="M130.7,637.2 L132.5,635.8 L134.6,636.5 L133.0,637.7 Z" fill="#000"/>
<path d="M133.0,639.0 L134.8,637.7 L136.9,638.3 L135.3,639.5 Z" fill="#000"/>
<text class="ins" x="43.3" y="598.2">NY</text>
<text class="ins" x="96.3" y="584.4">VT</text>
<text class="ins" x="123.8" y="592.9">NH</text>
<text class="ins" x="158.1" y="574.5">ME</text>
<text class="ins" x="93.3" y="623.1">MA</text>
<text class="ins" x="95.0" y="640.4">CT</text>
<text class="ins" x="123.3" y="638.3">RI</text>
<text class="ins" x="21.9" y="657.5">PA</text>
<text class="ins" x="47.9" y="668.5">NJ</text>
<text class="ins" x="12.7" y="697.3">MD</text>
<text class="ins" x="25.4" y="707.0">DE</text>
</g>
<g transform="translate(269.2,595.2)"><circle r="18.2" fill="none" stroke="#1a1a1a" stroke-width="2.2"/><circle r="16.6" fill="none" stroke="#888" stroke-width="0.5"/><line x1="0" y1="0" x2="14.3" y2="5.9" stroke="#777" stroke-width="0.4"/><line x1="0" y1="0" x2="5.9" y2="14.3" stroke="#777" stroke-width="0.4"/><line x1="0" y1="0" x2="-5.9" y2="14.3" stroke="#777" stroke-width="0.4"/><line x1="0" y1="0" x2="-14.3" y2="5.9" stroke="#777" stroke-width="0.4"/><line x1="0" y1="0" x2="-14.3" y2="-5.9" stroke="#777" stroke-width="0.4"/><line x1="0" y1="0" x2="-5.9" y2="-14.3" stroke="#777" stroke-width="0.4"/><line x1="0" y1="0" x2="5.9" y2="-14.3" stroke="#777" stroke-width="0.4"/><line x1="0" y1="0" x2="14.3" y2="-5.9" stroke="#777" stroke-width="0.4"/><path d="M0,0 L4.80,0.00 L10.25,10.25 Z" fill="#111" stroke="#111" stroke-width="0.25"/><path d="M0,0 L0.00,4.80 L10.25,10.25 Z" fill="#fff" stroke="#111" stroke-width="0.25"/><path d="M0,0 L0.00,4.80 L-10.25,10.25 Z" fill="#111" stroke="#111" stroke-width="0.25"/><path d="M0,0 L-4.80,0.00 L-10.25,10.25 Z" fill="#fff" stroke="#111" stroke-width="0.25"/><path d="M0,0 L-4.80,0.00 L-10.25,-10.25 Z" fill="#111" stroke="#111" stroke-width="0.25"/><path d="M0,0 L-0.00,-4.80 L-10.25,-10.25 Z" fill="#fff" stroke="#111" stroke-width="0.25"/><path d="M0,0 L-0.00,-4.80 L10.25,-10.25 Z" fill="#111" stroke="#111" stroke-width="0.25"/><path d="M0,0 L4.80,-0.00 L10.25,-10.25 Z" fill="#fff" stroke="#111" stroke-width="0.25"/><path d="M0,0 L3.82,-3.82 L20.60,0.00 Z" fill="#fff" stroke="#111" stroke-width="0.25"/><path d="M0,0 L3.82,3.82 L20.60,0.00 Z" fill="#111" stroke="#111" stroke-width="0.25"/><path d="M0,0 L3.82,3.82 L0.00,20.60 Z" fill="#fff" stroke="#111" stroke-width="0.25"/><path d="M0,0 L-3.82,3.82 L0.00,20.60 Z" fill="#111" stroke="#111" stroke-width="0.25"/><path d="M0,0 L-3.82,3.82 L-20.60,0.00 Z" fill="#fff" stroke="#111" stroke-width="0.25"/><path d="M0,0 L-3.82,-3.82 L-20.60,0.00 Z" fill="#111" stroke="#111" stroke-width="0.25"/><path d="M0,0 L-3.82,-3.82 L-0.00,-20.60 Z" fill="#fff" stroke="#111" stroke-width="0.25"/><path d="M0,0 L3.82,-3.82 L-0.00,-20.60 Z" fill="#111" stroke="#111" stroke-width="0.25"/><text x="0" y="-20.9" text-anchor="middle" style="font-family:'Liberation Serif',serif" font-size="10.5" fill="#666">N</text><text x="0" y="28.7" text-anchor="middle" style="font-family:'Liberation Serif',serif" font-size="10.5" fill="#666">S</text><text x="-26.9" y="3.7" text-anchor="middle" style="font-family:'Liberation Serif',serif" font-size="10.5" fill="#666">W</text><text x="26.2" y="3.7" text-anchor="middle" style="font-family:'Liberation Serif',serif" font-size="10.5" fill="#666">E</text></g>
<text x="389.6" y="585" text-anchor="middle" font-weight="bold" font-size="11.4" fill="#222" textLength="50.5" lengthAdjust="spacingAndGlyphs">Created:</text>
<text x="389.6" y="598.6" text-anchor="middle" font-weight="bold" font-size="11.4" fill="#222" textLength="119" lengthAdjust="spacingAndGlyphs">02/24/2026 12:14PM</text>
<rect x="245" y="631" width="243" height="7.6" fill="#000"/>
<rect x="307" y="632.2" width="60" height="5.2" fill="#fff"/>
<text x="500.5" y="639.5" font-size="15" fill="#333">Miles</text>
<text x="246" y="654.8" text-anchor="middle" font-size="13.4" fill="#333" textLength="8.4" lengthAdjust="spacingAndGlyphs">0</text>
<text x="307" y="654.8" text-anchor="middle" font-size="13.4" fill="#333" textLength="28.4" lengthAdjust="spacingAndGlyphs">19.5</text>
<text x="367" y="654.8" text-anchor="middle" font-size="13.4" fill="#333" textLength="16.8" lengthAdjust="spacingAndGlyphs">39</text>
<text x="488" y="654.8" text-anchor="middle" font-size="13.4" fill="#333" textLength="16.8" lengthAdjust="spacingAndGlyphs">78</text>
<text x="389.3" y="675.6" text-anchor="middle" font-weight="bold" font-size="9.2" fill="#2a2a2a" textLength="274" lengthAdjust="spacingAndGlyphs">This is an experimental product of the NWS GAZPACHO</text>
<text x="389.3" y="686.4" text-anchor="middle" font-weight="bold" font-size="9.2" fill="#2a2a2a" textLength="285" lengthAdjust="spacingAndGlyphs">software package. Care should be taken in using the data.</text>
<text x="389.3" y="697" text-anchor="middle" font-weight="bold" font-size="9.2" fill="#2a2a2a" textLength="302.5" lengthAdjust="spacingAndGlyphs">Unofficial observations may be plotted. Values at interpolated</text>
<text x="389.3" y="707.2" text-anchor="middle" font-weight="bold" font-size="9.2" fill="#2a2a2a" textLength="288" lengthAdjust="spacingAndGlyphs">locations may not represent actual reports at that location.</text>
<text x="566" y="589.3" font-weight="bold" font-size="16" fill="#111" textLength="95.5" lengthAdjust="spacingAndGlyphs">Snowfall (in)</text>
<text class="lg" x="587.7" y="608.2">0.0&quot;</text>
<rect x="557.7" y="615.4" width="24.3" height="10.6" fill="#bdd7e7"/>
<text class="lg" x="587.7" y="627.2">&lt; 1.0&quot;</text>
<rect x="557.7" y="634.4" width="24.3" height="10.6" fill="#6baed6"/>
<text class="lg" x="587.7" y="646.2">1.0&quot; - 2.0&quot;</text>
<rect x="557.7" y="653.4" width="24.3" height="10.6" fill="#3182bd"/>
<text class="lg" x="587.7" y="665.2">2.0&quot; - 3.0&quot;</text>
<rect x="557.7" y="672.9" width="24.3" height="10.6" fill="#08519c"/>
<text class="lg" x="587.7" y="684.7">3.0&quot; - 4.0&quot;</text>
<rect x="666.2" y="575.5" width="24" height="10.6" fill="#082694"/>
<text class="lg" x="696" y="586.7">4.0&quot; - 6.0&quot;</text>
<rect x="666.2" y="594.6" width="24" height="10.6" fill="#ffff96"/>
<text class="lg" x="696" y="605.8">6.0&quot; - 8.0&quot;</text>
<rect x="666.2" y="613.7" width="24" height="10.6" fill="#ffc400"/>
<text class="lg" x="696" y="624.9">8.0&quot; - 12.0&quot;</text>
<rect x="666.2" y="632.8" width="24" height="10.6" fill="#ff8700"/>
<text class="lg" x="696" y="644">12.0&quot; - 18.0&quot;</text>
<rect x="666.2" y="651.9" width="24" height="10.6" fill="#db1400"/>
<text class="lg" x="696" y="663.1">18.0&quot; - 24.0&quot;</text>
<rect x="666.2" y="671" width="24" height="10.6" fill="#9e0000"/>
<text class="lg" x="696" y="682.2">24.0&quot; - 30.0&quot;</text>
<rect x="777.3" y="575.5" width="24.2" height="10.6" fill="#690000"/>
<text class="lg" x="807" y="586.7">30.0&quot; - 36.0&quot;</text>
<rect x="777.3" y="594.6" width="24.2" height="10.6" fill="#330000"/>
<text class="lg" x="807" y="605.8">36.0&quot; - 48.0&quot;</text>
<rect x="777.3" y="613.7" width="24.2" height="10.6" fill="#ccccff"/>
<text class="lg" x="807" y="624.9">48.0&quot; - 60.0&quot;</text>
<rect x="777.3" y="632.8" width="24.2" height="10.6" fill="#9f8cd8"/>
<text class="lg" x="807" y="644">60.0&quot; - 72.0&quot;</text>
<rect x="777.3" y="651.9" width="24.2" height="10.6" fill="#7c52a5"/>
<text class="lg" x="807" y="663.1">72.0&quot; - 96.0&quot;</text>
<rect x="777.3" y="671" width="24.2" height="10.6" fill="#561c72"/>
<text class="lg" x="807" y="682.2">96.0&quot; - 120.0&quot;</text>
<rect x="895.5" y="575.5" width="23.6" height="10.6" fill="#2e0033"/>
<text class="lg" x="925.5" y="586.7">120.0+&quot;</text>
<rect x="891.3" y="596.6" width="21.8" height="8" rx="2" ry="2" fill="#fff" stroke="#000" stroke-width="1.7"/>
<text class="lg" x="920" y="604.2">NWSStates</text>
<rect x="890.5" y="612.3" width="23.3" height="10" rx="1" ry="1" fill="#fff" stroke="#999" stroke-width="0.8"/>
<text class="lg" x="920" y="621.2">NWSCounties</text>
<line x1="891" y1="633.7" x2="912.5" y2="633.7" stroke="#777" stroke-width="0.7"/><line x1="891" y1="635.6" x2="912.5" y2="635.6" stroke="#777" stroke-width="0.7"/>
<text class="lg" x="920" y="638.7">Interstates</text>
<rect x="890.5" y="646.3" width="23.3" height="10.5" rx="1" ry="1" fill="#bdd7ee" stroke="#888" stroke-width="0.8"/>
<text class="lg" x="920" y="655.7">NWSLakes</text>
<line x1="890" y1="668.2" x2="914" y2="668.2" stroke="#2b6cb0" stroke-width="1.2"/>
<text class="lg" x="920" y="672.6">NWSRivers1</text>
</g>
<rect x="0.6" y="0.6" width="1022.8" height="718.8" fill="none" stroke="#000" stroke-width="1.4"/>
</svg></body></html>
